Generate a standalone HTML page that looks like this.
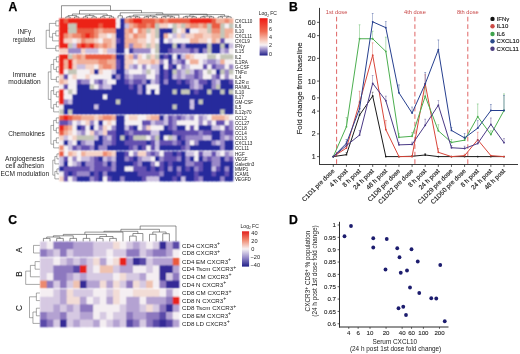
<!DOCTYPE html>
<html><head><meta charset="utf-8"><style>
html,body{margin:0;padding:0;background:#fff;}
svg{display:block;font-family:"Liberation Sans", Arial, Helvetica, sans-serif;}
</style></head><body>
<svg width="520" height="354" viewBox="0 0 520 354" shape-rendering="auto">
<defs><filter id="blur1" x="-5%" y="-5%" width="110%" height="110%"><feConvolveMatrix order="3" kernelMatrix="1 2 1 2 4 2 1 2 1" divisor="16" edgeMode="duplicate"/></filter></defs>
<rect width="520" height="354" fill="#fff"/>
<g filter="url(#blur1)">
<rect x="59.30" y="18.40" width="5.55" height="6.20" fill="#ec2219"/>
<rect x="63.65" y="18.40" width="5.55" height="6.20" fill="#ea5c42"/>
<rect x="68.00" y="18.40" width="5.55" height="6.20" fill="#ec2219"/>
<rect x="72.35" y="18.40" width="5.55" height="6.20" fill="#ec2219"/>
<rect x="76.70" y="18.40" width="5.55" height="6.20" fill="#ec2219"/>
<rect x="81.05" y="18.40" width="5.55" height="6.20" fill="#ec2219"/>
<rect x="85.40" y="18.40" width="5.55" height="6.20" fill="#ec2219"/>
<rect x="89.75" y="18.40" width="5.55" height="6.20" fill="#ec2219"/>
<rect x="94.10" y="18.40" width="5.55" height="6.20" fill="#ec2219"/>
<rect x="98.45" y="18.40" width="5.55" height="6.20" fill="#ec2219"/>
<rect x="102.80" y="18.40" width="5.55" height="6.20" fill="#ec2219"/>
<rect x="107.15" y="18.40" width="5.55" height="6.20" fill="#ec2219"/>
<rect x="111.50" y="18.40" width="5.55" height="6.20" fill="#ec2219"/>
<rect x="115.85" y="18.40" width="5.55" height="6.20" fill="#f5f0f2"/>
<rect x="120.20" y="18.40" width="5.55" height="6.20" fill="#282c9c"/>
<rect x="124.55" y="18.40" width="5.55" height="6.20" fill="#ee8a70"/>
<rect x="128.90" y="18.40" width="5.55" height="6.20" fill="#ea5c42"/>
<rect x="133.25" y="18.40" width="5.55" height="6.20" fill="#ec2219"/>
<rect x="137.60" y="18.40" width="5.55" height="6.20" fill="#ec2219"/>
<rect x="141.95" y="18.40" width="5.55" height="6.20" fill="#ea5c42"/>
<rect x="146.30" y="18.40" width="5.55" height="6.20" fill="#ea5c42"/>
<rect x="150.65" y="18.40" width="5.55" height="6.20" fill="#ea5c42"/>
<rect x="155.00" y="18.40" width="5.55" height="6.20" fill="#ee8a70"/>
<rect x="159.35" y="18.40" width="5.55" height="6.20" fill="#ea5c42"/>
<rect x="163.70" y="18.40" width="5.55" height="6.20" fill="#ee8a70"/>
<rect x="168.05" y="18.40" width="5.55" height="6.20" fill="#ea5c42"/>
<rect x="172.40" y="18.40" width="5.55" height="6.20" fill="#ea5c42"/>
<rect x="176.75" y="18.40" width="5.55" height="6.20" fill="#ea5c42"/>
<rect x="181.10" y="18.40" width="5.55" height="6.20" fill="#ea5c42"/>
<rect x="185.45" y="18.40" width="5.55" height="6.20" fill="#ea5c42"/>
<rect x="189.80" y="18.40" width="5.55" height="6.20" fill="#ec2219"/>
<rect x="194.15" y="18.40" width="5.55" height="6.20" fill="#ec2219"/>
<rect x="198.50" y="18.40" width="5.55" height="6.20" fill="#ec2219"/>
<rect x="202.85" y="18.40" width="5.55" height="6.20" fill="#ec2219"/>
<rect x="207.20" y="18.40" width="5.55" height="6.20" fill="#ec2219"/>
<rect x="211.55" y="18.40" width="5.55" height="6.20" fill="#ea5c42"/>
<rect x="215.90" y="18.40" width="5.55" height="6.20" fill="#f1b09a"/>
<rect x="220.25" y="18.40" width="5.55" height="6.20" fill="#f1b09a"/>
<rect x="224.60" y="18.40" width="5.55" height="6.20" fill="#ee8a70"/>
<rect x="228.95" y="18.40" width="4.35" height="6.20" fill="#f1b09a"/>
<rect x="59.30" y="23.40" width="5.55" height="6.20" fill="#ec2219"/>
<rect x="63.65" y="23.40" width="5.55" height="6.20" fill="#ec2219"/>
<rect x="68.00" y="23.40" width="5.55" height="6.20" fill="#c4c6b8"/>
<rect x="72.35" y="23.40" width="5.55" height="6.20" fill="#c4c6b8"/>
<rect x="76.70" y="23.40" width="5.55" height="6.20" fill="#ec2219"/>
<rect x="81.05" y="23.40" width="5.55" height="6.20" fill="#ec2219"/>
<rect x="85.40" y="23.40" width="5.55" height="6.20" fill="#ec2219"/>
<rect x="89.75" y="23.40" width="5.55" height="6.20" fill="#ec2219"/>
<rect x="94.10" y="23.40" width="5.55" height="6.20" fill="#ec2219"/>
<rect x="98.45" y="23.40" width="5.55" height="6.20" fill="#ea5c42"/>
<rect x="102.80" y="23.40" width="5.55" height="6.20" fill="#ec2219"/>
<rect x="107.15" y="23.40" width="5.55" height="6.20" fill="#ec2219"/>
<rect x="111.50" y="23.40" width="5.55" height="6.20" fill="#ec2219"/>
<rect x="115.85" y="23.40" width="5.55" height="6.20" fill="#f5f0f2"/>
<rect x="120.20" y="23.40" width="5.55" height="6.20" fill="#282c9c"/>
<rect x="124.55" y="23.40" width="5.55" height="6.20" fill="#cbbfe0"/>
<rect x="128.90" y="23.40" width="5.55" height="6.20" fill="#f1b09a"/>
<rect x="133.25" y="23.40" width="5.55" height="6.20" fill="#ee8a70"/>
<rect x="137.60" y="23.40" width="5.55" height="6.20" fill="#ea5c42"/>
<rect x="141.95" y="23.40" width="5.55" height="6.20" fill="#ea5c42"/>
<rect x="146.30" y="23.40" width="5.55" height="6.20" fill="#ee8a70"/>
<rect x="150.65" y="23.40" width="5.55" height="6.20" fill="#ea5c42"/>
<rect x="155.00" y="23.40" width="5.55" height="6.20" fill="#c4c6b8"/>
<rect x="159.35" y="23.40" width="5.55" height="6.20" fill="#f5d2c6"/>
<rect x="163.70" y="23.40" width="5.55" height="6.20" fill="#f5d2c6"/>
<rect x="168.05" y="23.40" width="5.55" height="6.20" fill="#f5f0f2"/>
<rect x="172.40" y="23.40" width="5.55" height="6.20" fill="#c4c6b8"/>
<rect x="176.75" y="23.40" width="5.55" height="6.20" fill="#f5d2c6"/>
<rect x="181.10" y="23.40" width="5.55" height="6.20" fill="#c4c6b8"/>
<rect x="185.45" y="23.40" width="5.55" height="6.20" fill="#f1b09a"/>
<rect x="189.80" y="23.40" width="5.55" height="6.20" fill="#ee8a70"/>
<rect x="194.15" y="23.40" width="5.55" height="6.20" fill="#ee8a70"/>
<rect x="198.50" y="23.40" width="5.55" height="6.20" fill="#f1b09a"/>
<rect x="202.85" y="23.40" width="5.55" height="6.20" fill="#ee8a70"/>
<rect x="207.20" y="23.40" width="5.55" height="6.20" fill="#c4c6b8"/>
<rect x="211.55" y="23.40" width="5.55" height="6.20" fill="#ea5c42"/>
<rect x="215.90" y="23.40" width="5.55" height="6.20" fill="#ea5c42"/>
<rect x="220.25" y="23.40" width="5.55" height="6.20" fill="#c4c6b8"/>
<rect x="224.60" y="23.40" width="5.55" height="6.20" fill="#f5f0f2"/>
<rect x="228.95" y="23.40" width="4.35" height="6.20" fill="#c4c6b8"/>
<rect x="59.30" y="28.40" width="5.55" height="6.20" fill="#ec2219"/>
<rect x="63.65" y="28.40" width="5.55" height="6.20" fill="#ec2219"/>
<rect x="68.00" y="28.40" width="5.55" height="6.20" fill="#c4c6b8"/>
<rect x="72.35" y="28.40" width="5.55" height="6.20" fill="#c4c6b8"/>
<rect x="76.70" y="28.40" width="5.55" height="6.20" fill="#ea5c42"/>
<rect x="81.05" y="28.40" width="5.55" height="6.20" fill="#ea5c42"/>
<rect x="85.40" y="28.40" width="5.55" height="6.20" fill="#ea5c42"/>
<rect x="89.75" y="28.40" width="5.55" height="6.20" fill="#ea5c42"/>
<rect x="94.10" y="28.40" width="5.55" height="6.20" fill="#ee8a70"/>
<rect x="98.45" y="28.40" width="5.55" height="6.20" fill="#f1b09a"/>
<rect x="102.80" y="28.40" width="5.55" height="6.20" fill="#ee8a70"/>
<rect x="107.15" y="28.40" width="5.55" height="6.20" fill="#ee8a70"/>
<rect x="111.50" y="28.40" width="5.55" height="6.20" fill="#ee8a70"/>
<rect x="115.85" y="28.40" width="5.55" height="6.20" fill="#282c9c"/>
<rect x="120.20" y="28.40" width="5.55" height="6.20" fill="#282c9c"/>
<rect x="124.55" y="28.40" width="5.55" height="6.20" fill="#f1b09a"/>
<rect x="128.90" y="28.40" width="5.55" height="6.20" fill="#ee8a70"/>
<rect x="133.25" y="28.40" width="5.55" height="6.20" fill="#f5f0f2"/>
<rect x="137.60" y="28.40" width="5.55" height="6.20" fill="#ee8a70"/>
<rect x="141.95" y="28.40" width="5.55" height="6.20" fill="#f1b09a"/>
<rect x="146.30" y="28.40" width="5.55" height="6.20" fill="#c4c6b8"/>
<rect x="150.65" y="28.40" width="5.55" height="6.20" fill="#f5d2c6"/>
<rect x="155.00" y="28.40" width="5.55" height="6.20" fill="#c4c6b8"/>
<rect x="159.35" y="28.40" width="5.55" height="6.20" fill="#282c9c"/>
<rect x="163.70" y="28.40" width="5.55" height="6.20" fill="#282c9c"/>
<rect x="168.05" y="28.40" width="5.55" height="6.20" fill="#282c9c"/>
<rect x="172.40" y="28.40" width="5.55" height="6.20" fill="#c4c6b8"/>
<rect x="176.75" y="28.40" width="5.55" height="6.20" fill="#f5f0f2"/>
<rect x="181.10" y="28.40" width="5.55" height="6.20" fill="#f5d2c6"/>
<rect x="185.45" y="28.40" width="5.55" height="6.20" fill="#282c9c"/>
<rect x="189.80" y="28.40" width="5.55" height="6.20" fill="#f5f0f2"/>
<rect x="194.15" y="28.40" width="5.55" height="6.20" fill="#f5f0f2"/>
<rect x="198.50" y="28.40" width="5.55" height="6.20" fill="#f5d2c6"/>
<rect x="202.85" y="28.40" width="5.55" height="6.20" fill="#f5d2c6"/>
<rect x="207.20" y="28.40" width="5.55" height="6.20" fill="#c4c6b8"/>
<rect x="211.55" y="28.40" width="5.55" height="6.20" fill="#ee8a70"/>
<rect x="215.90" y="28.40" width="5.55" height="6.20" fill="#ee8a70"/>
<rect x="220.25" y="28.40" width="5.55" height="6.20" fill="#c4c6b8"/>
<rect x="224.60" y="28.40" width="5.55" height="6.20" fill="#f1b09a"/>
<rect x="228.95" y="28.40" width="4.35" height="6.20" fill="#f1b09a"/>
<rect x="59.30" y="33.40" width="5.55" height="6.20" fill="#ec2219"/>
<rect x="63.65" y="33.40" width="5.55" height="6.20" fill="#ee8a70"/>
<rect x="68.00" y="33.40" width="5.55" height="6.20" fill="#f1b09a"/>
<rect x="72.35" y="33.40" width="5.55" height="6.20" fill="#ee8a70"/>
<rect x="76.70" y="33.40" width="5.55" height="6.20" fill="#ee8a70"/>
<rect x="81.05" y="33.40" width="5.55" height="6.20" fill="#ea5c42"/>
<rect x="85.40" y="33.40" width="5.55" height="6.20" fill="#ec2219"/>
<rect x="89.75" y="33.40" width="5.55" height="6.20" fill="#ea5c42"/>
<rect x="94.10" y="33.40" width="5.55" height="6.20" fill="#ee8a70"/>
<rect x="98.45" y="33.40" width="5.55" height="6.20" fill="#f5d2c6"/>
<rect x="102.80" y="33.40" width="5.55" height="6.20" fill="#f5d2c6"/>
<rect x="107.15" y="33.40" width="5.55" height="6.20" fill="#f5f0f2"/>
<rect x="111.50" y="33.40" width="5.55" height="6.20" fill="#f5d2c6"/>
<rect x="115.85" y="33.40" width="5.55" height="6.20" fill="#282c9c"/>
<rect x="120.20" y="33.40" width="5.55" height="6.20" fill="#282c9c"/>
<rect x="124.55" y="33.40" width="5.55" height="6.20" fill="#f1b09a"/>
<rect x="128.90" y="33.40" width="5.55" height="6.20" fill="#f5d2c6"/>
<rect x="133.25" y="33.40" width="5.55" height="6.20" fill="#ee8a70"/>
<rect x="137.60" y="33.40" width="5.55" height="6.20" fill="#f1b09a"/>
<rect x="141.95" y="33.40" width="5.55" height="6.20" fill="#f1b09a"/>
<rect x="146.30" y="33.40" width="5.55" height="6.20" fill="#f5f0f2"/>
<rect x="150.65" y="33.40" width="5.55" height="6.20" fill="#f5d2c6"/>
<rect x="155.00" y="33.40" width="5.55" height="6.20" fill="#c4c6b8"/>
<rect x="159.35" y="33.40" width="5.55" height="6.20" fill="#282c9c"/>
<rect x="163.70" y="33.40" width="5.55" height="6.20" fill="#f1b09a"/>
<rect x="168.05" y="33.40" width="5.55" height="6.20" fill="#f5f0f2"/>
<rect x="172.40" y="33.40" width="5.55" height="6.20" fill="#cbbfe0"/>
<rect x="176.75" y="33.40" width="5.55" height="6.20" fill="#f5d2c6"/>
<rect x="181.10" y="33.40" width="5.55" height="6.20" fill="#cbbfe0"/>
<rect x="185.45" y="33.40" width="5.55" height="6.20" fill="#f5d2c6"/>
<rect x="189.80" y="33.40" width="5.55" height="6.20" fill="#f5d2c6"/>
<rect x="194.15" y="33.40" width="5.55" height="6.20" fill="#f1b09a"/>
<rect x="198.50" y="33.40" width="5.55" height="6.20" fill="#f1b09a"/>
<rect x="202.85" y="33.40" width="5.55" height="6.20" fill="#f5d2c6"/>
<rect x="207.20" y="33.40" width="5.55" height="6.20" fill="#f5d2c6"/>
<rect x="211.55" y="33.40" width="5.55" height="6.20" fill="#f1b09a"/>
<rect x="215.90" y="33.40" width="5.55" height="6.20" fill="#f1b09a"/>
<rect x="220.25" y="33.40" width="5.55" height="6.20" fill="#c4c6b8"/>
<rect x="224.60" y="33.40" width="5.55" height="6.20" fill="#f1b09a"/>
<rect x="228.95" y="33.40" width="4.35" height="6.20" fill="#f5d2c6"/>
<rect x="59.30" y="38.40" width="5.55" height="6.20" fill="#ec2219"/>
<rect x="63.65" y="38.40" width="5.55" height="6.20" fill="#f5d2c6"/>
<rect x="68.00" y="38.40" width="5.55" height="6.20" fill="#f5d2c6"/>
<rect x="72.35" y="38.40" width="5.55" height="6.20" fill="#f5f0f2"/>
<rect x="76.70" y="38.40" width="5.55" height="6.20" fill="#f5d2c6"/>
<rect x="81.05" y="38.40" width="5.55" height="6.20" fill="#ee8a70"/>
<rect x="85.40" y="38.40" width="5.55" height="6.20" fill="#f1b09a"/>
<rect x="89.75" y="38.40" width="5.55" height="6.20" fill="#f1b09a"/>
<rect x="94.10" y="38.40" width="5.55" height="6.20" fill="#f5d2c6"/>
<rect x="98.45" y="38.40" width="5.55" height="6.20" fill="#f5f0f2"/>
<rect x="102.80" y="38.40" width="5.55" height="6.20" fill="#f1b09a"/>
<rect x="107.15" y="38.40" width="5.55" height="6.20" fill="#f1b09a"/>
<rect x="111.50" y="38.40" width="5.55" height="6.20" fill="#f5d2c6"/>
<rect x="115.85" y="38.40" width="5.55" height="6.20" fill="#6450b0"/>
<rect x="120.20" y="38.40" width="5.55" height="6.20" fill="#282c9c"/>
<rect x="124.55" y="38.40" width="5.55" height="6.20" fill="#f1b09a"/>
<rect x="128.90" y="38.40" width="5.55" height="6.20" fill="#f1b09a"/>
<rect x="133.25" y="38.40" width="5.55" height="6.20" fill="#f1b09a"/>
<rect x="137.60" y="38.40" width="5.55" height="6.20" fill="#f5d2c6"/>
<rect x="141.95" y="38.40" width="5.55" height="6.20" fill="#f5d2c6"/>
<rect x="146.30" y="38.40" width="5.55" height="6.20" fill="#f5f0f2"/>
<rect x="150.65" y="38.40" width="5.55" height="6.20" fill="#f5d2c6"/>
<rect x="155.00" y="38.40" width="5.55" height="6.20" fill="#f5f0f2"/>
<rect x="159.35" y="38.40" width="5.55" height="6.20" fill="#282c9c"/>
<rect x="163.70" y="38.40" width="5.55" height="6.20" fill="#f5f0f2"/>
<rect x="168.05" y="38.40" width="5.55" height="6.20" fill="#cbbfe0"/>
<rect x="172.40" y="38.40" width="5.55" height="6.20" fill="#f5f0f2"/>
<rect x="176.75" y="38.40" width="5.55" height="6.20" fill="#f5f0f2"/>
<rect x="181.10" y="38.40" width="5.55" height="6.20" fill="#f5f0f2"/>
<rect x="185.45" y="38.40" width="5.55" height="6.20" fill="#f5f0f2"/>
<rect x="189.80" y="38.40" width="5.55" height="6.20" fill="#f1b09a"/>
<rect x="194.15" y="38.40" width="5.55" height="6.20" fill="#f1b09a"/>
<rect x="198.50" y="38.40" width="5.55" height="6.20" fill="#f5d2c6"/>
<rect x="202.85" y="38.40" width="5.55" height="6.20" fill="#f5d2c6"/>
<rect x="207.20" y="38.40" width="5.55" height="6.20" fill="#f5f0f2"/>
<rect x="211.55" y="38.40" width="5.55" height="6.20" fill="#f1b09a"/>
<rect x="215.90" y="38.40" width="5.55" height="6.20" fill="#f5d2c6"/>
<rect x="220.25" y="38.40" width="5.55" height="6.20" fill="#6450b0"/>
<rect x="224.60" y="38.40" width="5.55" height="6.20" fill="#f5f0f2"/>
<rect x="228.95" y="38.40" width="4.35" height="6.20" fill="#f5f0f2"/>
<rect x="59.30" y="43.40" width="5.55" height="6.20" fill="#ec2219"/>
<rect x="63.65" y="43.40" width="5.55" height="6.20" fill="#ec2219"/>
<rect x="68.00" y="43.40" width="5.55" height="6.20" fill="#c4c6b8"/>
<rect x="72.35" y="43.40" width="5.55" height="6.20" fill="#cbbfe0"/>
<rect x="76.70" y="43.40" width="5.55" height="6.20" fill="#ea5c42"/>
<rect x="81.05" y="43.40" width="5.55" height="6.20" fill="#ec2219"/>
<rect x="85.40" y="43.40" width="5.55" height="6.20" fill="#ea5c42"/>
<rect x="89.75" y="43.40" width="5.55" height="6.20" fill="#ec2219"/>
<rect x="94.10" y="43.40" width="5.55" height="6.20" fill="#ee8a70"/>
<rect x="98.45" y="43.40" width="5.55" height="6.20" fill="#f1b09a"/>
<rect x="102.80" y="43.40" width="5.55" height="6.20" fill="#ee8a70"/>
<rect x="107.15" y="43.40" width="5.55" height="6.20" fill="#f1b09a"/>
<rect x="111.50" y="43.40" width="5.55" height="6.20" fill="#f5d2c6"/>
<rect x="115.85" y="43.40" width="5.55" height="6.20" fill="#282c9c"/>
<rect x="120.20" y="43.40" width="5.55" height="6.20" fill="#282c9c"/>
<rect x="124.55" y="43.40" width="5.55" height="6.20" fill="#f1b09a"/>
<rect x="128.90" y="43.40" width="5.55" height="6.20" fill="#9a88c8"/>
<rect x="133.25" y="43.40" width="5.55" height="6.20" fill="#f1b09a"/>
<rect x="137.60" y="43.40" width="5.55" height="6.20" fill="#f1b09a"/>
<rect x="141.95" y="43.40" width="5.55" height="6.20" fill="#f5d2c6"/>
<rect x="146.30" y="43.40" width="5.55" height="6.20" fill="#c4c6b8"/>
<rect x="150.65" y="43.40" width="5.55" height="6.20" fill="#f5d2c6"/>
<rect x="155.00" y="43.40" width="5.55" height="6.20" fill="#c4c6b8"/>
<rect x="159.35" y="43.40" width="5.55" height="6.20" fill="#282c9c"/>
<rect x="163.70" y="43.40" width="5.55" height="6.20" fill="#282c9c"/>
<rect x="168.05" y="43.40" width="5.55" height="6.20" fill="#282c9c"/>
<rect x="172.40" y="43.40" width="5.55" height="6.20" fill="#c4c6b8"/>
<rect x="176.75" y="43.40" width="5.55" height="6.20" fill="#282c9c"/>
<rect x="181.10" y="43.40" width="5.55" height="6.20" fill="#9a88c8"/>
<rect x="185.45" y="43.40" width="5.55" height="6.20" fill="#282c9c"/>
<rect x="189.80" y="43.40" width="5.55" height="6.20" fill="#282c9c"/>
<rect x="194.15" y="43.40" width="5.55" height="6.20" fill="#282c9c"/>
<rect x="198.50" y="43.40" width="5.55" height="6.20" fill="#282c9c"/>
<rect x="202.85" y="43.40" width="5.55" height="6.20" fill="#282c9c"/>
<rect x="207.20" y="43.40" width="5.55" height="6.20" fill="#c4c6b8"/>
<rect x="211.55" y="43.40" width="5.55" height="6.20" fill="#282c9c"/>
<rect x="215.90" y="43.40" width="5.55" height="6.20" fill="#282c9c"/>
<rect x="220.25" y="43.40" width="5.55" height="6.20" fill="#c4c6b8"/>
<rect x="224.60" y="43.40" width="5.55" height="6.20" fill="#282c9c"/>
<rect x="228.95" y="43.40" width="4.35" height="6.20" fill="#cbbfe0"/>
<rect x="59.30" y="48.40" width="5.55" height="5.00" fill="#f5d2c6"/>
<rect x="63.65" y="48.40" width="5.55" height="5.00" fill="#f5d2c6"/>
<rect x="68.00" y="48.40" width="5.55" height="5.00" fill="#9a88c8"/>
<rect x="72.35" y="48.40" width="5.55" height="5.00" fill="#9a88c8"/>
<rect x="76.70" y="48.40" width="5.55" height="5.00" fill="#9a88c8"/>
<rect x="81.05" y="48.40" width="5.55" height="5.00" fill="#f5d2c6"/>
<rect x="85.40" y="48.40" width="5.55" height="5.00" fill="#cbbfe0"/>
<rect x="89.75" y="48.40" width="5.55" height="5.00" fill="#cbbfe0"/>
<rect x="94.10" y="48.40" width="5.55" height="5.00" fill="#cbbfe0"/>
<rect x="98.45" y="48.40" width="5.55" height="5.00" fill="#f5f0f2"/>
<rect x="102.80" y="48.40" width="5.55" height="5.00" fill="#f5d2c6"/>
<rect x="107.15" y="48.40" width="5.55" height="5.00" fill="#cbbfe0"/>
<rect x="111.50" y="48.40" width="5.55" height="5.00" fill="#cbbfe0"/>
<rect x="115.85" y="48.40" width="5.55" height="5.00" fill="#282c9c"/>
<rect x="120.20" y="48.40" width="5.55" height="5.00" fill="#282c9c"/>
<rect x="124.55" y="48.40" width="5.55" height="5.00" fill="#f5f0f2"/>
<rect x="128.90" y="48.40" width="5.55" height="5.00" fill="#3f3aa3"/>
<rect x="133.25" y="48.40" width="5.55" height="5.00" fill="#9a88c8"/>
<rect x="137.60" y="48.40" width="5.55" height="5.00" fill="#9a88c8"/>
<rect x="141.95" y="48.40" width="5.55" height="5.00" fill="#9a88c8"/>
<rect x="146.30" y="48.40" width="5.55" height="5.00" fill="#9a88c8"/>
<rect x="150.65" y="48.40" width="5.55" height="5.00" fill="#f5f0f2"/>
<rect x="155.00" y="48.40" width="5.55" height="5.00" fill="#c4c6b8"/>
<rect x="159.35" y="48.40" width="5.55" height="5.00" fill="#282c9c"/>
<rect x="163.70" y="48.40" width="5.55" height="5.00" fill="#282c9c"/>
<rect x="168.05" y="48.40" width="5.55" height="5.00" fill="#6450b0"/>
<rect x="172.40" y="48.40" width="5.55" height="5.00" fill="#9a88c8"/>
<rect x="176.75" y="48.40" width="5.55" height="5.00" fill="#9a88c8"/>
<rect x="181.10" y="48.40" width="5.55" height="5.00" fill="#9a88c8"/>
<rect x="185.45" y="48.40" width="5.55" height="5.00" fill="#9a88c8"/>
<rect x="189.80" y="48.40" width="5.55" height="5.00" fill="#6450b0"/>
<rect x="194.15" y="48.40" width="5.55" height="5.00" fill="#9a88c8"/>
<rect x="198.50" y="48.40" width="5.55" height="5.00" fill="#282c9c"/>
<rect x="202.85" y="48.40" width="5.55" height="5.00" fill="#9a88c8"/>
<rect x="207.20" y="48.40" width="5.55" height="5.00" fill="#c4c6b8"/>
<rect x="211.55" y="48.40" width="5.55" height="5.00" fill="#282c9c"/>
<rect x="215.90" y="48.40" width="5.55" height="5.00" fill="#282c9c"/>
<rect x="220.25" y="48.40" width="5.55" height="5.00" fill="#cbbfe0"/>
<rect x="224.60" y="48.40" width="5.55" height="5.00" fill="#9a88c8"/>
<rect x="228.95" y="48.40" width="4.35" height="5.00" fill="#f5f0f2"/>
<rect x="59.30" y="54.40" width="5.55" height="6.20" fill="#ec2219"/>
<rect x="63.65" y="54.40" width="5.55" height="6.20" fill="#ec2219"/>
<rect x="68.00" y="54.40" width="5.55" height="6.20" fill="#c4c6b8"/>
<rect x="72.35" y="54.40" width="5.55" height="6.20" fill="#f1b09a"/>
<rect x="76.70" y="54.40" width="5.55" height="6.20" fill="#ee8a70"/>
<rect x="81.05" y="54.40" width="5.55" height="6.20" fill="#f1b09a"/>
<rect x="85.40" y="54.40" width="5.55" height="6.20" fill="#ea5c42"/>
<rect x="89.75" y="54.40" width="5.55" height="6.20" fill="#ea5c42"/>
<rect x="94.10" y="54.40" width="5.55" height="6.20" fill="#ea5c42"/>
<rect x="98.45" y="54.40" width="5.55" height="6.20" fill="#ea5c42"/>
<rect x="102.80" y="54.40" width="5.55" height="6.20" fill="#ea5c42"/>
<rect x="107.15" y="54.40" width="5.55" height="6.20" fill="#ea5c42"/>
<rect x="111.50" y="54.40" width="5.55" height="6.20" fill="#ee8a70"/>
<rect x="115.85" y="54.40" width="5.55" height="6.20" fill="#282c9c"/>
<rect x="120.20" y="54.40" width="5.55" height="6.20" fill="#282c9c"/>
<rect x="124.55" y="54.40" width="5.55" height="6.20" fill="#f5d2c6"/>
<rect x="128.90" y="54.40" width="5.55" height="6.20" fill="#f1b09a"/>
<rect x="133.25" y="54.40" width="5.55" height="6.20" fill="#9a88c8"/>
<rect x="137.60" y="54.40" width="5.55" height="6.20" fill="#f5d2c6"/>
<rect x="141.95" y="54.40" width="5.55" height="6.20" fill="#f5f0f2"/>
<rect x="146.30" y="54.40" width="5.55" height="6.20" fill="#c4c6b8"/>
<rect x="150.65" y="54.40" width="5.55" height="6.20" fill="#f5d2c6"/>
<rect x="155.00" y="54.40" width="5.55" height="6.20" fill="#c4c6b8"/>
<rect x="159.35" y="54.40" width="5.55" height="6.20" fill="#282c9c"/>
<rect x="163.70" y="54.40" width="5.55" height="6.20" fill="#6450b0"/>
<rect x="168.05" y="54.40" width="5.55" height="6.20" fill="#282c9c"/>
<rect x="172.40" y="54.40" width="5.55" height="6.20" fill="#f5f0f2"/>
<rect x="176.75" y="54.40" width="5.55" height="6.20" fill="#282c9c"/>
<rect x="181.10" y="54.40" width="5.55" height="6.20" fill="#cbbfe0"/>
<rect x="185.45" y="54.40" width="5.55" height="6.20" fill="#f1b09a"/>
<rect x="189.80" y="54.40" width="5.55" height="6.20" fill="#f5d2c6"/>
<rect x="194.15" y="54.40" width="5.55" height="6.20" fill="#f5f0f2"/>
<rect x="198.50" y="54.40" width="5.55" height="6.20" fill="#f5f0f2"/>
<rect x="202.85" y="54.40" width="5.55" height="6.20" fill="#f5f0f2"/>
<rect x="207.20" y="54.40" width="5.55" height="6.20" fill="#c4c6b8"/>
<rect x="211.55" y="54.40" width="5.55" height="6.20" fill="#c4c6b8"/>
<rect x="215.90" y="54.40" width="5.55" height="6.20" fill="#f5f0f2"/>
<rect x="220.25" y="54.40" width="5.55" height="6.20" fill="#c4c6b8"/>
<rect x="224.60" y="54.40" width="5.55" height="6.20" fill="#c4c6b8"/>
<rect x="228.95" y="54.40" width="4.35" height="6.20" fill="#c4c6b8"/>
<rect x="59.30" y="59.40" width="5.55" height="6.20" fill="#ec2219"/>
<rect x="63.65" y="59.40" width="5.55" height="6.20" fill="#f1b09a"/>
<rect x="68.00" y="59.40" width="5.55" height="6.20" fill="#ec2219"/>
<rect x="72.35" y="59.40" width="5.55" height="6.20" fill="#f5d2c6"/>
<rect x="76.70" y="59.40" width="5.55" height="6.20" fill="#f1b09a"/>
<rect x="81.05" y="59.40" width="5.55" height="6.20" fill="#f1b09a"/>
<rect x="85.40" y="59.40" width="5.55" height="6.20" fill="#f1b09a"/>
<rect x="89.75" y="59.40" width="5.55" height="6.20" fill="#f1b09a"/>
<rect x="94.10" y="59.40" width="5.55" height="6.20" fill="#f1b09a"/>
<rect x="98.45" y="59.40" width="5.55" height="6.20" fill="#ee8a70"/>
<rect x="102.80" y="59.40" width="5.55" height="6.20" fill="#ee8a70"/>
<rect x="107.15" y="59.40" width="5.55" height="6.20" fill="#f1b09a"/>
<rect x="111.50" y="59.40" width="5.55" height="6.20" fill="#f1b09a"/>
<rect x="115.85" y="59.40" width="5.55" height="6.20" fill="#6450b0"/>
<rect x="120.20" y="59.40" width="5.55" height="6.20" fill="#282c9c"/>
<rect x="124.55" y="59.40" width="5.55" height="6.20" fill="#f5d2c6"/>
<rect x="128.90" y="59.40" width="5.55" height="6.20" fill="#f5d2c6"/>
<rect x="133.25" y="59.40" width="5.55" height="6.20" fill="#f5f0f2"/>
<rect x="137.60" y="59.40" width="5.55" height="6.20" fill="#f5d2c6"/>
<rect x="141.95" y="59.40" width="5.55" height="6.20" fill="#f5d2c6"/>
<rect x="146.30" y="59.40" width="5.55" height="6.20" fill="#f5d2c6"/>
<rect x="150.65" y="59.40" width="5.55" height="6.20" fill="#f1b09a"/>
<rect x="155.00" y="59.40" width="5.55" height="6.20" fill="#f5d2c6"/>
<rect x="159.35" y="59.40" width="5.55" height="6.20" fill="#9a88c8"/>
<rect x="163.70" y="59.40" width="5.55" height="6.20" fill="#f5f0f2"/>
<rect x="168.05" y="59.40" width="5.55" height="6.20" fill="#3f3aa3"/>
<rect x="172.40" y="59.40" width="5.55" height="6.20" fill="#cbbfe0"/>
<rect x="176.75" y="59.40" width="5.55" height="6.20" fill="#9a88c8"/>
<rect x="181.10" y="59.40" width="5.55" height="6.20" fill="#6450b0"/>
<rect x="185.45" y="59.40" width="5.55" height="6.20" fill="#f5f0f2"/>
<rect x="189.80" y="59.40" width="5.55" height="6.20" fill="#f1b09a"/>
<rect x="194.15" y="59.40" width="5.55" height="6.20" fill="#f1b09a"/>
<rect x="198.50" y="59.40" width="5.55" height="6.20" fill="#f5f0f2"/>
<rect x="202.85" y="59.40" width="5.55" height="6.20" fill="#cbbfe0"/>
<rect x="207.20" y="59.40" width="5.55" height="6.20" fill="#9a88c8"/>
<rect x="211.55" y="59.40" width="5.55" height="6.20" fill="#9a88c8"/>
<rect x="215.90" y="59.40" width="5.55" height="6.20" fill="#cbbfe0"/>
<rect x="220.25" y="59.40" width="5.55" height="6.20" fill="#f1b09a"/>
<rect x="224.60" y="59.40" width="5.55" height="6.20" fill="#f5f0f2"/>
<rect x="228.95" y="59.40" width="4.35" height="6.20" fill="#f5f0f2"/>
<rect x="59.30" y="64.40" width="5.55" height="6.20" fill="#ec2219"/>
<rect x="63.65" y="64.40" width="5.55" height="6.20" fill="#f1b09a"/>
<rect x="68.00" y="64.40" width="5.55" height="6.20" fill="#ec2219"/>
<rect x="72.35" y="64.40" width="5.55" height="6.20" fill="#f5d2c6"/>
<rect x="76.70" y="64.40" width="5.55" height="6.20" fill="#cbbfe0"/>
<rect x="81.05" y="64.40" width="5.55" height="6.20" fill="#cbbfe0"/>
<rect x="85.40" y="64.40" width="5.55" height="6.20" fill="#f5d2c6"/>
<rect x="89.75" y="64.40" width="5.55" height="6.20" fill="#f5d2c6"/>
<rect x="94.10" y="64.40" width="5.55" height="6.20" fill="#f5f0f2"/>
<rect x="98.45" y="64.40" width="5.55" height="6.20" fill="#f1b09a"/>
<rect x="102.80" y="64.40" width="5.55" height="6.20" fill="#ee8a70"/>
<rect x="107.15" y="64.40" width="5.55" height="6.20" fill="#ee8a70"/>
<rect x="111.50" y="64.40" width="5.55" height="6.20" fill="#f1b09a"/>
<rect x="115.85" y="64.40" width="5.55" height="6.20" fill="#6450b0"/>
<rect x="120.20" y="64.40" width="5.55" height="6.20" fill="#282c9c"/>
<rect x="124.55" y="64.40" width="5.55" height="6.20" fill="#f5d2c6"/>
<rect x="128.90" y="64.40" width="5.55" height="6.20" fill="#cbbfe0"/>
<rect x="133.25" y="64.40" width="5.55" height="6.20" fill="#9a88c8"/>
<rect x="137.60" y="64.40" width="5.55" height="6.20" fill="#f5f0f2"/>
<rect x="141.95" y="64.40" width="5.55" height="6.20" fill="#9a88c8"/>
<rect x="146.30" y="64.40" width="5.55" height="6.20" fill="#f5f0f2"/>
<rect x="150.65" y="64.40" width="5.55" height="6.20" fill="#cbbfe0"/>
<rect x="155.00" y="64.40" width="5.55" height="6.20" fill="#cbbfe0"/>
<rect x="159.35" y="64.40" width="5.55" height="6.20" fill="#282c9c"/>
<rect x="163.70" y="64.40" width="5.55" height="6.20" fill="#f5f0f2"/>
<rect x="168.05" y="64.40" width="5.55" height="6.20" fill="#6450b0"/>
<rect x="172.40" y="64.40" width="5.55" height="6.20" fill="#282c9c"/>
<rect x="176.75" y="64.40" width="5.55" height="6.20" fill="#f5f0f2"/>
<rect x="181.10" y="64.40" width="5.55" height="6.20" fill="#9a88c8"/>
<rect x="185.45" y="64.40" width="5.55" height="6.20" fill="#cbbfe0"/>
<rect x="189.80" y="64.40" width="5.55" height="6.20" fill="#f5f0f2"/>
<rect x="194.15" y="64.40" width="5.55" height="6.20" fill="#f5f0f2"/>
<rect x="198.50" y="64.40" width="5.55" height="6.20" fill="#f5f0f2"/>
<rect x="202.85" y="64.40" width="5.55" height="6.20" fill="#6450b0"/>
<rect x="207.20" y="64.40" width="5.55" height="6.20" fill="#f5f0f2"/>
<rect x="211.55" y="64.40" width="5.55" height="6.20" fill="#6450b0"/>
<rect x="215.90" y="64.40" width="5.55" height="6.20" fill="#9a88c8"/>
<rect x="220.25" y="64.40" width="5.55" height="6.20" fill="#9a88c8"/>
<rect x="224.60" y="64.40" width="5.55" height="6.20" fill="#f5f0f2"/>
<rect x="228.95" y="64.40" width="4.35" height="6.20" fill="#9a88c8"/>
<rect x="59.30" y="69.40" width="5.55" height="6.20" fill="#ec2219"/>
<rect x="63.65" y="69.40" width="5.55" height="6.20" fill="#f5f0f2"/>
<rect x="68.00" y="69.40" width="5.55" height="6.20" fill="#c4c6b8"/>
<rect x="72.35" y="69.40" width="5.55" height="6.20" fill="#c4c6b8"/>
<rect x="76.70" y="69.40" width="5.55" height="6.20" fill="#f5f0f2"/>
<rect x="81.05" y="69.40" width="5.55" height="6.20" fill="#f5f0f2"/>
<rect x="85.40" y="69.40" width="5.55" height="6.20" fill="#f5f0f2"/>
<rect x="89.75" y="69.40" width="5.55" height="6.20" fill="#f5d2c6"/>
<rect x="94.10" y="69.40" width="5.55" height="6.20" fill="#282c9c"/>
<rect x="98.45" y="69.40" width="5.55" height="6.20" fill="#f5d2c6"/>
<rect x="102.80" y="69.40" width="5.55" height="6.20" fill="#f5f0f2"/>
<rect x="107.15" y="69.40" width="5.55" height="6.20" fill="#f5f0f2"/>
<rect x="111.50" y="69.40" width="5.55" height="6.20" fill="#cbbfe0"/>
<rect x="115.85" y="69.40" width="5.55" height="6.20" fill="#282c9c"/>
<rect x="120.20" y="69.40" width="5.55" height="6.20" fill="#282c9c"/>
<rect x="124.55" y="69.40" width="5.55" height="6.20" fill="#cbbfe0"/>
<rect x="128.90" y="69.40" width="5.55" height="6.20" fill="#f5f0f2"/>
<rect x="133.25" y="69.40" width="5.55" height="6.20" fill="#f5f0f2"/>
<rect x="137.60" y="69.40" width="5.55" height="6.20" fill="#f5f0f2"/>
<rect x="141.95" y="69.40" width="5.55" height="6.20" fill="#cbbfe0"/>
<rect x="146.30" y="69.40" width="5.55" height="6.20" fill="#c4c6b8"/>
<rect x="150.65" y="69.40" width="5.55" height="6.20" fill="#f5f0f2"/>
<rect x="155.00" y="69.40" width="5.55" height="6.20" fill="#cbbfe0"/>
<rect x="159.35" y="69.40" width="5.55" height="6.20" fill="#282c9c"/>
<rect x="163.70" y="69.40" width="5.55" height="6.20" fill="#6450b0"/>
<rect x="168.05" y="69.40" width="5.55" height="6.20" fill="#282c9c"/>
<rect x="172.40" y="69.40" width="5.55" height="6.20" fill="#c4c6b8"/>
<rect x="176.75" y="69.40" width="5.55" height="6.20" fill="#9a88c8"/>
<rect x="181.10" y="69.40" width="5.55" height="6.20" fill="#cbbfe0"/>
<rect x="185.45" y="69.40" width="5.55" height="6.20" fill="#c4c6b8"/>
<rect x="189.80" y="69.40" width="5.55" height="6.20" fill="#cbbfe0"/>
<rect x="194.15" y="69.40" width="5.55" height="6.20" fill="#6450b0"/>
<rect x="198.50" y="69.40" width="5.55" height="6.20" fill="#9a88c8"/>
<rect x="202.85" y="69.40" width="5.55" height="6.20" fill="#f5f0f2"/>
<rect x="207.20" y="69.40" width="5.55" height="6.20" fill="#c4c6b8"/>
<rect x="211.55" y="69.40" width="5.55" height="6.20" fill="#f5f0f2"/>
<rect x="215.90" y="69.40" width="5.55" height="6.20" fill="#282c9c"/>
<rect x="220.25" y="69.40" width="5.55" height="6.20" fill="#c4c6b8"/>
<rect x="224.60" y="69.40" width="5.55" height="6.20" fill="#9a88c8"/>
<rect x="228.95" y="69.40" width="4.35" height="6.20" fill="#c4c6b8"/>
<rect x="59.30" y="74.40" width="5.55" height="6.20" fill="#f5d2c6"/>
<rect x="63.65" y="74.40" width="5.55" height="6.20" fill="#6450b0"/>
<rect x="68.00" y="74.40" width="5.55" height="6.20" fill="#f5f0f2"/>
<rect x="72.35" y="74.40" width="5.55" height="6.20" fill="#f5d2c6"/>
<rect x="76.70" y="74.40" width="5.55" height="6.20" fill="#f5f0f2"/>
<rect x="81.05" y="74.40" width="5.55" height="6.20" fill="#f5f0f2"/>
<rect x="85.40" y="74.40" width="5.55" height="6.20" fill="#f5d2c6"/>
<rect x="89.75" y="74.40" width="5.55" height="6.20" fill="#f5f0f2"/>
<rect x="94.10" y="74.40" width="5.55" height="6.20" fill="#f5f0f2"/>
<rect x="98.45" y="74.40" width="5.55" height="6.20" fill="#f5f0f2"/>
<rect x="102.80" y="74.40" width="5.55" height="6.20" fill="#f5f0f2"/>
<rect x="107.15" y="74.40" width="5.55" height="6.20" fill="#f5f0f2"/>
<rect x="111.50" y="74.40" width="5.55" height="6.20" fill="#282c9c"/>
<rect x="115.85" y="74.40" width="5.55" height="6.20" fill="#9a88c8"/>
<rect x="120.20" y="74.40" width="5.55" height="6.20" fill="#282c9c"/>
<rect x="124.55" y="74.40" width="5.55" height="6.20" fill="#9a88c8"/>
<rect x="128.90" y="74.40" width="5.55" height="6.20" fill="#cbbfe0"/>
<rect x="133.25" y="74.40" width="5.55" height="6.20" fill="#9a88c8"/>
<rect x="137.60" y="74.40" width="5.55" height="6.20" fill="#9a88c8"/>
<rect x="141.95" y="74.40" width="5.55" height="6.20" fill="#9a88c8"/>
<rect x="146.30" y="74.40" width="5.55" height="6.20" fill="#f5f0f2"/>
<rect x="150.65" y="74.40" width="5.55" height="6.20" fill="#f5f0f2"/>
<rect x="155.00" y="74.40" width="5.55" height="6.20" fill="#9a88c8"/>
<rect x="159.35" y="74.40" width="5.55" height="6.20" fill="#282c9c"/>
<rect x="163.70" y="74.40" width="5.55" height="6.20" fill="#6450b0"/>
<rect x="168.05" y="74.40" width="5.55" height="6.20" fill="#282c9c"/>
<rect x="172.40" y="74.40" width="5.55" height="6.20" fill="#cbbfe0"/>
<rect x="176.75" y="74.40" width="5.55" height="6.20" fill="#9a88c8"/>
<rect x="181.10" y="74.40" width="5.55" height="6.20" fill="#cbbfe0"/>
<rect x="185.45" y="74.40" width="5.55" height="6.20" fill="#9a88c8"/>
<rect x="189.80" y="74.40" width="5.55" height="6.20" fill="#9a88c8"/>
<rect x="194.15" y="74.40" width="5.55" height="6.20" fill="#6450b0"/>
<rect x="198.50" y="74.40" width="5.55" height="6.20" fill="#9a88c8"/>
<rect x="202.85" y="74.40" width="5.55" height="6.20" fill="#f5f0f2"/>
<rect x="207.20" y="74.40" width="5.55" height="6.20" fill="#f5f0f2"/>
<rect x="211.55" y="74.40" width="5.55" height="6.20" fill="#9a88c8"/>
<rect x="215.90" y="74.40" width="5.55" height="6.20" fill="#6450b0"/>
<rect x="220.25" y="74.40" width="5.55" height="6.20" fill="#f5f0f2"/>
<rect x="224.60" y="74.40" width="5.55" height="6.20" fill="#9a88c8"/>
<rect x="228.95" y="74.40" width="4.35" height="6.20" fill="#f5f0f2"/>
<rect x="59.30" y="79.40" width="5.55" height="6.20" fill="#f1b09a"/>
<rect x="63.65" y="79.40" width="5.55" height="6.20" fill="#f5d2c6"/>
<rect x="68.00" y="79.40" width="5.55" height="6.20" fill="#f5f0f2"/>
<rect x="72.35" y="79.40" width="5.55" height="6.20" fill="#f5f0f2"/>
<rect x="76.70" y="79.40" width="5.55" height="6.20" fill="#6450b0"/>
<rect x="81.05" y="79.40" width="5.55" height="6.20" fill="#9a88c8"/>
<rect x="85.40" y="79.40" width="5.55" height="6.20" fill="#9a88c8"/>
<rect x="89.75" y="79.40" width="5.55" height="6.20" fill="#f5f0f2"/>
<rect x="94.10" y="79.40" width="5.55" height="6.20" fill="#9a88c8"/>
<rect x="98.45" y="79.40" width="5.55" height="6.20" fill="#6450b0"/>
<rect x="102.80" y="79.40" width="5.55" height="6.20" fill="#cbbfe0"/>
<rect x="107.15" y="79.40" width="5.55" height="6.20" fill="#f5f0f2"/>
<rect x="111.50" y="79.40" width="5.55" height="6.20" fill="#f5f0f2"/>
<rect x="115.85" y="79.40" width="5.55" height="6.20" fill="#282c9c"/>
<rect x="120.20" y="79.40" width="5.55" height="6.20" fill="#282c9c"/>
<rect x="124.55" y="79.40" width="5.55" height="6.20" fill="#6450b0"/>
<rect x="128.90" y="79.40" width="5.55" height="6.20" fill="#9a88c8"/>
<rect x="133.25" y="79.40" width="5.55" height="6.20" fill="#6450b0"/>
<rect x="137.60" y="79.40" width="5.55" height="6.20" fill="#6450b0"/>
<rect x="141.95" y="79.40" width="5.55" height="6.20" fill="#9a88c8"/>
<rect x="146.30" y="79.40" width="5.55" height="6.20" fill="#282c9c"/>
<rect x="150.65" y="79.40" width="5.55" height="6.20" fill="#cbbfe0"/>
<rect x="155.00" y="79.40" width="5.55" height="6.20" fill="#9a88c8"/>
<rect x="159.35" y="79.40" width="5.55" height="6.20" fill="#282c9c"/>
<rect x="163.70" y="79.40" width="5.55" height="6.20" fill="#9a88c8"/>
<rect x="168.05" y="79.40" width="5.55" height="6.20" fill="#282c9c"/>
<rect x="172.40" y="79.40" width="5.55" height="6.20" fill="#282c9c"/>
<rect x="176.75" y="79.40" width="5.55" height="6.20" fill="#6450b0"/>
<rect x="181.10" y="79.40" width="5.55" height="6.20" fill="#282c9c"/>
<rect x="185.45" y="79.40" width="5.55" height="6.20" fill="#6450b0"/>
<rect x="189.80" y="79.40" width="5.55" height="6.20" fill="#9a88c8"/>
<rect x="194.15" y="79.40" width="5.55" height="6.20" fill="#cbbfe0"/>
<rect x="198.50" y="79.40" width="5.55" height="6.20" fill="#6450b0"/>
<rect x="202.85" y="79.40" width="5.55" height="6.20" fill="#6450b0"/>
<rect x="207.20" y="79.40" width="5.55" height="6.20" fill="#282c9c"/>
<rect x="211.55" y="79.40" width="5.55" height="6.20" fill="#9a88c8"/>
<rect x="215.90" y="79.40" width="5.55" height="6.20" fill="#cbbfe0"/>
<rect x="220.25" y="79.40" width="5.55" height="6.20" fill="#282c9c"/>
<rect x="224.60" y="79.40" width="5.55" height="6.20" fill="#282c9c"/>
<rect x="228.95" y="79.40" width="4.35" height="6.20" fill="#6450b0"/>
<rect x="59.30" y="84.40" width="5.55" height="6.20" fill="#f5f0f2"/>
<rect x="63.65" y="84.40" width="5.55" height="6.20" fill="#6450b0"/>
<rect x="68.00" y="84.40" width="5.55" height="6.20" fill="#f5f0f2"/>
<rect x="72.35" y="84.40" width="5.55" height="6.20" fill="#f5f0f2"/>
<rect x="76.70" y="84.40" width="5.55" height="6.20" fill="#282c9c"/>
<rect x="81.05" y="84.40" width="5.55" height="6.20" fill="#282c9c"/>
<rect x="85.40" y="84.40" width="5.55" height="6.20" fill="#282c9c"/>
<rect x="89.75" y="84.40" width="5.55" height="6.20" fill="#c4c6b8"/>
<rect x="94.10" y="84.40" width="5.55" height="6.20" fill="#f5f0f2"/>
<rect x="98.45" y="84.40" width="5.55" height="6.20" fill="#9a88c8"/>
<rect x="102.80" y="84.40" width="5.55" height="6.20" fill="#cbbfe0"/>
<rect x="107.15" y="84.40" width="5.55" height="6.20" fill="#cbbfe0"/>
<rect x="111.50" y="84.40" width="5.55" height="6.20" fill="#282c9c"/>
<rect x="115.85" y="84.40" width="5.55" height="6.20" fill="#282c9c"/>
<rect x="120.20" y="84.40" width="5.55" height="6.20" fill="#282c9c"/>
<rect x="124.55" y="84.40" width="5.55" height="6.20" fill="#282c9c"/>
<rect x="128.90" y="84.40" width="5.55" height="6.20" fill="#6450b0"/>
<rect x="133.25" y="84.40" width="5.55" height="6.20" fill="#282c9c"/>
<rect x="137.60" y="84.40" width="5.55" height="6.20" fill="#9a88c8"/>
<rect x="141.95" y="84.40" width="5.55" height="6.20" fill="#282c9c"/>
<rect x="146.30" y="84.40" width="5.55" height="6.20" fill="#f5f0f2"/>
<rect x="150.65" y="84.40" width="5.55" height="6.20" fill="#f5f0f2"/>
<rect x="155.00" y="84.40" width="5.55" height="6.20" fill="#f5f0f2"/>
<rect x="159.35" y="84.40" width="5.55" height="6.20" fill="#282c9c"/>
<rect x="163.70" y="84.40" width="5.55" height="6.20" fill="#282c9c"/>
<rect x="168.05" y="84.40" width="5.55" height="6.20" fill="#282c9c"/>
<rect x="172.40" y="84.40" width="5.55" height="6.20" fill="#282c9c"/>
<rect x="176.75" y="84.40" width="5.55" height="6.20" fill="#282c9c"/>
<rect x="181.10" y="84.40" width="5.55" height="6.20" fill="#282c9c"/>
<rect x="185.45" y="84.40" width="5.55" height="6.20" fill="#282c9c"/>
<rect x="189.80" y="84.40" width="5.55" height="6.20" fill="#9a88c8"/>
<rect x="194.15" y="84.40" width="5.55" height="6.20" fill="#cbbfe0"/>
<rect x="198.50" y="84.40" width="5.55" height="6.20" fill="#9a88c8"/>
<rect x="202.85" y="84.40" width="5.55" height="6.20" fill="#282c9c"/>
<rect x="207.20" y="84.40" width="5.55" height="6.20" fill="#282c9c"/>
<rect x="211.55" y="84.40" width="5.55" height="6.20" fill="#9a88c8"/>
<rect x="215.90" y="84.40" width="5.55" height="6.20" fill="#c4c6b8"/>
<rect x="220.25" y="84.40" width="5.55" height="6.20" fill="#282c9c"/>
<rect x="224.60" y="84.40" width="5.55" height="6.20" fill="#282c9c"/>
<rect x="228.95" y="84.40" width="4.35" height="6.20" fill="#282c9c"/>
<rect x="59.30" y="89.40" width="5.55" height="6.20" fill="#ec2219"/>
<rect x="63.65" y="89.40" width="5.55" height="6.20" fill="#f5f0f2"/>
<rect x="68.00" y="89.40" width="5.55" height="6.20" fill="#c4c6b8"/>
<rect x="72.35" y="89.40" width="5.55" height="6.20" fill="#f5f0f2"/>
<rect x="76.70" y="89.40" width="5.55" height="6.20" fill="#282c9c"/>
<rect x="81.05" y="89.40" width="5.55" height="6.20" fill="#282c9c"/>
<rect x="85.40" y="89.40" width="5.55" height="6.20" fill="#282c9c"/>
<rect x="89.75" y="89.40" width="5.55" height="6.20" fill="#282c9c"/>
<rect x="94.10" y="89.40" width="5.55" height="6.20" fill="#282c9c"/>
<rect x="98.45" y="89.40" width="5.55" height="6.20" fill="#282c9c"/>
<rect x="102.80" y="89.40" width="5.55" height="6.20" fill="#282c9c"/>
<rect x="107.15" y="89.40" width="5.55" height="6.20" fill="#282c9c"/>
<rect x="111.50" y="89.40" width="5.55" height="6.20" fill="#282c9c"/>
<rect x="115.85" y="89.40" width="5.55" height="6.20" fill="#282c9c"/>
<rect x="120.20" y="89.40" width="5.55" height="6.20" fill="#282c9c"/>
<rect x="124.55" y="89.40" width="5.55" height="6.20" fill="#282c9c"/>
<rect x="128.90" y="89.40" width="5.55" height="6.20" fill="#282c9c"/>
<rect x="133.25" y="89.40" width="5.55" height="6.20" fill="#282c9c"/>
<rect x="137.60" y="89.40" width="5.55" height="6.20" fill="#9a88c8"/>
<rect x="141.95" y="89.40" width="5.55" height="6.20" fill="#282c9c"/>
<rect x="146.30" y="89.40" width="5.55" height="6.20" fill="#f5f0f2"/>
<rect x="150.65" y="89.40" width="5.55" height="6.20" fill="#282c9c"/>
<rect x="155.00" y="89.40" width="5.55" height="6.20" fill="#f5f0f2"/>
<rect x="159.35" y="89.40" width="5.55" height="6.20" fill="#282c9c"/>
<rect x="163.70" y="89.40" width="5.55" height="6.20" fill="#282c9c"/>
<rect x="168.05" y="89.40" width="5.55" height="6.20" fill="#282c9c"/>
<rect x="172.40" y="89.40" width="5.55" height="6.20" fill="#c4c6b8"/>
<rect x="176.75" y="89.40" width="5.55" height="6.20" fill="#282c9c"/>
<rect x="181.10" y="89.40" width="5.55" height="6.20" fill="#c4c6b8"/>
<rect x="185.45" y="89.40" width="5.55" height="6.20" fill="#c4c6b8"/>
<rect x="189.80" y="89.40" width="5.55" height="6.20" fill="#282c9c"/>
<rect x="194.15" y="89.40" width="5.55" height="6.20" fill="#6450b0"/>
<rect x="198.50" y="89.40" width="5.55" height="6.20" fill="#282c9c"/>
<rect x="202.85" y="89.40" width="5.55" height="6.20" fill="#282c9c"/>
<rect x="207.20" y="89.40" width="5.55" height="6.20" fill="#c4c6b8"/>
<rect x="211.55" y="89.40" width="5.55" height="6.20" fill="#282c9c"/>
<rect x="215.90" y="89.40" width="5.55" height="6.20" fill="#282c9c"/>
<rect x="220.25" y="89.40" width="5.55" height="6.20" fill="#c4c6b8"/>
<rect x="224.60" y="89.40" width="5.55" height="6.20" fill="#282c9c"/>
<rect x="228.95" y="89.40" width="4.35" height="6.20" fill="#c4c6b8"/>
<rect x="59.30" y="94.40" width="5.55" height="6.20" fill="#ec2219"/>
<rect x="63.65" y="94.40" width="5.55" height="6.20" fill="#f5f0f2"/>
<rect x="68.00" y="94.40" width="5.55" height="6.20" fill="#f5f0f2"/>
<rect x="72.35" y="94.40" width="5.55" height="6.20" fill="#282c9c"/>
<rect x="76.70" y="94.40" width="5.55" height="6.20" fill="#282c9c"/>
<rect x="81.05" y="94.40" width="5.55" height="6.20" fill="#282c9c"/>
<rect x="85.40" y="94.40" width="5.55" height="6.20" fill="#282c9c"/>
<rect x="89.75" y="94.40" width="5.55" height="6.20" fill="#282c9c"/>
<rect x="94.10" y="94.40" width="5.55" height="6.20" fill="#282c9c"/>
<rect x="98.45" y="94.40" width="5.55" height="6.20" fill="#282c9c"/>
<rect x="102.80" y="94.40" width="5.55" height="6.20" fill="#f5f0f2"/>
<rect x="107.15" y="94.40" width="5.55" height="6.20" fill="#282c9c"/>
<rect x="111.50" y="94.40" width="5.55" height="6.20" fill="#282c9c"/>
<rect x="115.85" y="94.40" width="5.55" height="6.20" fill="#282c9c"/>
<rect x="120.20" y="94.40" width="5.55" height="6.20" fill="#282c9c"/>
<rect x="124.55" y="94.40" width="5.55" height="6.20" fill="#282c9c"/>
<rect x="128.90" y="94.40" width="5.55" height="6.20" fill="#282c9c"/>
<rect x="133.25" y="94.40" width="5.55" height="6.20" fill="#282c9c"/>
<rect x="137.60" y="94.40" width="5.55" height="6.20" fill="#282c9c"/>
<rect x="141.95" y="94.40" width="5.55" height="6.20" fill="#282c9c"/>
<rect x="146.30" y="94.40" width="5.55" height="6.20" fill="#282c9c"/>
<rect x="150.65" y="94.40" width="5.55" height="6.20" fill="#282c9c"/>
<rect x="155.00" y="94.40" width="5.55" height="6.20" fill="#282c9c"/>
<rect x="159.35" y="94.40" width="5.55" height="6.20" fill="#282c9c"/>
<rect x="163.70" y="94.40" width="5.55" height="6.20" fill="#282c9c"/>
<rect x="168.05" y="94.40" width="5.55" height="6.20" fill="#282c9c"/>
<rect x="172.40" y="94.40" width="5.55" height="6.20" fill="#282c9c"/>
<rect x="176.75" y="94.40" width="5.55" height="6.20" fill="#282c9c"/>
<rect x="181.10" y="94.40" width="5.55" height="6.20" fill="#282c9c"/>
<rect x="185.45" y="94.40" width="5.55" height="6.20" fill="#282c9c"/>
<rect x="189.80" y="94.40" width="5.55" height="6.20" fill="#282c9c"/>
<rect x="194.15" y="94.40" width="5.55" height="6.20" fill="#282c9c"/>
<rect x="198.50" y="94.40" width="5.55" height="6.20" fill="#282c9c"/>
<rect x="202.85" y="94.40" width="5.55" height="6.20" fill="#282c9c"/>
<rect x="207.20" y="94.40" width="5.55" height="6.20" fill="#282c9c"/>
<rect x="211.55" y="94.40" width="5.55" height="6.20" fill="#282c9c"/>
<rect x="215.90" y="94.40" width="5.55" height="6.20" fill="#282c9c"/>
<rect x="220.25" y="94.40" width="5.55" height="6.20" fill="#282c9c"/>
<rect x="224.60" y="94.40" width="5.55" height="6.20" fill="#282c9c"/>
<rect x="228.95" y="94.40" width="4.35" height="6.20" fill="#282c9c"/>
<rect x="59.30" y="99.40" width="5.55" height="6.20" fill="#ec2219"/>
<rect x="63.65" y="99.40" width="5.55" height="6.20" fill="#9a88c8"/>
<rect x="68.00" y="99.40" width="5.55" height="6.20" fill="#cbbfe0"/>
<rect x="72.35" y="99.40" width="5.55" height="6.20" fill="#282c9c"/>
<rect x="76.70" y="99.40" width="5.55" height="6.20" fill="#282c9c"/>
<rect x="81.05" y="99.40" width="5.55" height="6.20" fill="#282c9c"/>
<rect x="85.40" y="99.40" width="5.55" height="6.20" fill="#282c9c"/>
<rect x="89.75" y="99.40" width="5.55" height="6.20" fill="#282c9c"/>
<rect x="94.10" y="99.40" width="5.55" height="6.20" fill="#282c9c"/>
<rect x="98.45" y="99.40" width="5.55" height="6.20" fill="#282c9c"/>
<rect x="102.80" y="99.40" width="5.55" height="6.20" fill="#282c9c"/>
<rect x="107.15" y="99.40" width="5.55" height="6.20" fill="#282c9c"/>
<rect x="111.50" y="99.40" width="5.55" height="6.20" fill="#282c9c"/>
<rect x="115.85" y="99.40" width="5.55" height="6.20" fill="#c4c6b8"/>
<rect x="120.20" y="99.40" width="5.55" height="6.20" fill="#282c9c"/>
<rect x="124.55" y="99.40" width="5.55" height="6.20" fill="#282c9c"/>
<rect x="128.90" y="99.40" width="5.55" height="6.20" fill="#282c9c"/>
<rect x="133.25" y="99.40" width="5.55" height="6.20" fill="#282c9c"/>
<rect x="137.60" y="99.40" width="5.55" height="6.20" fill="#282c9c"/>
<rect x="141.95" y="99.40" width="5.55" height="6.20" fill="#282c9c"/>
<rect x="146.30" y="99.40" width="5.55" height="6.20" fill="#282c9c"/>
<rect x="150.65" y="99.40" width="5.55" height="6.20" fill="#282c9c"/>
<rect x="155.00" y="99.40" width="5.55" height="6.20" fill="#282c9c"/>
<rect x="159.35" y="99.40" width="5.55" height="6.20" fill="#282c9c"/>
<rect x="163.70" y="99.40" width="5.55" height="6.20" fill="#282c9c"/>
<rect x="168.05" y="99.40" width="5.55" height="6.20" fill="#282c9c"/>
<rect x="172.40" y="99.40" width="5.55" height="6.20" fill="#282c9c"/>
<rect x="176.75" y="99.40" width="5.55" height="6.20" fill="#282c9c"/>
<rect x="181.10" y="99.40" width="5.55" height="6.20" fill="#282c9c"/>
<rect x="185.45" y="99.40" width="5.55" height="6.20" fill="#282c9c"/>
<rect x="189.80" y="99.40" width="5.55" height="6.20" fill="#cbbfe0"/>
<rect x="194.15" y="99.40" width="5.55" height="6.20" fill="#282c9c"/>
<rect x="198.50" y="99.40" width="5.55" height="6.20" fill="#c4c6b8"/>
<rect x="202.85" y="99.40" width="5.55" height="6.20" fill="#282c9c"/>
<rect x="207.20" y="99.40" width="5.55" height="6.20" fill="#282c9c"/>
<rect x="211.55" y="99.40" width="5.55" height="6.20" fill="#282c9c"/>
<rect x="215.90" y="99.40" width="5.55" height="6.20" fill="#282c9c"/>
<rect x="220.25" y="99.40" width="5.55" height="6.20" fill="#282c9c"/>
<rect x="224.60" y="99.40" width="5.55" height="6.20" fill="#282c9c"/>
<rect x="228.95" y="99.40" width="4.35" height="6.20" fill="#282c9c"/>
<rect x="59.30" y="104.40" width="5.55" height="6.20" fill="#f5f0f2"/>
<rect x="63.65" y="104.40" width="5.55" height="6.20" fill="#282c9c"/>
<rect x="68.00" y="104.40" width="5.55" height="6.20" fill="#282c9c"/>
<rect x="72.35" y="104.40" width="5.55" height="6.20" fill="#282c9c"/>
<rect x="76.70" y="104.40" width="5.55" height="6.20" fill="#282c9c"/>
<rect x="81.05" y="104.40" width="5.55" height="6.20" fill="#282c9c"/>
<rect x="85.40" y="104.40" width="5.55" height="6.20" fill="#282c9c"/>
<rect x="89.75" y="104.40" width="5.55" height="6.20" fill="#282c9c"/>
<rect x="94.10" y="104.40" width="5.55" height="6.20" fill="#cbbfe0"/>
<rect x="98.45" y="104.40" width="5.55" height="6.20" fill="#282c9c"/>
<rect x="102.80" y="104.40" width="5.55" height="6.20" fill="#282c9c"/>
<rect x="107.15" y="104.40" width="5.55" height="6.20" fill="#282c9c"/>
<rect x="111.50" y="104.40" width="5.55" height="6.20" fill="#282c9c"/>
<rect x="115.85" y="104.40" width="5.55" height="6.20" fill="#282c9c"/>
<rect x="120.20" y="104.40" width="5.55" height="6.20" fill="#282c9c"/>
<rect x="124.55" y="104.40" width="5.55" height="6.20" fill="#282c9c"/>
<rect x="128.90" y="104.40" width="5.55" height="6.20" fill="#282c9c"/>
<rect x="133.25" y="104.40" width="5.55" height="6.20" fill="#282c9c"/>
<rect x="137.60" y="104.40" width="5.55" height="6.20" fill="#282c9c"/>
<rect x="141.95" y="104.40" width="5.55" height="6.20" fill="#282c9c"/>
<rect x="146.30" y="104.40" width="5.55" height="6.20" fill="#282c9c"/>
<rect x="150.65" y="104.40" width="5.55" height="6.20" fill="#282c9c"/>
<rect x="155.00" y="104.40" width="5.55" height="6.20" fill="#282c9c"/>
<rect x="159.35" y="104.40" width="5.55" height="6.20" fill="#282c9c"/>
<rect x="163.70" y="104.40" width="5.55" height="6.20" fill="#282c9c"/>
<rect x="168.05" y="104.40" width="5.55" height="6.20" fill="#282c9c"/>
<rect x="172.40" y="104.40" width="5.55" height="6.20" fill="#c4c6b8"/>
<rect x="176.75" y="104.40" width="5.55" height="6.20" fill="#282c9c"/>
<rect x="181.10" y="104.40" width="5.55" height="6.20" fill="#282c9c"/>
<rect x="185.45" y="104.40" width="5.55" height="6.20" fill="#282c9c"/>
<rect x="189.80" y="104.40" width="5.55" height="6.20" fill="#cbbfe0"/>
<rect x="194.15" y="104.40" width="5.55" height="6.20" fill="#282c9c"/>
<rect x="198.50" y="104.40" width="5.55" height="6.20" fill="#282c9c"/>
<rect x="202.85" y="104.40" width="5.55" height="6.20" fill="#282c9c"/>
<rect x="207.20" y="104.40" width="5.55" height="6.20" fill="#282c9c"/>
<rect x="211.55" y="104.40" width="5.55" height="6.20" fill="#282c9c"/>
<rect x="215.90" y="104.40" width="5.55" height="6.20" fill="#282c9c"/>
<rect x="220.25" y="104.40" width="5.55" height="6.20" fill="#282c9c"/>
<rect x="224.60" y="104.40" width="5.55" height="6.20" fill="#282c9c"/>
<rect x="228.95" y="104.40" width="4.35" height="6.20" fill="#282c9c"/>
<rect x="59.30" y="109.40" width="5.55" height="5.00" fill="#c4c6b8"/>
<rect x="63.65" y="109.40" width="5.55" height="5.00" fill="#282c9c"/>
<rect x="68.00" y="109.40" width="5.55" height="5.00" fill="#c4c6b8"/>
<rect x="72.35" y="109.40" width="5.55" height="5.00" fill="#282c9c"/>
<rect x="76.70" y="109.40" width="5.55" height="5.00" fill="#282c9c"/>
<rect x="81.05" y="109.40" width="5.55" height="5.00" fill="#282c9c"/>
<rect x="85.40" y="109.40" width="5.55" height="5.00" fill="#282c9c"/>
<rect x="89.75" y="109.40" width="5.55" height="5.00" fill="#282c9c"/>
<rect x="94.10" y="109.40" width="5.55" height="5.00" fill="#282c9c"/>
<rect x="98.45" y="109.40" width="5.55" height="5.00" fill="#282c9c"/>
<rect x="102.80" y="109.40" width="5.55" height="5.00" fill="#282c9c"/>
<rect x="107.15" y="109.40" width="5.55" height="5.00" fill="#282c9c"/>
<rect x="111.50" y="109.40" width="5.55" height="5.00" fill="#282c9c"/>
<rect x="115.85" y="109.40" width="5.55" height="5.00" fill="#282c9c"/>
<rect x="120.20" y="109.40" width="5.55" height="5.00" fill="#282c9c"/>
<rect x="124.55" y="109.40" width="5.55" height="5.00" fill="#282c9c"/>
<rect x="128.90" y="109.40" width="5.55" height="5.00" fill="#282c9c"/>
<rect x="133.25" y="109.40" width="5.55" height="5.00" fill="#282c9c"/>
<rect x="137.60" y="109.40" width="5.55" height="5.00" fill="#282c9c"/>
<rect x="141.95" y="109.40" width="5.55" height="5.00" fill="#282c9c"/>
<rect x="146.30" y="109.40" width="5.55" height="5.00" fill="#282c9c"/>
<rect x="150.65" y="109.40" width="5.55" height="5.00" fill="#282c9c"/>
<rect x="155.00" y="109.40" width="5.55" height="5.00" fill="#282c9c"/>
<rect x="159.35" y="109.40" width="5.55" height="5.00" fill="#282c9c"/>
<rect x="163.70" y="109.40" width="5.55" height="5.00" fill="#282c9c"/>
<rect x="168.05" y="109.40" width="5.55" height="5.00" fill="#282c9c"/>
<rect x="172.40" y="109.40" width="5.55" height="5.00" fill="#282c9c"/>
<rect x="176.75" y="109.40" width="5.55" height="5.00" fill="#282c9c"/>
<rect x="181.10" y="109.40" width="5.55" height="5.00" fill="#282c9c"/>
<rect x="185.45" y="109.40" width="5.55" height="5.00" fill="#282c9c"/>
<rect x="189.80" y="109.40" width="5.55" height="5.00" fill="#282c9c"/>
<rect x="194.15" y="109.40" width="5.55" height="5.00" fill="#282c9c"/>
<rect x="198.50" y="109.40" width="5.55" height="5.00" fill="#282c9c"/>
<rect x="202.85" y="109.40" width="5.55" height="5.00" fill="#282c9c"/>
<rect x="207.20" y="109.40" width="5.55" height="5.00" fill="#282c9c"/>
<rect x="211.55" y="109.40" width="5.55" height="5.00" fill="#282c9c"/>
<rect x="215.90" y="109.40" width="5.55" height="5.00" fill="#282c9c"/>
<rect x="220.25" y="109.40" width="5.55" height="5.00" fill="#c4c6b8"/>
<rect x="224.60" y="109.40" width="5.55" height="5.00" fill="#282c9c"/>
<rect x="228.95" y="109.40" width="4.35" height="5.00" fill="#282c9c"/>
<rect x="59.30" y="115.40" width="5.55" height="6.20" fill="#ea5c42"/>
<rect x="63.65" y="115.40" width="5.55" height="6.20" fill="#ec2219"/>
<rect x="68.00" y="115.40" width="5.55" height="6.20" fill="#ea5c42"/>
<rect x="72.35" y="115.40" width="5.55" height="6.20" fill="#ee8a70"/>
<rect x="76.70" y="115.40" width="5.55" height="6.20" fill="#ee8a70"/>
<rect x="81.05" y="115.40" width="5.55" height="6.20" fill="#f1b09a"/>
<rect x="85.40" y="115.40" width="5.55" height="6.20" fill="#f1b09a"/>
<rect x="89.75" y="115.40" width="5.55" height="6.20" fill="#f1b09a"/>
<rect x="94.10" y="115.40" width="5.55" height="6.20" fill="#f5d2c6"/>
<rect x="98.45" y="115.40" width="5.55" height="6.20" fill="#f1b09a"/>
<rect x="102.80" y="115.40" width="5.55" height="6.20" fill="#ee8a70"/>
<rect x="107.15" y="115.40" width="5.55" height="6.20" fill="#ee8a70"/>
<rect x="111.50" y="115.40" width="5.55" height="6.20" fill="#f1b09a"/>
<rect x="115.85" y="115.40" width="5.55" height="6.20" fill="#282c9c"/>
<rect x="120.20" y="115.40" width="5.55" height="6.20" fill="#282c9c"/>
<rect x="124.55" y="115.40" width="5.55" height="6.20" fill="#f5f0f2"/>
<rect x="128.90" y="115.40" width="5.55" height="6.20" fill="#f5d2c6"/>
<rect x="133.25" y="115.40" width="5.55" height="6.20" fill="#f5d2c6"/>
<rect x="137.60" y="115.40" width="5.55" height="6.20" fill="#f5f0f2"/>
<rect x="141.95" y="115.40" width="5.55" height="6.20" fill="#f5f0f2"/>
<rect x="146.30" y="115.40" width="5.55" height="6.20" fill="#f5d2c6"/>
<rect x="150.65" y="115.40" width="5.55" height="6.20" fill="#f1b09a"/>
<rect x="155.00" y="115.40" width="5.55" height="6.20" fill="#f1b09a"/>
<rect x="159.35" y="115.40" width="5.55" height="6.20" fill="#282c9c"/>
<rect x="163.70" y="115.40" width="5.55" height="6.20" fill="#cbbfe0"/>
<rect x="168.05" y="115.40" width="5.55" height="6.20" fill="#6450b0"/>
<rect x="172.40" y="115.40" width="5.55" height="6.20" fill="#9a88c8"/>
<rect x="176.75" y="115.40" width="5.55" height="6.20" fill="#6450b0"/>
<rect x="181.10" y="115.40" width="5.55" height="6.20" fill="#9a88c8"/>
<rect x="185.45" y="115.40" width="5.55" height="6.20" fill="#cbbfe0"/>
<rect x="189.80" y="115.40" width="5.55" height="6.20" fill="#9a88c8"/>
<rect x="194.15" y="115.40" width="5.55" height="6.20" fill="#f5f0f2"/>
<rect x="198.50" y="115.40" width="5.55" height="6.20" fill="#9a88c8"/>
<rect x="202.85" y="115.40" width="5.55" height="6.20" fill="#cbbfe0"/>
<rect x="207.20" y="115.40" width="5.55" height="6.20" fill="#f5f0f2"/>
<rect x="211.55" y="115.40" width="5.55" height="6.20" fill="#f1b09a"/>
<rect x="215.90" y="115.40" width="5.55" height="6.20" fill="#f1b09a"/>
<rect x="220.25" y="115.40" width="5.55" height="6.20" fill="#f1b09a"/>
<rect x="224.60" y="115.40" width="5.55" height="6.20" fill="#f5d2c6"/>
<rect x="228.95" y="115.40" width="4.35" height="6.20" fill="#f5f0f2"/>
<rect x="59.30" y="120.40" width="5.55" height="6.20" fill="#6450b0"/>
<rect x="63.65" y="120.40" width="5.55" height="6.20" fill="#6450b0"/>
<rect x="68.00" y="120.40" width="5.55" height="6.20" fill="#9a88c8"/>
<rect x="72.35" y="120.40" width="5.55" height="6.20" fill="#f5f0f2"/>
<rect x="76.70" y="120.40" width="5.55" height="6.20" fill="#cbbfe0"/>
<rect x="81.05" y="120.40" width="5.55" height="6.20" fill="#f5f0f2"/>
<rect x="85.40" y="120.40" width="5.55" height="6.20" fill="#f5d2c6"/>
<rect x="89.75" y="120.40" width="5.55" height="6.20" fill="#9a88c8"/>
<rect x="94.10" y="120.40" width="5.55" height="6.20" fill="#f5f0f2"/>
<rect x="98.45" y="120.40" width="5.55" height="6.20" fill="#282c9c"/>
<rect x="102.80" y="120.40" width="5.55" height="6.20" fill="#f5f0f2"/>
<rect x="107.15" y="120.40" width="5.55" height="6.20" fill="#f5d2c6"/>
<rect x="111.50" y="120.40" width="5.55" height="6.20" fill="#f5f0f2"/>
<rect x="115.85" y="120.40" width="5.55" height="6.20" fill="#282c9c"/>
<rect x="120.20" y="120.40" width="5.55" height="6.20" fill="#282c9c"/>
<rect x="124.55" y="120.40" width="5.55" height="6.20" fill="#f5f0f2"/>
<rect x="128.90" y="120.40" width="5.55" height="6.20" fill="#f5f0f2"/>
<rect x="133.25" y="120.40" width="5.55" height="6.20" fill="#f5f0f2"/>
<rect x="137.60" y="120.40" width="5.55" height="6.20" fill="#f5f0f2"/>
<rect x="141.95" y="120.40" width="5.55" height="6.20" fill="#6450b0"/>
<rect x="146.30" y="120.40" width="5.55" height="6.20" fill="#6450b0"/>
<rect x="150.65" y="120.40" width="5.55" height="6.20" fill="#cbbfe0"/>
<rect x="155.00" y="120.40" width="5.55" height="6.20" fill="#9a88c8"/>
<rect x="159.35" y="120.40" width="5.55" height="6.20" fill="#9a88c8"/>
<rect x="163.70" y="120.40" width="5.55" height="6.20" fill="#cbbfe0"/>
<rect x="168.05" y="120.40" width="5.55" height="6.20" fill="#6450b0"/>
<rect x="172.40" y="120.40" width="5.55" height="6.20" fill="#9a88c8"/>
<rect x="176.75" y="120.40" width="5.55" height="6.20" fill="#f5f0f2"/>
<rect x="181.10" y="120.40" width="5.55" height="6.20" fill="#f5f0f2"/>
<rect x="185.45" y="120.40" width="5.55" height="6.20" fill="#f5f0f2"/>
<rect x="189.80" y="120.40" width="5.55" height="6.20" fill="#f5f0f2"/>
<rect x="194.15" y="120.40" width="5.55" height="6.20" fill="#f5f0f2"/>
<rect x="198.50" y="120.40" width="5.55" height="6.20" fill="#9a88c8"/>
<rect x="202.85" y="120.40" width="5.55" height="6.20" fill="#f5f0f2"/>
<rect x="207.20" y="120.40" width="5.55" height="6.20" fill="#9a88c8"/>
<rect x="211.55" y="120.40" width="5.55" height="6.20" fill="#f5f0f2"/>
<rect x="215.90" y="120.40" width="5.55" height="6.20" fill="#6450b0"/>
<rect x="220.25" y="120.40" width="5.55" height="6.20" fill="#6450b0"/>
<rect x="224.60" y="120.40" width="5.55" height="6.20" fill="#f5f0f2"/>
<rect x="228.95" y="120.40" width="4.35" height="6.20" fill="#9a88c8"/>
<rect x="59.30" y="125.40" width="5.55" height="6.20" fill="#ec2219"/>
<rect x="63.65" y="125.40" width="5.55" height="6.20" fill="#ee8a70"/>
<rect x="68.00" y="125.40" width="5.55" height="6.20" fill="#f1b09a"/>
<rect x="72.35" y="125.40" width="5.55" height="6.20" fill="#f5f0f2"/>
<rect x="76.70" y="125.40" width="5.55" height="6.20" fill="#282c9c"/>
<rect x="81.05" y="125.40" width="5.55" height="6.20" fill="#6450b0"/>
<rect x="85.40" y="125.40" width="5.55" height="6.20" fill="#f5f0f2"/>
<rect x="89.75" y="125.40" width="5.55" height="6.20" fill="#282c9c"/>
<rect x="94.10" y="125.40" width="5.55" height="6.20" fill="#f5f0f2"/>
<rect x="98.45" y="125.40" width="5.55" height="6.20" fill="#9a88c8"/>
<rect x="102.80" y="125.40" width="5.55" height="6.20" fill="#f5d2c6"/>
<rect x="107.15" y="125.40" width="5.55" height="6.20" fill="#f5f0f2"/>
<rect x="111.50" y="125.40" width="5.55" height="6.20" fill="#9a88c8"/>
<rect x="115.85" y="125.40" width="5.55" height="6.20" fill="#282c9c"/>
<rect x="120.20" y="125.40" width="5.55" height="6.20" fill="#282c9c"/>
<rect x="124.55" y="125.40" width="5.55" height="6.20" fill="#cbbfe0"/>
<rect x="128.90" y="125.40" width="5.55" height="6.20" fill="#6450b0"/>
<rect x="133.25" y="125.40" width="5.55" height="6.20" fill="#282c9c"/>
<rect x="137.60" y="125.40" width="5.55" height="6.20" fill="#f5f0f2"/>
<rect x="141.95" y="125.40" width="5.55" height="6.20" fill="#9a88c8"/>
<rect x="146.30" y="125.40" width="5.55" height="6.20" fill="#f5d2c6"/>
<rect x="150.65" y="125.40" width="5.55" height="6.20" fill="#f5f0f2"/>
<rect x="155.00" y="125.40" width="5.55" height="6.20" fill="#f5f0f2"/>
<rect x="159.35" y="125.40" width="5.55" height="6.20" fill="#f5f0f2"/>
<rect x="163.70" y="125.40" width="5.55" height="6.20" fill="#282c9c"/>
<rect x="168.05" y="125.40" width="5.55" height="6.20" fill="#6450b0"/>
<rect x="172.40" y="125.40" width="5.55" height="6.20" fill="#9a88c8"/>
<rect x="176.75" y="125.40" width="5.55" height="6.20" fill="#282c9c"/>
<rect x="181.10" y="125.40" width="5.55" height="6.20" fill="#282c9c"/>
<rect x="185.45" y="125.40" width="5.55" height="6.20" fill="#f5f0f2"/>
<rect x="189.80" y="125.40" width="5.55" height="6.20" fill="#6450b0"/>
<rect x="194.15" y="125.40" width="5.55" height="6.20" fill="#f5f0f2"/>
<rect x="198.50" y="125.40" width="5.55" height="6.20" fill="#282c9c"/>
<rect x="202.85" y="125.40" width="5.55" height="6.20" fill="#282c9c"/>
<rect x="207.20" y="125.40" width="5.55" height="6.20" fill="#282c9c"/>
<rect x="211.55" y="125.40" width="5.55" height="6.20" fill="#cbbfe0"/>
<rect x="215.90" y="125.40" width="5.55" height="6.20" fill="#cbbfe0"/>
<rect x="220.25" y="125.40" width="5.55" height="6.20" fill="#f5f0f2"/>
<rect x="224.60" y="125.40" width="5.55" height="6.20" fill="#6450b0"/>
<rect x="228.95" y="125.40" width="4.35" height="6.20" fill="#9a88c8"/>
<rect x="59.30" y="130.40" width="5.55" height="6.20" fill="#ea5c42"/>
<rect x="63.65" y="130.40" width="5.55" height="6.20" fill="#f1b09a"/>
<rect x="68.00" y="130.40" width="5.55" height="6.20" fill="#f5d2c6"/>
<rect x="72.35" y="130.40" width="5.55" height="6.20" fill="#f5f0f2"/>
<rect x="76.70" y="130.40" width="5.55" height="6.20" fill="#cbbfe0"/>
<rect x="81.05" y="130.40" width="5.55" height="6.20" fill="#9a88c8"/>
<rect x="85.40" y="130.40" width="5.55" height="6.20" fill="#f5f0f2"/>
<rect x="89.75" y="130.40" width="5.55" height="6.20" fill="#f5d2c6"/>
<rect x="94.10" y="130.40" width="5.55" height="6.20" fill="#9a88c8"/>
<rect x="98.45" y="130.40" width="5.55" height="6.20" fill="#cbbfe0"/>
<rect x="102.80" y="130.40" width="5.55" height="6.20" fill="#f5d2c6"/>
<rect x="107.15" y="130.40" width="5.55" height="6.20" fill="#6450b0"/>
<rect x="111.50" y="130.40" width="5.55" height="6.20" fill="#6450b0"/>
<rect x="115.85" y="130.40" width="5.55" height="6.20" fill="#282c9c"/>
<rect x="120.20" y="130.40" width="5.55" height="6.20" fill="#282c9c"/>
<rect x="124.55" y="130.40" width="5.55" height="6.20" fill="#6450b0"/>
<rect x="128.90" y="130.40" width="5.55" height="6.20" fill="#9a88c8"/>
<rect x="133.25" y="130.40" width="5.55" height="6.20" fill="#6450b0"/>
<rect x="137.60" y="130.40" width="5.55" height="6.20" fill="#6450b0"/>
<rect x="141.95" y="130.40" width="5.55" height="6.20" fill="#6450b0"/>
<rect x="146.30" y="130.40" width="5.55" height="6.20" fill="#6450b0"/>
<rect x="150.65" y="130.40" width="5.55" height="6.20" fill="#cbbfe0"/>
<rect x="155.00" y="130.40" width="5.55" height="6.20" fill="#cbbfe0"/>
<rect x="159.35" y="130.40" width="5.55" height="6.20" fill="#282c9c"/>
<rect x="163.70" y="130.40" width="5.55" height="6.20" fill="#282c9c"/>
<rect x="168.05" y="130.40" width="5.55" height="6.20" fill="#282c9c"/>
<rect x="172.40" y="130.40" width="5.55" height="6.20" fill="#6450b0"/>
<rect x="176.75" y="130.40" width="5.55" height="6.20" fill="#6450b0"/>
<rect x="181.10" y="130.40" width="5.55" height="6.20" fill="#6450b0"/>
<rect x="185.45" y="130.40" width="5.55" height="6.20" fill="#6450b0"/>
<rect x="189.80" y="130.40" width="5.55" height="6.20" fill="#6450b0"/>
<rect x="194.15" y="130.40" width="5.55" height="6.20" fill="#6450b0"/>
<rect x="198.50" y="130.40" width="5.55" height="6.20" fill="#9a88c8"/>
<rect x="202.85" y="130.40" width="5.55" height="6.20" fill="#6450b0"/>
<rect x="207.20" y="130.40" width="5.55" height="6.20" fill="#6450b0"/>
<rect x="211.55" y="130.40" width="5.55" height="6.20" fill="#282c9c"/>
<rect x="215.90" y="130.40" width="5.55" height="6.20" fill="#282c9c"/>
<rect x="220.25" y="130.40" width="5.55" height="6.20" fill="#9a88c8"/>
<rect x="224.60" y="130.40" width="5.55" height="6.20" fill="#6450b0"/>
<rect x="228.95" y="130.40" width="4.35" height="6.20" fill="#6450b0"/>
<rect x="59.30" y="135.40" width="5.55" height="6.20" fill="#f5d2c6"/>
<rect x="63.65" y="135.40" width="5.55" height="6.20" fill="#cbbfe0"/>
<rect x="68.00" y="135.40" width="5.55" height="6.20" fill="#f5f0f2"/>
<rect x="72.35" y="135.40" width="5.55" height="6.20" fill="#f5d2c6"/>
<rect x="76.70" y="135.40" width="5.55" height="6.20" fill="#c4c6b8"/>
<rect x="81.05" y="135.40" width="5.55" height="6.20" fill="#c4c6b8"/>
<rect x="85.40" y="135.40" width="5.55" height="6.20" fill="#c4c6b8"/>
<rect x="89.75" y="135.40" width="5.55" height="6.20" fill="#c4c6b8"/>
<rect x="94.10" y="135.40" width="5.55" height="6.20" fill="#cbbfe0"/>
<rect x="98.45" y="135.40" width="5.55" height="6.20" fill="#282c9c"/>
<rect x="102.80" y="135.40" width="5.55" height="6.20" fill="#9a88c8"/>
<rect x="107.15" y="135.40" width="5.55" height="6.20" fill="#cbbfe0"/>
<rect x="111.50" y="135.40" width="5.55" height="6.20" fill="#6450b0"/>
<rect x="115.85" y="135.40" width="5.55" height="6.20" fill="#282c9c"/>
<rect x="120.20" y="135.40" width="5.55" height="6.20" fill="#c4c6b8"/>
<rect x="124.55" y="135.40" width="5.55" height="6.20" fill="#282c9c"/>
<rect x="128.90" y="135.40" width="5.55" height="6.20" fill="#6450b0"/>
<rect x="133.25" y="135.40" width="5.55" height="6.20" fill="#c4c6b8"/>
<rect x="137.60" y="135.40" width="5.55" height="6.20" fill="#c4c6b8"/>
<rect x="141.95" y="135.40" width="5.55" height="6.20" fill="#c4c6b8"/>
<rect x="146.30" y="135.40" width="5.55" height="6.20" fill="#f5f0f2"/>
<rect x="150.65" y="135.40" width="5.55" height="6.20" fill="#9a88c8"/>
<rect x="155.00" y="135.40" width="5.55" height="6.20" fill="#c4c6b8"/>
<rect x="159.35" y="135.40" width="5.55" height="6.20" fill="#282c9c"/>
<rect x="163.70" y="135.40" width="5.55" height="6.20" fill="#f5f0f2"/>
<rect x="168.05" y="135.40" width="5.55" height="6.20" fill="#c4c6b8"/>
<rect x="172.40" y="135.40" width="5.55" height="6.20" fill="#cbbfe0"/>
<rect x="176.75" y="135.40" width="5.55" height="6.20" fill="#282c9c"/>
<rect x="181.10" y="135.40" width="5.55" height="6.20" fill="#6450b0"/>
<rect x="185.45" y="135.40" width="5.55" height="6.20" fill="#9a88c8"/>
<rect x="189.80" y="135.40" width="5.55" height="6.20" fill="#9a88c8"/>
<rect x="194.15" y="135.40" width="5.55" height="6.20" fill="#9a88c8"/>
<rect x="198.50" y="135.40" width="5.55" height="6.20" fill="#9a88c8"/>
<rect x="202.85" y="135.40" width="5.55" height="6.20" fill="#cbbfe0"/>
<rect x="207.20" y="135.40" width="5.55" height="6.20" fill="#cbbfe0"/>
<rect x="211.55" y="135.40" width="5.55" height="6.20" fill="#282c9c"/>
<rect x="215.90" y="135.40" width="5.55" height="6.20" fill="#282c9c"/>
<rect x="220.25" y="135.40" width="5.55" height="6.20" fill="#9a88c8"/>
<rect x="224.60" y="135.40" width="5.55" height="6.20" fill="#cbbfe0"/>
<rect x="228.95" y="135.40" width="4.35" height="6.20" fill="#9a88c8"/>
<rect x="59.30" y="140.40" width="5.55" height="6.20" fill="#f5f0f2"/>
<rect x="63.65" y="140.40" width="5.55" height="6.20" fill="#282c9c"/>
<rect x="68.00" y="140.40" width="5.55" height="6.20" fill="#cbbfe0"/>
<rect x="72.35" y="140.40" width="5.55" height="6.20" fill="#f5f0f2"/>
<rect x="76.70" y="140.40" width="5.55" height="6.20" fill="#282c9c"/>
<rect x="81.05" y="140.40" width="5.55" height="6.20" fill="#9a88c8"/>
<rect x="85.40" y="140.40" width="5.55" height="6.20" fill="#cbbfe0"/>
<rect x="89.75" y="140.40" width="5.55" height="6.20" fill="#cbbfe0"/>
<rect x="94.10" y="140.40" width="5.55" height="6.20" fill="#282c9c"/>
<rect x="98.45" y="140.40" width="5.55" height="6.20" fill="#282c9c"/>
<rect x="102.80" y="140.40" width="5.55" height="6.20" fill="#9a88c8"/>
<rect x="107.15" y="140.40" width="5.55" height="6.20" fill="#9a88c8"/>
<rect x="111.50" y="140.40" width="5.55" height="6.20" fill="#6450b0"/>
<rect x="115.85" y="140.40" width="5.55" height="6.20" fill="#282c9c"/>
<rect x="120.20" y="140.40" width="5.55" height="6.20" fill="#282c9c"/>
<rect x="124.55" y="140.40" width="5.55" height="6.20" fill="#6450b0"/>
<rect x="128.90" y="140.40" width="5.55" height="6.20" fill="#6450b0"/>
<rect x="133.25" y="140.40" width="5.55" height="6.20" fill="#6450b0"/>
<rect x="137.60" y="140.40" width="5.55" height="6.20" fill="#6450b0"/>
<rect x="141.95" y="140.40" width="5.55" height="6.20" fill="#6450b0"/>
<rect x="146.30" y="140.40" width="5.55" height="6.20" fill="#282c9c"/>
<rect x="150.65" y="140.40" width="5.55" height="6.20" fill="#6450b0"/>
<rect x="155.00" y="140.40" width="5.55" height="6.20" fill="#cbbfe0"/>
<rect x="159.35" y="140.40" width="5.55" height="6.20" fill="#6450b0"/>
<rect x="163.70" y="140.40" width="5.55" height="6.20" fill="#6450b0"/>
<rect x="168.05" y="140.40" width="5.55" height="6.20" fill="#6450b0"/>
<rect x="172.40" y="140.40" width="5.55" height="6.20" fill="#9a88c8"/>
<rect x="176.75" y="140.40" width="5.55" height="6.20" fill="#6450b0"/>
<rect x="181.10" y="140.40" width="5.55" height="6.20" fill="#282c9c"/>
<rect x="185.45" y="140.40" width="5.55" height="6.20" fill="#9a88c8"/>
<rect x="189.80" y="140.40" width="5.55" height="6.20" fill="#f5f0f2"/>
<rect x="194.15" y="140.40" width="5.55" height="6.20" fill="#9a88c8"/>
<rect x="198.50" y="140.40" width="5.55" height="6.20" fill="#282c9c"/>
<rect x="202.85" y="140.40" width="5.55" height="6.20" fill="#282c9c"/>
<rect x="207.20" y="140.40" width="5.55" height="6.20" fill="#282c9c"/>
<rect x="211.55" y="140.40" width="5.55" height="6.20" fill="#9a88c8"/>
<rect x="215.90" y="140.40" width="5.55" height="6.20" fill="#cbbfe0"/>
<rect x="220.25" y="140.40" width="5.55" height="6.20" fill="#9a88c8"/>
<rect x="224.60" y="140.40" width="5.55" height="6.20" fill="#282c9c"/>
<rect x="228.95" y="140.40" width="4.35" height="6.20" fill="#282c9c"/>
<rect x="59.30" y="145.40" width="5.55" height="5.00" fill="#ee8a70"/>
<rect x="63.65" y="145.40" width="5.55" height="5.00" fill="#f5f0f2"/>
<rect x="68.00" y="145.40" width="5.55" height="5.00" fill="#cbbfe0"/>
<rect x="72.35" y="145.40" width="5.55" height="5.00" fill="#6450b0"/>
<rect x="76.70" y="145.40" width="5.55" height="5.00" fill="#9a88c8"/>
<rect x="81.05" y="145.40" width="5.55" height="5.00" fill="#6450b0"/>
<rect x="85.40" y="145.40" width="5.55" height="5.00" fill="#6450b0"/>
<rect x="89.75" y="145.40" width="5.55" height="5.00" fill="#9a88c8"/>
<rect x="94.10" y="145.40" width="5.55" height="5.00" fill="#282c9c"/>
<rect x="98.45" y="145.40" width="5.55" height="5.00" fill="#9a88c8"/>
<rect x="102.80" y="145.40" width="5.55" height="5.00" fill="#9a88c8"/>
<rect x="107.15" y="145.40" width="5.55" height="5.00" fill="#282c9c"/>
<rect x="111.50" y="145.40" width="5.55" height="5.00" fill="#282c9c"/>
<rect x="115.85" y="145.40" width="5.55" height="5.00" fill="#282c9c"/>
<rect x="120.20" y="145.40" width="5.55" height="5.00" fill="#282c9c"/>
<rect x="124.55" y="145.40" width="5.55" height="5.00" fill="#282c9c"/>
<rect x="128.90" y="145.40" width="5.55" height="5.00" fill="#6450b0"/>
<rect x="133.25" y="145.40" width="5.55" height="5.00" fill="#9a88c8"/>
<rect x="137.60" y="145.40" width="5.55" height="5.00" fill="#282c9c"/>
<rect x="141.95" y="145.40" width="5.55" height="5.00" fill="#6450b0"/>
<rect x="146.30" y="145.40" width="5.55" height="5.00" fill="#f5f0f2"/>
<rect x="150.65" y="145.40" width="5.55" height="5.00" fill="#6450b0"/>
<rect x="155.00" y="145.40" width="5.55" height="5.00" fill="#cbbfe0"/>
<rect x="159.35" y="145.40" width="5.55" height="5.00" fill="#282c9c"/>
<rect x="163.70" y="145.40" width="5.55" height="5.00" fill="#282c9c"/>
<rect x="168.05" y="145.40" width="5.55" height="5.00" fill="#282c9c"/>
<rect x="172.40" y="145.40" width="5.55" height="5.00" fill="#282c9c"/>
<rect x="176.75" y="145.40" width="5.55" height="5.00" fill="#282c9c"/>
<rect x="181.10" y="145.40" width="5.55" height="5.00" fill="#6450b0"/>
<rect x="185.45" y="145.40" width="5.55" height="5.00" fill="#9a88c8"/>
<rect x="189.80" y="145.40" width="5.55" height="5.00" fill="#282c9c"/>
<rect x="194.15" y="145.40" width="5.55" height="5.00" fill="#282c9c"/>
<rect x="198.50" y="145.40" width="5.55" height="5.00" fill="#282c9c"/>
<rect x="202.85" y="145.40" width="5.55" height="5.00" fill="#282c9c"/>
<rect x="207.20" y="145.40" width="5.55" height="5.00" fill="#282c9c"/>
<rect x="211.55" y="145.40" width="5.55" height="5.00" fill="#282c9c"/>
<rect x="215.90" y="145.40" width="5.55" height="5.00" fill="#282c9c"/>
<rect x="220.25" y="145.40" width="5.55" height="5.00" fill="#9a88c8"/>
<rect x="224.60" y="145.40" width="5.55" height="5.00" fill="#282c9c"/>
<rect x="228.95" y="145.40" width="4.35" height="5.00" fill="#282c9c"/>
<rect x="59.30" y="151.40" width="5.55" height="6.20" fill="#ea5c42"/>
<rect x="63.65" y="151.40" width="5.55" height="6.20" fill="#f5f0f2"/>
<rect x="68.00" y="151.40" width="5.55" height="6.20" fill="#f1b09a"/>
<rect x="72.35" y="151.40" width="5.55" height="6.20" fill="#f5d2c6"/>
<rect x="76.70" y="151.40" width="5.55" height="6.20" fill="#f5f0f2"/>
<rect x="81.05" y="151.40" width="5.55" height="6.20" fill="#f1b09a"/>
<rect x="85.40" y="151.40" width="5.55" height="6.20" fill="#f5d2c6"/>
<rect x="89.75" y="151.40" width="5.55" height="6.20" fill="#f5d2c6"/>
<rect x="94.10" y="151.40" width="5.55" height="6.20" fill="#f5d2c6"/>
<rect x="98.45" y="151.40" width="5.55" height="6.20" fill="#f5d2c6"/>
<rect x="102.80" y="151.40" width="5.55" height="6.20" fill="#ee8a70"/>
<rect x="107.15" y="151.40" width="5.55" height="6.20" fill="#f1b09a"/>
<rect x="111.50" y="151.40" width="5.55" height="6.20" fill="#f5d2c6"/>
<rect x="115.85" y="151.40" width="5.55" height="6.20" fill="#282c9c"/>
<rect x="120.20" y="151.40" width="5.55" height="6.20" fill="#282c9c"/>
<rect x="124.55" y="151.40" width="5.55" height="6.20" fill="#6450b0"/>
<rect x="128.90" y="151.40" width="5.55" height="6.20" fill="#f5f0f2"/>
<rect x="133.25" y="151.40" width="5.55" height="6.20" fill="#9a88c8"/>
<rect x="137.60" y="151.40" width="5.55" height="6.20" fill="#f5d2c6"/>
<rect x="141.95" y="151.40" width="5.55" height="6.20" fill="#f5d2c6"/>
<rect x="146.30" y="151.40" width="5.55" height="6.20" fill="#9a88c8"/>
<rect x="150.65" y="151.40" width="5.55" height="6.20" fill="#6450b0"/>
<rect x="155.00" y="151.40" width="5.55" height="6.20" fill="#9a88c8"/>
<rect x="159.35" y="151.40" width="5.55" height="6.20" fill="#f5f0f2"/>
<rect x="163.70" y="151.40" width="5.55" height="6.20" fill="#6450b0"/>
<rect x="168.05" y="151.40" width="5.55" height="6.20" fill="#6450b0"/>
<rect x="172.40" y="151.40" width="5.55" height="6.20" fill="#282c9c"/>
<rect x="176.75" y="151.40" width="5.55" height="6.20" fill="#6450b0"/>
<rect x="181.10" y="151.40" width="5.55" height="6.20" fill="#282c9c"/>
<rect x="185.45" y="151.40" width="5.55" height="6.20" fill="#cbbfe0"/>
<rect x="189.80" y="151.40" width="5.55" height="6.20" fill="#cbbfe0"/>
<rect x="194.15" y="151.40" width="5.55" height="6.20" fill="#f5f0f2"/>
<rect x="198.50" y="151.40" width="5.55" height="6.20" fill="#6450b0"/>
<rect x="202.85" y="151.40" width="5.55" height="6.20" fill="#cbbfe0"/>
<rect x="207.20" y="151.40" width="5.55" height="6.20" fill="#cbbfe0"/>
<rect x="211.55" y="151.40" width="5.55" height="6.20" fill="#6450b0"/>
<rect x="215.90" y="151.40" width="5.55" height="6.20" fill="#cbbfe0"/>
<rect x="220.25" y="151.40" width="5.55" height="6.20" fill="#f5f0f2"/>
<rect x="224.60" y="151.40" width="5.55" height="6.20" fill="#9a88c8"/>
<rect x="228.95" y="151.40" width="4.35" height="6.20" fill="#cbbfe0"/>
<rect x="59.30" y="156.40" width="5.55" height="6.20" fill="#cbbfe0"/>
<rect x="63.65" y="156.40" width="5.55" height="6.20" fill="#6450b0"/>
<rect x="68.00" y="156.40" width="5.55" height="6.20" fill="#f5f0f2"/>
<rect x="72.35" y="156.40" width="5.55" height="6.20" fill="#9a88c8"/>
<rect x="76.70" y="156.40" width="5.55" height="6.20" fill="#f5f0f2"/>
<rect x="81.05" y="156.40" width="5.55" height="6.20" fill="#cbbfe0"/>
<rect x="85.40" y="156.40" width="5.55" height="6.20" fill="#cbbfe0"/>
<rect x="89.75" y="156.40" width="5.55" height="6.20" fill="#9a88c8"/>
<rect x="94.10" y="156.40" width="5.55" height="6.20" fill="#6450b0"/>
<rect x="98.45" y="156.40" width="5.55" height="6.20" fill="#282c9c"/>
<rect x="102.80" y="156.40" width="5.55" height="6.20" fill="#cbbfe0"/>
<rect x="107.15" y="156.40" width="5.55" height="6.20" fill="#9a88c8"/>
<rect x="111.50" y="156.40" width="5.55" height="6.20" fill="#cbbfe0"/>
<rect x="115.85" y="156.40" width="5.55" height="6.20" fill="#282c9c"/>
<rect x="120.20" y="156.40" width="5.55" height="6.20" fill="#282c9c"/>
<rect x="124.55" y="156.40" width="5.55" height="6.20" fill="#9a88c8"/>
<rect x="128.90" y="156.40" width="5.55" height="6.20" fill="#6450b0"/>
<rect x="133.25" y="156.40" width="5.55" height="6.20" fill="#282c9c"/>
<rect x="137.60" y="156.40" width="5.55" height="6.20" fill="#9a88c8"/>
<rect x="141.95" y="156.40" width="5.55" height="6.20" fill="#cbbfe0"/>
<rect x="146.30" y="156.40" width="5.55" height="6.20" fill="#cbbfe0"/>
<rect x="150.65" y="156.40" width="5.55" height="6.20" fill="#f5f0f2"/>
<rect x="155.00" y="156.40" width="5.55" height="6.20" fill="#282c9c"/>
<rect x="159.35" y="156.40" width="5.55" height="6.20" fill="#9a88c8"/>
<rect x="163.70" y="156.40" width="5.55" height="6.20" fill="#6450b0"/>
<rect x="168.05" y="156.40" width="5.55" height="6.20" fill="#6450b0"/>
<rect x="172.40" y="156.40" width="5.55" height="6.20" fill="#6450b0"/>
<rect x="176.75" y="156.40" width="5.55" height="6.20" fill="#9a88c8"/>
<rect x="181.10" y="156.40" width="5.55" height="6.20" fill="#282c9c"/>
<rect x="185.45" y="156.40" width="5.55" height="6.20" fill="#9a88c8"/>
<rect x="189.80" y="156.40" width="5.55" height="6.20" fill="#282c9c"/>
<rect x="194.15" y="156.40" width="5.55" height="6.20" fill="#f5f0f2"/>
<rect x="198.50" y="156.40" width="5.55" height="6.20" fill="#282c9c"/>
<rect x="202.85" y="156.40" width="5.55" height="6.20" fill="#9a88c8"/>
<rect x="207.20" y="156.40" width="5.55" height="6.20" fill="#6450b0"/>
<rect x="211.55" y="156.40" width="5.55" height="6.20" fill="#9a88c8"/>
<rect x="215.90" y="156.40" width="5.55" height="6.20" fill="#9a88c8"/>
<rect x="220.25" y="156.40" width="5.55" height="6.20" fill="#282c9c"/>
<rect x="224.60" y="156.40" width="5.55" height="6.20" fill="#9a88c8"/>
<rect x="228.95" y="156.40" width="4.35" height="6.20" fill="#6450b0"/>
<rect x="59.30" y="161.40" width="5.55" height="6.20" fill="#cbbfe0"/>
<rect x="63.65" y="161.40" width="5.55" height="6.20" fill="#282c9c"/>
<rect x="68.00" y="161.40" width="5.55" height="6.20" fill="#f5f0f2"/>
<rect x="72.35" y="161.40" width="5.55" height="6.20" fill="#cbbfe0"/>
<rect x="76.70" y="161.40" width="5.55" height="6.20" fill="#9a88c8"/>
<rect x="81.05" y="161.40" width="5.55" height="6.20" fill="#282c9c"/>
<rect x="85.40" y="161.40" width="5.55" height="6.20" fill="#9a88c8"/>
<rect x="89.75" y="161.40" width="5.55" height="6.20" fill="#9a88c8"/>
<rect x="94.10" y="161.40" width="5.55" height="6.20" fill="#6450b0"/>
<rect x="98.45" y="161.40" width="5.55" height="6.20" fill="#6450b0"/>
<rect x="102.80" y="161.40" width="5.55" height="6.20" fill="#9a88c8"/>
<rect x="107.15" y="161.40" width="5.55" height="6.20" fill="#282c9c"/>
<rect x="111.50" y="161.40" width="5.55" height="6.20" fill="#9a88c8"/>
<rect x="115.85" y="161.40" width="5.55" height="6.20" fill="#282c9c"/>
<rect x="120.20" y="161.40" width="5.55" height="6.20" fill="#282c9c"/>
<rect x="124.55" y="161.40" width="5.55" height="6.20" fill="#282c9c"/>
<rect x="128.90" y="161.40" width="5.55" height="6.20" fill="#282c9c"/>
<rect x="133.25" y="161.40" width="5.55" height="6.20" fill="#6450b0"/>
<rect x="137.60" y="161.40" width="5.55" height="6.20" fill="#9a88c8"/>
<rect x="141.95" y="161.40" width="5.55" height="6.20" fill="#282c9c"/>
<rect x="146.30" y="161.40" width="5.55" height="6.20" fill="#282c9c"/>
<rect x="150.65" y="161.40" width="5.55" height="6.20" fill="#9a88c8"/>
<rect x="155.00" y="161.40" width="5.55" height="6.20" fill="#f5f0f2"/>
<rect x="159.35" y="161.40" width="5.55" height="6.20" fill="#6450b0"/>
<rect x="163.70" y="161.40" width="5.55" height="6.20" fill="#282c9c"/>
<rect x="168.05" y="161.40" width="5.55" height="6.20" fill="#6450b0"/>
<rect x="172.40" y="161.40" width="5.55" height="6.20" fill="#282c9c"/>
<rect x="176.75" y="161.40" width="5.55" height="6.20" fill="#282c9c"/>
<rect x="181.10" y="161.40" width="5.55" height="6.20" fill="#282c9c"/>
<rect x="185.45" y="161.40" width="5.55" height="6.20" fill="#9a88c8"/>
<rect x="189.80" y="161.40" width="5.55" height="6.20" fill="#9a88c8"/>
<rect x="194.15" y="161.40" width="5.55" height="6.20" fill="#6450b0"/>
<rect x="198.50" y="161.40" width="5.55" height="6.20" fill="#6450b0"/>
<rect x="202.85" y="161.40" width="5.55" height="6.20" fill="#282c9c"/>
<rect x="207.20" y="161.40" width="5.55" height="6.20" fill="#282c9c"/>
<rect x="211.55" y="161.40" width="5.55" height="6.20" fill="#9a88c8"/>
<rect x="215.90" y="161.40" width="5.55" height="6.20" fill="#9a88c8"/>
<rect x="220.25" y="161.40" width="5.55" height="6.20" fill="#282c9c"/>
<rect x="224.60" y="161.40" width="5.55" height="6.20" fill="#282c9c"/>
<rect x="228.95" y="161.40" width="4.35" height="6.20" fill="#282c9c"/>
<rect x="59.30" y="166.40" width="5.55" height="6.20" fill="#282c9c"/>
<rect x="63.65" y="166.40" width="5.55" height="6.20" fill="#6450b0"/>
<rect x="68.00" y="166.40" width="5.55" height="6.20" fill="#6450b0"/>
<rect x="72.35" y="166.40" width="5.55" height="6.20" fill="#6450b0"/>
<rect x="76.70" y="166.40" width="5.55" height="6.20" fill="#6450b0"/>
<rect x="81.05" y="166.40" width="5.55" height="6.20" fill="#6450b0"/>
<rect x="85.40" y="166.40" width="5.55" height="6.20" fill="#6450b0"/>
<rect x="89.75" y="166.40" width="5.55" height="6.20" fill="#9a88c8"/>
<rect x="94.10" y="166.40" width="5.55" height="6.20" fill="#6450b0"/>
<rect x="98.45" y="166.40" width="5.55" height="6.20" fill="#6450b0"/>
<rect x="102.80" y="166.40" width="5.55" height="6.20" fill="#6450b0"/>
<rect x="107.15" y="166.40" width="5.55" height="6.20" fill="#6450b0"/>
<rect x="111.50" y="166.40" width="5.55" height="6.20" fill="#9a88c8"/>
<rect x="115.85" y="166.40" width="5.55" height="6.20" fill="#282c9c"/>
<rect x="120.20" y="166.40" width="5.55" height="6.20" fill="#282c9c"/>
<rect x="124.55" y="166.40" width="5.55" height="6.20" fill="#f5f0f2"/>
<rect x="128.90" y="166.40" width="5.55" height="6.20" fill="#f5f0f2"/>
<rect x="133.25" y="166.40" width="5.55" height="6.20" fill="#6450b0"/>
<rect x="137.60" y="166.40" width="5.55" height="6.20" fill="#6450b0"/>
<rect x="141.95" y="166.40" width="5.55" height="6.20" fill="#6450b0"/>
<rect x="146.30" y="166.40" width="5.55" height="6.20" fill="#282c9c"/>
<rect x="150.65" y="166.40" width="5.55" height="6.20" fill="#6450b0"/>
<rect x="155.00" y="166.40" width="5.55" height="6.20" fill="#282c9c"/>
<rect x="159.35" y="166.40" width="5.55" height="6.20" fill="#6450b0"/>
<rect x="163.70" y="166.40" width="5.55" height="6.20" fill="#282c9c"/>
<rect x="168.05" y="166.40" width="5.55" height="6.20" fill="#9a88c8"/>
<rect x="172.40" y="166.40" width="5.55" height="6.20" fill="#282c9c"/>
<rect x="176.75" y="166.40" width="5.55" height="6.20" fill="#9a88c8"/>
<rect x="181.10" y="166.40" width="5.55" height="6.20" fill="#282c9c"/>
<rect x="185.45" y="166.40" width="5.55" height="6.20" fill="#6450b0"/>
<rect x="189.80" y="166.40" width="5.55" height="6.20" fill="#282c9c"/>
<rect x="194.15" y="166.40" width="5.55" height="6.20" fill="#9a88c8"/>
<rect x="198.50" y="166.40" width="5.55" height="6.20" fill="#6450b0"/>
<rect x="202.85" y="166.40" width="5.55" height="6.20" fill="#282c9c"/>
<rect x="207.20" y="166.40" width="5.55" height="6.20" fill="#282c9c"/>
<rect x="211.55" y="166.40" width="5.55" height="6.20" fill="#cbbfe0"/>
<rect x="215.90" y="166.40" width="5.55" height="6.20" fill="#6450b0"/>
<rect x="220.25" y="166.40" width="5.55" height="6.20" fill="#282c9c"/>
<rect x="224.60" y="166.40" width="5.55" height="6.20" fill="#9a88c8"/>
<rect x="228.95" y="166.40" width="4.35" height="6.20" fill="#282c9c"/>
<rect x="59.30" y="171.40" width="5.55" height="6.20" fill="#f5f0f2"/>
<rect x="63.65" y="171.40" width="5.55" height="6.20" fill="#6450b0"/>
<rect x="68.00" y="171.40" width="5.55" height="6.20" fill="#282c9c"/>
<rect x="72.35" y="171.40" width="5.55" height="6.20" fill="#6450b0"/>
<rect x="76.70" y="171.40" width="5.55" height="6.20" fill="#9a88c8"/>
<rect x="81.05" y="171.40" width="5.55" height="6.20" fill="#9a88c8"/>
<rect x="85.40" y="171.40" width="5.55" height="6.20" fill="#9a88c8"/>
<rect x="89.75" y="171.40" width="5.55" height="6.20" fill="#282c9c"/>
<rect x="94.10" y="171.40" width="5.55" height="6.20" fill="#6450b0"/>
<rect x="98.45" y="171.40" width="5.55" height="6.20" fill="#282c9c"/>
<rect x="102.80" y="171.40" width="5.55" height="6.20" fill="#9a88c8"/>
<rect x="107.15" y="171.40" width="5.55" height="6.20" fill="#282c9c"/>
<rect x="111.50" y="171.40" width="5.55" height="6.20" fill="#282c9c"/>
<rect x="115.85" y="171.40" width="5.55" height="6.20" fill="#282c9c"/>
<rect x="120.20" y="171.40" width="5.55" height="6.20" fill="#282c9c"/>
<rect x="124.55" y="171.40" width="5.55" height="6.20" fill="#282c9c"/>
<rect x="128.90" y="171.40" width="5.55" height="6.20" fill="#282c9c"/>
<rect x="133.25" y="171.40" width="5.55" height="6.20" fill="#282c9c"/>
<rect x="137.60" y="171.40" width="5.55" height="6.20" fill="#6450b0"/>
<rect x="141.95" y="171.40" width="5.55" height="6.20" fill="#6450b0"/>
<rect x="146.30" y="171.40" width="5.55" height="6.20" fill="#6450b0"/>
<rect x="150.65" y="171.40" width="5.55" height="6.20" fill="#6450b0"/>
<rect x="155.00" y="171.40" width="5.55" height="6.20" fill="#6450b0"/>
<rect x="159.35" y="171.40" width="5.55" height="6.20" fill="#9a88c8"/>
<rect x="163.70" y="171.40" width="5.55" height="6.20" fill="#282c9c"/>
<rect x="168.05" y="171.40" width="5.55" height="6.20" fill="#282c9c"/>
<rect x="172.40" y="171.40" width="5.55" height="6.20" fill="#282c9c"/>
<rect x="176.75" y="171.40" width="5.55" height="6.20" fill="#6450b0"/>
<rect x="181.10" y="171.40" width="5.55" height="6.20" fill="#282c9c"/>
<rect x="185.45" y="171.40" width="5.55" height="6.20" fill="#282c9c"/>
<rect x="189.80" y="171.40" width="5.55" height="6.20" fill="#282c9c"/>
<rect x="194.15" y="171.40" width="5.55" height="6.20" fill="#6450b0"/>
<rect x="198.50" y="171.40" width="5.55" height="6.20" fill="#282c9c"/>
<rect x="202.85" y="171.40" width="5.55" height="6.20" fill="#282c9c"/>
<rect x="207.20" y="171.40" width="5.55" height="6.20" fill="#282c9c"/>
<rect x="211.55" y="171.40" width="5.55" height="6.20" fill="#6450b0"/>
<rect x="215.90" y="171.40" width="5.55" height="6.20" fill="#282c9c"/>
<rect x="220.25" y="171.40" width="5.55" height="6.20" fill="#282c9c"/>
<rect x="224.60" y="171.40" width="5.55" height="6.20" fill="#6450b0"/>
<rect x="228.95" y="171.40" width="4.35" height="6.20" fill="#282c9c"/>
<rect x="59.30" y="176.40" width="5.55" height="5.00" fill="#f5d2c6"/>
<rect x="63.65" y="176.40" width="5.55" height="5.00" fill="#6450b0"/>
<rect x="68.00" y="176.40" width="5.55" height="5.00" fill="#f5f0f2"/>
<rect x="72.35" y="176.40" width="5.55" height="5.00" fill="#9a88c8"/>
<rect x="76.70" y="176.40" width="5.55" height="5.00" fill="#282c9c"/>
<rect x="81.05" y="176.40" width="5.55" height="5.00" fill="#282c9c"/>
<rect x="85.40" y="176.40" width="5.55" height="5.00" fill="#282c9c"/>
<rect x="89.75" y="176.40" width="5.55" height="5.00" fill="#9a88c8"/>
<rect x="94.10" y="176.40" width="5.55" height="5.00" fill="#6450b0"/>
<rect x="98.45" y="176.40" width="5.55" height="5.00" fill="#282c9c"/>
<rect x="102.80" y="176.40" width="5.55" height="5.00" fill="#f5f0f2"/>
<rect x="107.15" y="176.40" width="5.55" height="5.00" fill="#6450b0"/>
<rect x="111.50" y="176.40" width="5.55" height="5.00" fill="#282c9c"/>
<rect x="115.85" y="176.40" width="5.55" height="5.00" fill="#282c9c"/>
<rect x="120.20" y="176.40" width="5.55" height="5.00" fill="#9a88c8"/>
<rect x="124.55" y="176.40" width="5.55" height="5.00" fill="#282c9c"/>
<rect x="128.90" y="176.40" width="5.55" height="5.00" fill="#282c9c"/>
<rect x="133.25" y="176.40" width="5.55" height="5.00" fill="#282c9c"/>
<rect x="137.60" y="176.40" width="5.55" height="5.00" fill="#282c9c"/>
<rect x="141.95" y="176.40" width="5.55" height="5.00" fill="#6450b0"/>
<rect x="146.30" y="176.40" width="5.55" height="5.00" fill="#cbbfe0"/>
<rect x="150.65" y="176.40" width="5.55" height="5.00" fill="#cbbfe0"/>
<rect x="155.00" y="176.40" width="5.55" height="5.00" fill="#cbbfe0"/>
<rect x="159.35" y="176.40" width="5.55" height="5.00" fill="#282c9c"/>
<rect x="163.70" y="176.40" width="5.55" height="5.00" fill="#282c9c"/>
<rect x="168.05" y="176.40" width="5.55" height="5.00" fill="#282c9c"/>
<rect x="172.40" y="176.40" width="5.55" height="5.00" fill="#6450b0"/>
<rect x="176.75" y="176.40" width="5.55" height="5.00" fill="#282c9c"/>
<rect x="181.10" y="176.40" width="5.55" height="5.00" fill="#cbbfe0"/>
<rect x="185.45" y="176.40" width="5.55" height="5.00" fill="#282c9c"/>
<rect x="189.80" y="176.40" width="5.55" height="5.00" fill="#282c9c"/>
<rect x="194.15" y="176.40" width="5.55" height="5.00" fill="#6450b0"/>
<rect x="198.50" y="176.40" width="5.55" height="5.00" fill="#9a88c8"/>
<rect x="202.85" y="176.40" width="5.55" height="5.00" fill="#282c9c"/>
<rect x="207.20" y="176.40" width="5.55" height="5.00" fill="#282c9c"/>
<rect x="211.55" y="176.40" width="5.55" height="5.00" fill="#282c9c"/>
<rect x="215.90" y="176.40" width="5.55" height="5.00" fill="#282c9c"/>
<rect x="220.25" y="176.40" width="5.55" height="5.00" fill="#9a88c8"/>
<rect x="224.60" y="176.40" width="5.55" height="5.00" fill="#282c9c"/>
<rect x="228.95" y="176.40" width="4.35" height="5.00" fill="#282c9c"/>
</g>
<text x="235.00" y="23.20" font-size="4.6" text-anchor="start" fill="#222" font-weight="normal" >CXCL10</text>
<text x="235.00" y="28.20" font-size="4.6" text-anchor="start" fill="#222" font-weight="normal" >IL6</text>
<text x="235.00" y="33.20" font-size="4.6" text-anchor="start" fill="#222" font-weight="normal" >IL10</text>
<text x="235.00" y="38.20" font-size="4.6" text-anchor="start" fill="#222" font-weight="normal" >CXCL11</text>
<text x="235.00" y="43.20" font-size="4.6" text-anchor="start" fill="#222" font-weight="normal" >CXCL9</text>
<text x="235.00" y="48.20" font-size="4.6" text-anchor="start" fill="#222" font-weight="normal" >IFN&#947;</text>
<text x="235.00" y="53.20" font-size="4.6" text-anchor="start" fill="#222" font-weight="normal" >IL15</text>
<text x="235.00" y="59.20" font-size="4.6" text-anchor="start" fill="#222" font-weight="normal" >IL2</text>
<text x="235.00" y="64.20" font-size="4.6" text-anchor="start" fill="#222" font-weight="normal" >IL1RA</text>
<text x="235.00" y="69.20" font-size="4.6" text-anchor="start" fill="#222" font-weight="normal" >G-CSF</text>
<text x="235.00" y="74.20" font-size="4.6" text-anchor="start" fill="#222" font-weight="normal" >TNF&#945;</text>
<text x="235.00" y="79.20" font-size="4.6" text-anchor="start" fill="#222" font-weight="normal" >IL4</text>
<text x="235.00" y="84.20" font-size="4.6" text-anchor="start" fill="#222" font-weight="normal" >IL2R &#945;</text>
<text x="235.00" y="89.20" font-size="4.6" text-anchor="start" fill="#222" font-weight="normal" >RANKL</text>
<text x="235.00" y="94.20" font-size="4.6" text-anchor="start" fill="#222" font-weight="normal" >IL1&#946;</text>
<text x="235.00" y="99.20" font-size="4.6" text-anchor="start" fill="#222" font-weight="normal" >IL17</text>
<text x="235.00" y="104.20" font-size="4.6" text-anchor="start" fill="#222" font-weight="normal" >GM-CSF</text>
<text x="235.00" y="109.20" font-size="4.6" text-anchor="start" fill="#222" font-weight="normal" >IL5</text>
<text x="235.00" y="114.20" font-size="4.6" text-anchor="start" fill="#222" font-weight="normal" >IL12p70</text>
<text x="235.00" y="120.20" font-size="4.6" text-anchor="start" fill="#222" font-weight="normal" >CCL2</text>
<text x="235.00" y="125.20" font-size="4.6" text-anchor="start" fill="#222" font-weight="normal" >CCL27</text>
<text x="235.00" y="130.20" font-size="4.6" text-anchor="start" fill="#222" font-weight="normal" >CCL8</text>
<text x="235.00" y="135.20" font-size="4.6" text-anchor="start" fill="#222" font-weight="normal" >CCL4</text>
<text x="235.00" y="140.20" font-size="4.6" text-anchor="start" fill="#222" font-weight="normal" >CCL3</text>
<text x="235.00" y="145.20" font-size="4.6" text-anchor="start" fill="#222" font-weight="normal" >CXCL13</text>
<text x="235.00" y="150.20" font-size="4.6" text-anchor="start" fill="#222" font-weight="normal" >CCL11</text>
<text x="235.00" y="156.20" font-size="4.6" text-anchor="start" fill="#222" font-weight="normal" >HGF</text>
<text x="235.00" y="161.20" font-size="4.6" text-anchor="start" fill="#222" font-weight="normal" >VEGF</text>
<text x="235.00" y="166.20" font-size="4.6" text-anchor="start" fill="#222" font-weight="normal" >Galectin3</text>
<text x="235.00" y="171.20" font-size="4.6" text-anchor="start" fill="#222" font-weight="normal" >MMP1</text>
<text x="235.00" y="176.20" font-size="4.6" text-anchor="start" fill="#222" font-weight="normal" >ICAM1</text>
<text x="235.00" y="181.20" font-size="4.6" text-anchor="start" fill="#222" font-weight="normal" >VEGFD</text>
<text x="24.40" y="33.90" font-size="6.4" text-anchor="middle" fill="#222" font-weight="normal" textLength="13.5" lengthAdjust="spacingAndGlyphs">INF&#947;</text>
<text x="24.05" y="41.50" font-size="6.4" text-anchor="middle" fill="#222" font-weight="normal" textLength="21.9" lengthAdjust="spacingAndGlyphs">regulated</text>
<text x="24.50" y="76.80" font-size="6.6" text-anchor="middle" fill="#222" font-weight="normal" >Immune</text>
<text x="24.50" y="84.30" font-size="6.6" text-anchor="middle" fill="#222" font-weight="normal" >modulation</text>
<text x="26.50" y="135.60" font-size="6.6" text-anchor="middle" fill="#222" font-weight="normal" >Chemokines</text>
<text x="24.80" y="160.50" font-size="6.6" text-anchor="middle" fill="#222" font-weight="normal" >Angiogenesis</text>
<text x="24.80" y="168.00" font-size="6.6" text-anchor="middle" fill="#222" font-weight="normal" >cell adhesion</text>
<text x="24.80" y="175.60" font-size="6.6" text-anchor="middle" fill="#222" font-weight="normal" >ECM modulation</text>
<text x="8.50" y="11.30" font-size="12.2" text-anchor="start" fill="#000" font-weight="bold" stroke="#000" stroke-width="0.25">A</text>
<line x1="55.80" y1="20.90" x2="59.00" y2="20.90" stroke="#555" stroke-width="0.5" />
<line x1="55.80" y1="25.90" x2="59.00" y2="25.90" stroke="#555" stroke-width="0.5" />
<line x1="55.80" y1="20.90" x2="55.80" y2="25.90" stroke="#555" stroke-width="0.5" />
<line x1="55.80" y1="30.90" x2="59.00" y2="30.90" stroke="#555" stroke-width="0.5" />
<line x1="55.80" y1="35.90" x2="59.00" y2="35.90" stroke="#555" stroke-width="0.5" />
<line x1="55.80" y1="30.90" x2="55.80" y2="35.90" stroke="#555" stroke-width="0.5" />
<line x1="52.60" y1="33.40" x2="55.80" y2="33.40" stroke="#555" stroke-width="0.5" />
<line x1="52.60" y1="40.90" x2="59.00" y2="40.90" stroke="#555" stroke-width="0.5" />
<line x1="52.60" y1="33.40" x2="52.60" y2="40.90" stroke="#555" stroke-width="0.5" />
<line x1="49.40" y1="23.40" x2="55.80" y2="23.40" stroke="#555" stroke-width="0.5" />
<line x1="49.40" y1="37.15" x2="52.60" y2="37.15" stroke="#555" stroke-width="0.5" />
<line x1="49.40" y1="23.40" x2="49.40" y2="37.15" stroke="#555" stroke-width="0.5" />
<line x1="55.80" y1="45.90" x2="59.00" y2="45.90" stroke="#555" stroke-width="0.5" />
<line x1="55.80" y1="50.90" x2="59.00" y2="50.90" stroke="#555" stroke-width="0.5" />
<line x1="55.80" y1="45.90" x2="55.80" y2="50.90" stroke="#555" stroke-width="0.5" />
<line x1="46.20" y1="30.27" x2="49.40" y2="30.27" stroke="#555" stroke-width="0.5" />
<line x1="46.20" y1="48.40" x2="55.80" y2="48.40" stroke="#555" stroke-width="0.5" />
<line x1="46.20" y1="30.27" x2="46.20" y2="48.40" stroke="#555" stroke-width="0.5" />
<line x1="56.33" y1="56.90" x2="59.00" y2="56.90" stroke="#555" stroke-width="0.5" />
<line x1="56.33" y1="61.90" x2="59.00" y2="61.90" stroke="#555" stroke-width="0.5" />
<line x1="56.33" y1="56.90" x2="56.33" y2="61.90" stroke="#555" stroke-width="0.5" />
<line x1="56.33" y1="66.90" x2="59.00" y2="66.90" stroke="#555" stroke-width="0.5" />
<line x1="56.33" y1="71.90" x2="59.00" y2="71.90" stroke="#555" stroke-width="0.5" />
<line x1="56.33" y1="66.90" x2="56.33" y2="71.90" stroke="#555" stroke-width="0.5" />
<line x1="53.65" y1="59.40" x2="56.33" y2="59.40" stroke="#555" stroke-width="0.5" />
<line x1="53.65" y1="69.40" x2="56.33" y2="69.40" stroke="#555" stroke-width="0.5" />
<line x1="53.65" y1="59.40" x2="53.65" y2="69.40" stroke="#555" stroke-width="0.5" />
<line x1="56.33" y1="76.90" x2="59.00" y2="76.90" stroke="#555" stroke-width="0.5" />
<line x1="56.33" y1="81.90" x2="59.00" y2="81.90" stroke="#555" stroke-width="0.5" />
<line x1="56.33" y1="76.90" x2="56.33" y2="81.90" stroke="#555" stroke-width="0.5" />
<line x1="50.97" y1="64.40" x2="53.65" y2="64.40" stroke="#555" stroke-width="0.5" />
<line x1="50.97" y1="79.40" x2="56.33" y2="79.40" stroke="#555" stroke-width="0.5" />
<line x1="50.97" y1="64.40" x2="50.97" y2="79.40" stroke="#555" stroke-width="0.5" />
<line x1="56.33" y1="91.90" x2="59.00" y2="91.90" stroke="#555" stroke-width="0.5" />
<line x1="56.33" y1="96.90" x2="59.00" y2="96.90" stroke="#555" stroke-width="0.5" />
<line x1="56.33" y1="91.90" x2="56.33" y2="96.90" stroke="#555" stroke-width="0.5" />
<line x1="53.65" y1="86.90" x2="59.00" y2="86.90" stroke="#555" stroke-width="0.5" />
<line x1="53.65" y1="94.40" x2="56.33" y2="94.40" stroke="#555" stroke-width="0.5" />
<line x1="53.65" y1="86.90" x2="53.65" y2="94.40" stroke="#555" stroke-width="0.5" />
<line x1="56.33" y1="101.90" x2="59.00" y2="101.90" stroke="#555" stroke-width="0.5" />
<line x1="56.33" y1="106.90" x2="59.00" y2="106.90" stroke="#555" stroke-width="0.5" />
<line x1="56.33" y1="101.90" x2="56.33" y2="106.90" stroke="#555" stroke-width="0.5" />
<line x1="53.65" y1="104.40" x2="56.33" y2="104.40" stroke="#555" stroke-width="0.5" />
<line x1="53.65" y1="111.90" x2="59.00" y2="111.90" stroke="#555" stroke-width="0.5" />
<line x1="53.65" y1="104.40" x2="53.65" y2="111.90" stroke="#555" stroke-width="0.5" />
<line x1="50.97" y1="90.65" x2="53.65" y2="90.65" stroke="#555" stroke-width="0.5" />
<line x1="50.97" y1="108.15" x2="53.65" y2="108.15" stroke="#555" stroke-width="0.5" />
<line x1="50.97" y1="90.65" x2="50.97" y2="108.15" stroke="#555" stroke-width="0.5" />
<line x1="48.30" y1="71.90" x2="50.97" y2="71.90" stroke="#555" stroke-width="0.5" />
<line x1="48.30" y1="99.40" x2="50.97" y2="99.40" stroke="#555" stroke-width="0.5" />
<line x1="48.30" y1="71.90" x2="48.30" y2="99.40" stroke="#555" stroke-width="0.5" />
<line x1="56.30" y1="117.90" x2="59.00" y2="117.90" stroke="#555" stroke-width="0.5" />
<line x1="56.30" y1="122.90" x2="59.00" y2="122.90" stroke="#555" stroke-width="0.5" />
<line x1="56.30" y1="117.90" x2="56.30" y2="122.90" stroke="#555" stroke-width="0.5" />
<line x1="56.30" y1="127.90" x2="59.00" y2="127.90" stroke="#555" stroke-width="0.5" />
<line x1="56.30" y1="132.90" x2="59.00" y2="132.90" stroke="#555" stroke-width="0.5" />
<line x1="56.30" y1="127.90" x2="56.30" y2="132.90" stroke="#555" stroke-width="0.5" />
<line x1="53.60" y1="120.40" x2="56.30" y2="120.40" stroke="#555" stroke-width="0.5" />
<line x1="53.60" y1="130.40" x2="56.30" y2="130.40" stroke="#555" stroke-width="0.5" />
<line x1="53.60" y1="120.40" x2="53.60" y2="130.40" stroke="#555" stroke-width="0.5" />
<line x1="56.30" y1="137.90" x2="59.00" y2="137.90" stroke="#555" stroke-width="0.5" />
<line x1="56.30" y1="142.90" x2="59.00" y2="142.90" stroke="#555" stroke-width="0.5" />
<line x1="56.30" y1="137.90" x2="56.30" y2="142.90" stroke="#555" stroke-width="0.5" />
<line x1="53.60" y1="140.40" x2="56.30" y2="140.40" stroke="#555" stroke-width="0.5" />
<line x1="53.60" y1="147.90" x2="59.00" y2="147.90" stroke="#555" stroke-width="0.5" />
<line x1="53.60" y1="140.40" x2="53.60" y2="147.90" stroke="#555" stroke-width="0.5" />
<line x1="50.90" y1="125.40" x2="53.60" y2="125.40" stroke="#555" stroke-width="0.5" />
<line x1="50.90" y1="144.15" x2="53.60" y2="144.15" stroke="#555" stroke-width="0.5" />
<line x1="50.90" y1="125.40" x2="50.90" y2="144.15" stroke="#555" stroke-width="0.5" />
<line x1="56.93" y1="153.90" x2="59.00" y2="153.90" stroke="#555" stroke-width="0.5" />
<line x1="56.93" y1="158.90" x2="59.00" y2="158.90" stroke="#555" stroke-width="0.5" />
<line x1="56.93" y1="153.90" x2="56.93" y2="158.90" stroke="#555" stroke-width="0.5" />
<line x1="54.87" y1="156.40" x2="56.93" y2="156.40" stroke="#555" stroke-width="0.5" />
<line x1="54.87" y1="163.90" x2="59.00" y2="163.90" stroke="#555" stroke-width="0.5" />
<line x1="54.87" y1="156.40" x2="54.87" y2="163.90" stroke="#555" stroke-width="0.5" />
<line x1="56.93" y1="168.90" x2="59.00" y2="168.90" stroke="#555" stroke-width="0.5" />
<line x1="56.93" y1="173.90" x2="59.00" y2="173.90" stroke="#555" stroke-width="0.5" />
<line x1="56.93" y1="168.90" x2="56.93" y2="173.90" stroke="#555" stroke-width="0.5" />
<line x1="54.87" y1="171.40" x2="56.93" y2="171.40" stroke="#555" stroke-width="0.5" />
<line x1="54.87" y1="178.90" x2="59.00" y2="178.90" stroke="#555" stroke-width="0.5" />
<line x1="54.87" y1="171.40" x2="54.87" y2="178.90" stroke="#555" stroke-width="0.5" />
<line x1="52.80" y1="160.15" x2="54.87" y2="160.15" stroke="#555" stroke-width="0.5" />
<line x1="52.80" y1="175.15" x2="54.87" y2="175.15" stroke="#555" stroke-width="0.5" />
<line x1="52.80" y1="160.15" x2="52.80" y2="175.15" stroke="#555" stroke-width="0.5" />
<line x1="65.83" y1="16.90" x2="65.83" y2="18.30" stroke="#4a4a4a" stroke-width="0.6" />
<line x1="70.17" y1="16.90" x2="70.17" y2="18.30" stroke="#4a4a4a" stroke-width="0.6" />
<line x1="65.83" y1="16.90" x2="70.17" y2="16.90" stroke="#4a4a4a" stroke-width="0.6" />
<line x1="74.52" y1="16.90" x2="74.52" y2="18.30" stroke="#4a4a4a" stroke-width="0.6" />
<line x1="78.88" y1="16.90" x2="78.88" y2="18.30" stroke="#4a4a4a" stroke-width="0.6" />
<line x1="74.52" y1="16.90" x2="78.88" y2="16.90" stroke="#4a4a4a" stroke-width="0.6" />
<line x1="68.00" y1="15.60" x2="68.00" y2="16.90" stroke="#4a4a4a" stroke-width="0.6" />
<line x1="76.70" y1="15.60" x2="76.70" y2="16.90" stroke="#4a4a4a" stroke-width="0.6" />
<line x1="68.00" y1="15.60" x2="76.70" y2="15.60" stroke="#4a4a4a" stroke-width="0.6" />
<line x1="83.22" y1="16.90" x2="83.22" y2="18.30" stroke="#4a4a4a" stroke-width="0.6" />
<line x1="87.57" y1="16.90" x2="87.57" y2="18.30" stroke="#4a4a4a" stroke-width="0.6" />
<line x1="83.22" y1="16.90" x2="87.57" y2="16.90" stroke="#4a4a4a" stroke-width="0.6" />
<line x1="91.92" y1="16.90" x2="91.92" y2="18.30" stroke="#4a4a4a" stroke-width="0.6" />
<line x1="96.27" y1="16.90" x2="96.27" y2="18.30" stroke="#4a4a4a" stroke-width="0.6" />
<line x1="91.92" y1="16.90" x2="96.27" y2="16.90" stroke="#4a4a4a" stroke-width="0.6" />
<line x1="85.40" y1="15.60" x2="85.40" y2="16.90" stroke="#4a4a4a" stroke-width="0.6" />
<line x1="94.10" y1="15.60" x2="94.10" y2="16.90" stroke="#4a4a4a" stroke-width="0.6" />
<line x1="85.40" y1="15.60" x2="94.10" y2="15.60" stroke="#4a4a4a" stroke-width="0.6" />
<line x1="100.62" y1="16.90" x2="100.62" y2="18.30" stroke="#4a4a4a" stroke-width="0.6" />
<line x1="104.97" y1="16.90" x2="104.97" y2="18.30" stroke="#4a4a4a" stroke-width="0.6" />
<line x1="100.62" y1="16.90" x2="104.97" y2="16.90" stroke="#4a4a4a" stroke-width="0.6" />
<line x1="109.32" y1="16.90" x2="109.32" y2="18.30" stroke="#4a4a4a" stroke-width="0.6" />
<line x1="113.67" y1="16.90" x2="113.67" y2="18.30" stroke="#4a4a4a" stroke-width="0.6" />
<line x1="109.32" y1="16.90" x2="113.67" y2="16.90" stroke="#4a4a4a" stroke-width="0.6" />
<line x1="102.80" y1="15.60" x2="102.80" y2="16.90" stroke="#4a4a4a" stroke-width="0.6" />
<line x1="111.50" y1="15.60" x2="111.50" y2="16.90" stroke="#4a4a4a" stroke-width="0.6" />
<line x1="102.80" y1="15.60" x2="111.50" y2="15.60" stroke="#4a4a4a" stroke-width="0.6" />
<line x1="72.35" y1="14.00" x2="72.35" y2="15.60" stroke="#4a4a4a" stroke-width="0.6" />
<line x1="89.75" y1="14.00" x2="89.75" y2="15.60" stroke="#4a4a4a" stroke-width="0.6" />
<line x1="107.15" y1="14.00" x2="107.15" y2="15.60" stroke="#4a4a4a" stroke-width="0.6" />
<line x1="72.35" y1="14.00" x2="107.15" y2="14.00" stroke="#4a4a4a" stroke-width="0.6" />
<line x1="118.02" y1="15.80" x2="118.02" y2="18.30" stroke="#4a4a4a" stroke-width="0.6" />
<line x1="122.38" y1="15.80" x2="122.38" y2="18.30" stroke="#4a4a4a" stroke-width="0.6" />
<line x1="118.02" y1="15.80" x2="122.38" y2="15.80" stroke="#4a4a4a" stroke-width="0.6" />
<line x1="126.72" y1="16.90" x2="126.72" y2="18.30" stroke="#4a4a4a" stroke-width="0.6" />
<line x1="131.07" y1="16.90" x2="131.07" y2="18.30" stroke="#4a4a4a" stroke-width="0.6" />
<line x1="126.72" y1="16.90" x2="131.07" y2="16.90" stroke="#4a4a4a" stroke-width="0.6" />
<line x1="135.43" y1="16.90" x2="135.43" y2="18.30" stroke="#4a4a4a" stroke-width="0.6" />
<line x1="139.77" y1="16.90" x2="139.77" y2="18.30" stroke="#4a4a4a" stroke-width="0.6" />
<line x1="135.43" y1="16.90" x2="139.77" y2="16.90" stroke="#4a4a4a" stroke-width="0.6" />
<line x1="128.90" y1="16.20" x2="128.90" y2="16.90" stroke="#4a4a4a" stroke-width="0.6" />
<line x1="137.60" y1="16.20" x2="137.60" y2="16.90" stroke="#4a4a4a" stroke-width="0.6" />
<line x1="128.90" y1="16.20" x2="137.60" y2="16.20" stroke="#4a4a4a" stroke-width="0.6" />
<line x1="144.12" y1="16.90" x2="144.12" y2="18.30" stroke="#4a4a4a" stroke-width="0.6" />
<line x1="148.47" y1="16.90" x2="148.47" y2="18.30" stroke="#4a4a4a" stroke-width="0.6" />
<line x1="144.12" y1="16.90" x2="148.47" y2="16.90" stroke="#4a4a4a" stroke-width="0.6" />
<line x1="152.82" y1="16.90" x2="152.82" y2="18.30" stroke="#4a4a4a" stroke-width="0.6" />
<line x1="157.17" y1="16.90" x2="157.17" y2="18.30" stroke="#4a4a4a" stroke-width="0.6" />
<line x1="152.82" y1="16.90" x2="157.17" y2="16.90" stroke="#4a4a4a" stroke-width="0.6" />
<line x1="146.30" y1="16.20" x2="146.30" y2="16.90" stroke="#4a4a4a" stroke-width="0.6" />
<line x1="155.00" y1="16.20" x2="155.00" y2="16.90" stroke="#4a4a4a" stroke-width="0.6" />
<line x1="146.30" y1="16.20" x2="155.00" y2="16.20" stroke="#4a4a4a" stroke-width="0.6" />
<line x1="161.52" y1="16.90" x2="161.52" y2="18.30" stroke="#4a4a4a" stroke-width="0.6" />
<line x1="165.88" y1="16.90" x2="165.88" y2="18.30" stroke="#4a4a4a" stroke-width="0.6" />
<line x1="161.52" y1="16.90" x2="165.88" y2="16.90" stroke="#4a4a4a" stroke-width="0.6" />
<line x1="170.22" y1="16.90" x2="170.22" y2="18.30" stroke="#4a4a4a" stroke-width="0.6" />
<line x1="174.57" y1="16.90" x2="174.57" y2="18.30" stroke="#4a4a4a" stroke-width="0.6" />
<line x1="170.22" y1="16.90" x2="174.57" y2="16.90" stroke="#4a4a4a" stroke-width="0.6" />
<line x1="163.70" y1="16.20" x2="163.70" y2="16.90" stroke="#4a4a4a" stroke-width="0.6" />
<line x1="172.40" y1="16.20" x2="172.40" y2="16.90" stroke="#4a4a4a" stroke-width="0.6" />
<line x1="163.70" y1="16.20" x2="172.40" y2="16.20" stroke="#4a4a4a" stroke-width="0.6" />
<line x1="133.25" y1="15.00" x2="133.25" y2="16.20" stroke="#4a4a4a" stroke-width="0.6" />
<line x1="150.65" y1="15.00" x2="150.65" y2="16.20" stroke="#4a4a4a" stroke-width="0.6" />
<line x1="168.05" y1="15.00" x2="168.05" y2="16.20" stroke="#4a4a4a" stroke-width="0.6" />
<line x1="178.92" y1="15.00" x2="178.92" y2="18.30" stroke="#4a4a4a" stroke-width="0.6" />
<line x1="133.25" y1="15.00" x2="178.92" y2="15.00" stroke="#4a4a4a" stroke-width="0.6" />
<line x1="183.27" y1="16.90" x2="183.27" y2="18.30" stroke="#4a4a4a" stroke-width="0.6" />
<line x1="187.62" y1="16.90" x2="187.62" y2="18.30" stroke="#4a4a4a" stroke-width="0.6" />
<line x1="183.27" y1="16.90" x2="187.62" y2="16.90" stroke="#4a4a4a" stroke-width="0.6" />
<line x1="191.97" y1="16.90" x2="191.97" y2="18.30" stroke="#4a4a4a" stroke-width="0.6" />
<line x1="196.32" y1="16.90" x2="196.32" y2="18.30" stroke="#4a4a4a" stroke-width="0.6" />
<line x1="191.97" y1="16.90" x2="196.32" y2="16.90" stroke="#4a4a4a" stroke-width="0.6" />
<line x1="185.45" y1="16.20" x2="185.45" y2="16.90" stroke="#4a4a4a" stroke-width="0.6" />
<line x1="194.15" y1="16.20" x2="194.15" y2="16.90" stroke="#4a4a4a" stroke-width="0.6" />
<line x1="185.45" y1="16.20" x2="194.15" y2="16.20" stroke="#4a4a4a" stroke-width="0.6" />
<line x1="200.68" y1="16.90" x2="200.68" y2="18.30" stroke="#4a4a4a" stroke-width="0.6" />
<line x1="205.02" y1="16.90" x2="205.02" y2="18.30" stroke="#4a4a4a" stroke-width="0.6" />
<line x1="200.68" y1="16.90" x2="205.02" y2="16.90" stroke="#4a4a4a" stroke-width="0.6" />
<line x1="209.38" y1="16.90" x2="209.38" y2="18.30" stroke="#4a4a4a" stroke-width="0.6" />
<line x1="213.72" y1="16.90" x2="213.72" y2="18.30" stroke="#4a4a4a" stroke-width="0.6" />
<line x1="209.38" y1="16.90" x2="213.72" y2="16.90" stroke="#4a4a4a" stroke-width="0.6" />
<line x1="202.85" y1="16.20" x2="202.85" y2="16.90" stroke="#4a4a4a" stroke-width="0.6" />
<line x1="211.55" y1="16.20" x2="211.55" y2="16.90" stroke="#4a4a4a" stroke-width="0.6" />
<line x1="202.85" y1="16.20" x2="211.55" y2="16.20" stroke="#4a4a4a" stroke-width="0.6" />
<line x1="218.07" y1="16.90" x2="218.07" y2="18.30" stroke="#4a4a4a" stroke-width="0.6" />
<line x1="222.43" y1="16.90" x2="222.43" y2="18.30" stroke="#4a4a4a" stroke-width="0.6" />
<line x1="218.07" y1="16.90" x2="222.43" y2="16.90" stroke="#4a4a4a" stroke-width="0.6" />
<line x1="226.77" y1="16.90" x2="226.77" y2="18.30" stroke="#4a4a4a" stroke-width="0.6" />
<line x1="231.12" y1="16.90" x2="231.12" y2="18.30" stroke="#4a4a4a" stroke-width="0.6" />
<line x1="226.77" y1="16.90" x2="231.12" y2="16.90" stroke="#4a4a4a" stroke-width="0.6" />
<line x1="220.25" y1="16.20" x2="220.25" y2="16.90" stroke="#4a4a4a" stroke-width="0.6" />
<line x1="228.95" y1="16.20" x2="228.95" y2="16.90" stroke="#4a4a4a" stroke-width="0.6" />
<line x1="220.25" y1="16.20" x2="228.95" y2="16.20" stroke="#4a4a4a" stroke-width="0.6" />
<line x1="189.80" y1="14.60" x2="189.80" y2="16.20" stroke="#4a4a4a" stroke-width="0.6" />
<line x1="207.20" y1="14.60" x2="207.20" y2="16.20" stroke="#4a4a4a" stroke-width="0.6" />
<line x1="224.60" y1="14.60" x2="224.60" y2="16.20" stroke="#4a4a4a" stroke-width="0.6" />
<line x1="189.80" y1="14.60" x2="224.60" y2="14.60" stroke="#4a4a4a" stroke-width="0.6" />
<line x1="156.09" y1="14.20" x2="156.09" y2="15.00" stroke="#4a4a4a" stroke-width="0.6" />
<line x1="207.20" y1="14.20" x2="207.20" y2="14.60" stroke="#4a4a4a" stroke-width="0.6" />
<line x1="156.09" y1="14.20" x2="207.20" y2="14.20" stroke="#4a4a4a" stroke-width="0.6" />
<line x1="120.20" y1="12.80" x2="120.20" y2="15.80" stroke="#4a4a4a" stroke-width="0.6" />
<line x1="162.80" y1="12.80" x2="162.80" y2="14.20" stroke="#4a4a4a" stroke-width="0.6" />
<line x1="120.20" y1="12.80" x2="162.80" y2="12.80" stroke="#4a4a4a" stroke-width="0.6" />
<line x1="79.50" y1="10.40" x2="79.50" y2="14.00" stroke="#4a4a4a" stroke-width="0.6" />
<line x1="141.50" y1="10.40" x2="141.50" y2="12.80" stroke="#4a4a4a" stroke-width="0.6" />
<line x1="79.50" y1="10.40" x2="141.50" y2="10.40" stroke="#4a4a4a" stroke-width="0.6" />
<line x1="61.47" y1="5.70" x2="61.47" y2="18.30" stroke="#4a4a4a" stroke-width="0.6" />
<line x1="110.50" y1="5.70" x2="110.50" y2="10.40" stroke="#4a4a4a" stroke-width="0.6" />
<line x1="61.47" y1="5.70" x2="110.50" y2="5.70" stroke="#4a4a4a" stroke-width="0.6" />
<defs><linearGradient id="gA" x1="0" y1="0" x2="0" y2="1"><stop offset="0" stop-color="#f01a14"/><stop offset="0.35" stop-color="#f06a50"/><stop offset="0.62" stop-color="#f8d4c8"/><stop offset="0.72" stop-color="#f7f2f4"/><stop offset="0.82" stop-color="#a89bd0"/><stop offset="1" stop-color="#1f1f88"/></linearGradient><linearGradient id="gC" x1="0" y1="0" x2="0" y2="1"><stop offset="0" stop-color="#e3201c"/><stop offset="0.25" stop-color="#f08a70"/><stop offset="0.5" stop-color="#f7f2f4"/><stop offset="0.75" stop-color="#9488c8"/><stop offset="1" stop-color="#1f1f88"/></linearGradient></defs>
<rect x="259.6" y="18.2" width="8.0" height="37.3" fill="url(#gA)"/>
<text x="258.80" y="15.40" font-size="5.0" text-anchor="start" fill="#222" font-weight="normal" >Log<tspan font-size="3.2" dy="1.2">2</tspan><tspan dy="-1.2"> FC</tspan></text>
<text x="269.00" y="23.10" font-size="5.4" text-anchor="start" fill="#222" font-weight="normal" >8</text>
<text x="269.00" y="31.10" font-size="5.4" text-anchor="start" fill="#222" font-weight="normal" >6</text>
<text x="269.00" y="39.00" font-size="5.4" text-anchor="start" fill="#222" font-weight="normal" >4</text>
<text x="269.00" y="47.30" font-size="5.4" text-anchor="start" fill="#222" font-weight="normal" >2</text>
<text x="269.00" y="55.60" font-size="5.4" text-anchor="start" fill="#222" font-weight="normal" >0</text>
<text x="288.90" y="11.30" font-size="12.2" text-anchor="start" fill="#000" font-weight="bold" stroke="#000" stroke-width="0.25">B</text>
<line x1="319.50" y1="7.90" x2="319.50" y2="165.00" stroke="#3a3a3a" stroke-width="1.0" />
<line x1="319.00" y1="164.50" x2="518.00" y2="164.50" stroke="#3a3a3a" stroke-width="1.0" />
<line x1="317.00" y1="156.60" x2="319.50" y2="156.60" stroke="#333" stroke-width="0.8" />
<text x="315.50" y="159.00" font-size="6.9" text-anchor="end" fill="#222" font-weight="normal" stroke="#222" stroke-width="0.12">1</text>
<line x1="317.00" y1="133.87" x2="319.50" y2="133.87" stroke="#333" stroke-width="0.8" />
<text x="315.50" y="136.27" font-size="6.9" text-anchor="end" fill="#222" font-weight="normal" stroke="#222" stroke-width="0.12">2</text>
<line x1="317.00" y1="111.14" x2="319.50" y2="111.14" stroke="#333" stroke-width="0.8" />
<text x="315.50" y="113.54" font-size="6.9" text-anchor="end" fill="#222" font-weight="normal" stroke="#222" stroke-width="0.12">4</text>
<line x1="317.00" y1="97.85" x2="319.50" y2="97.85" stroke="#333" stroke-width="0.8" />
<text x="315.50" y="100.25" font-size="6.9" text-anchor="end" fill="#222" font-weight="normal" stroke="#222" stroke-width="0.12">6</text>
<line x1="317.00" y1="81.10" x2="319.50" y2="81.10" stroke="#333" stroke-width="0.8" />
<text x="315.50" y="83.50" font-size="6.9" text-anchor="end" fill="#222" font-weight="normal" stroke="#222" stroke-width="0.12">10</text>
<line x1="317.00" y1="58.37" x2="319.50" y2="58.37" stroke="#333" stroke-width="0.8" />
<text x="315.50" y="60.77" font-size="6.9" text-anchor="end" fill="#222" font-weight="normal" stroke="#222" stroke-width="0.12">20</text>
<line x1="317.00" y1="35.64" x2="319.50" y2="35.64" stroke="#333" stroke-width="0.8" />
<text x="315.50" y="38.04" font-size="6.9" text-anchor="end" fill="#222" font-weight="normal" stroke="#222" stroke-width="0.12">40</text>
<line x1="317.00" y1="22.35" x2="319.50" y2="22.35" stroke="#333" stroke-width="0.8" />
<text x="315.50" y="24.75" font-size="6.9" text-anchor="end" fill="#222" font-weight="normal" stroke="#222" stroke-width="0.12">60</text>
<line x1="333.30" y1="164.50" x2="333.30" y2="166.90" stroke="#333" stroke-width="0.8" />
<line x1="346.43" y1="164.50" x2="346.43" y2="166.90" stroke="#333" stroke-width="0.8" />
<line x1="359.56" y1="164.50" x2="359.56" y2="166.90" stroke="#333" stroke-width="0.8" />
<line x1="372.69" y1="164.50" x2="372.69" y2="166.90" stroke="#333" stroke-width="0.8" />
<line x1="385.82" y1="164.50" x2="385.82" y2="166.90" stroke="#333" stroke-width="0.8" />
<line x1="398.95" y1="164.50" x2="398.95" y2="166.90" stroke="#333" stroke-width="0.8" />
<line x1="412.08" y1="164.50" x2="412.08" y2="166.90" stroke="#333" stroke-width="0.8" />
<line x1="425.21" y1="164.50" x2="425.21" y2="166.90" stroke="#333" stroke-width="0.8" />
<line x1="438.34" y1="164.50" x2="438.34" y2="166.90" stroke="#333" stroke-width="0.8" />
<line x1="451.47" y1="164.50" x2="451.47" y2="166.90" stroke="#333" stroke-width="0.8" />
<line x1="464.60" y1="164.50" x2="464.60" y2="166.90" stroke="#333" stroke-width="0.8" />
<line x1="477.73" y1="164.50" x2="477.73" y2="166.90" stroke="#333" stroke-width="0.8" />
<line x1="490.86" y1="164.50" x2="490.86" y2="166.90" stroke="#333" stroke-width="0.8" />
<line x1="503.99" y1="164.50" x2="503.99" y2="166.90" stroke="#333" stroke-width="0.8" />
<text x="334.90" y="171.50" font-size="6.4" text-anchor="end" fill="#222" font-weight="normal" stroke="#222" stroke-width="0.15" transform="rotate(-45 334.90 171.50)">C1D1 pre dose</text>
<text x="348.03" y="171.50" font-size="6.4" text-anchor="end" fill="#222" font-weight="normal" stroke="#222" stroke-width="0.15" transform="rotate(-45 348.03 171.50)">4 h post</text>
<text x="361.16" y="171.50" font-size="6.4" text-anchor="end" fill="#222" font-weight="normal" stroke="#222" stroke-width="0.15" transform="rotate(-45 361.16 171.50)">8 h post</text>
<text x="374.29" y="171.50" font-size="6.4" text-anchor="end" fill="#222" font-weight="normal" stroke="#222" stroke-width="0.15" transform="rotate(-45 374.29 171.50)">24 h post</text>
<text x="387.42" y="171.50" font-size="6.4" text-anchor="end" fill="#222" font-weight="normal" stroke="#222" stroke-width="0.15" transform="rotate(-45 387.42 171.50)">48 h post</text>
<text x="400.55" y="171.50" font-size="6.4" text-anchor="end" fill="#222" font-weight="normal" stroke="#222" stroke-width="0.15" transform="rotate(-45 400.55 171.50)">C1D8 pre dose</text>
<text x="413.68" y="171.50" font-size="6.4" text-anchor="end" fill="#222" font-weight="normal" stroke="#222" stroke-width="0.15" transform="rotate(-45 413.68 171.50)">C1D22 pre dose</text>
<text x="426.81" y="171.50" font-size="6.4" text-anchor="end" fill="#222" font-weight="normal" stroke="#222" stroke-width="0.15" transform="rotate(-45 426.81 171.50)">8 h post</text>
<text x="439.94" y="171.50" font-size="6.4" text-anchor="end" fill="#222" font-weight="normal" stroke="#222" stroke-width="0.15" transform="rotate(-45 439.94 171.50)">24 h post</text>
<text x="453.07" y="171.50" font-size="6.4" text-anchor="end" fill="#222" font-weight="normal" stroke="#222" stroke-width="0.15" transform="rotate(-45 453.07 171.50)">C1D29 pre dose</text>
<text x="466.20" y="171.50" font-size="6.4" text-anchor="end" fill="#222" font-weight="normal" stroke="#222" stroke-width="0.15" transform="rotate(-45 466.20 171.50)">C1D50 pre dose</text>
<text x="479.33" y="171.50" font-size="6.4" text-anchor="end" fill="#222" font-weight="normal" stroke="#222" stroke-width="0.15" transform="rotate(-45 479.33 171.50)">8 h post</text>
<text x="492.46" y="171.50" font-size="6.4" text-anchor="end" fill="#222" font-weight="normal" stroke="#222" stroke-width="0.15" transform="rotate(-45 492.46 171.50)">24 h post</text>
<text x="505.59" y="171.50" font-size="6.4" text-anchor="end" fill="#222" font-weight="normal" stroke="#222" stroke-width="0.15" transform="rotate(-45 505.59 171.50)">48 h post</text>
<text x="0" y="0" font-size="7.7" text-anchor="middle" fill="#222" stroke="#222" stroke-width="0.12" textLength="92.0" lengthAdjust="spacingAndGlyphs" transform="translate(301.6 88.4) rotate(-90)">Fold change from baseline</text>
<line x1="336.60" y1="16.80" x2="336.60" y2="164.50" stroke="#d94848" stroke-width="0.85" stroke-dasharray="4.6 2.9"/>
<text x="336.60" y="13.60" font-size="5.7" text-anchor="middle" fill="#c84848" font-weight="normal" >1st dose</text>
<line x1="414.90" y1="16.80" x2="414.90" y2="164.50" stroke="#d94848" stroke-width="0.85" stroke-dasharray="4.6 2.9"/>
<text x="414.90" y="13.60" font-size="5.7" text-anchor="middle" fill="#c84848" font-weight="normal" >4th dose</text>
<line x1="467.80" y1="16.80" x2="467.80" y2="164.50" stroke="#d94848" stroke-width="0.85" stroke-dasharray="4.6 2.9"/>
<text x="467.80" y="13.60" font-size="5.7" text-anchor="middle" fill="#c84848" font-weight="normal" >8th dose</text>
<polyline points="333.30,156.60 346.43,154.69 359.56,115.06 372.69,95.99 385.82,156.60 398.95,156.60 412.08,156.27 425.21,155.00 438.34,156.60 451.47,156.60 464.60,156.60 477.73,156.60 490.86,156.60 503.99,156.60" fill="none" stroke="#1a1a1a" stroke-width="1.0" stroke-linejoin="miter"/>
<circle cx="333.30" cy="156.60" r="0.9" fill="#1a1a1a"/>
<line x1="346.43" y1="154.69" x2="346.43" y2="152.42" stroke="#1a1a1a" stroke-width="0.6" opacity="0.7"/>
<line x1="345.53" y1="152.42" x2="347.33" y2="152.42" stroke="#1a1a1a" stroke-width="0.6" opacity="0.7"/>
<circle cx="346.43" cy="154.69" r="0.9" fill="#1a1a1a"/>
<line x1="359.56" y1="115.06" x2="359.56" y2="111.28" stroke="#1a1a1a" stroke-width="0.6" opacity="0.7"/>
<line x1="358.66" y1="111.28" x2="360.46" y2="111.28" stroke="#1a1a1a" stroke-width="0.6" opacity="0.7"/>
<circle cx="359.56" cy="115.06" r="0.9" fill="#1a1a1a"/>
<line x1="372.69" y1="95.99" x2="372.69" y2="92.22" stroke="#1a1a1a" stroke-width="0.6" opacity="0.7"/>
<line x1="371.79" y1="92.22" x2="373.59" y2="92.22" stroke="#1a1a1a" stroke-width="0.6" opacity="0.7"/>
<circle cx="372.69" cy="95.99" r="0.9" fill="#1a1a1a"/>
<circle cx="385.82" cy="156.60" r="0.9" fill="#1a1a1a"/>
<circle cx="398.95" cy="156.60" r="0.9" fill="#1a1a1a"/>
<circle cx="412.08" cy="156.27" r="0.9" fill="#1a1a1a"/>
<line x1="425.21" y1="155.00" x2="425.21" y2="153.49" stroke="#1a1a1a" stroke-width="0.6" opacity="0.7"/>
<line x1="424.31" y1="153.49" x2="426.11" y2="153.49" stroke="#1a1a1a" stroke-width="0.6" opacity="0.7"/>
<circle cx="425.21" cy="155.00" r="0.9" fill="#1a1a1a"/>
<circle cx="438.34" cy="156.60" r="0.9" fill="#1a1a1a"/>
<circle cx="451.47" cy="156.60" r="0.9" fill="#1a1a1a"/>
<circle cx="464.60" cy="156.60" r="0.9" fill="#1a1a1a"/>
<circle cx="477.73" cy="156.60" r="0.9" fill="#1a1a1a"/>
<circle cx="490.86" cy="156.60" r="0.9" fill="#1a1a1a"/>
<circle cx="503.99" cy="156.60" r="0.9" fill="#1a1a1a"/>
<polyline points="333.30,156.60 346.43,148.00 359.56,102.54 372.69,55.25 385.82,129.58 398.95,156.60 412.08,156.60 425.21,83.83 438.34,152.30 451.47,156.60 464.60,155.63 477.73,139.78 490.86,155.63 503.99,156.60" fill="none" stroke="#d9463a" stroke-width="1.0" stroke-linejoin="miter"/>
<circle cx="333.30" cy="156.60" r="0.9" fill="#d9463a"/>
<line x1="346.43" y1="148.00" x2="346.43" y2="144.22" stroke="#d9463a" stroke-width="0.6" opacity="0.7"/>
<line x1="345.53" y1="144.22" x2="347.33" y2="144.22" stroke="#d9463a" stroke-width="0.6" opacity="0.7"/>
<circle cx="346.43" cy="148.00" r="0.9" fill="#d9463a"/>
<line x1="359.56" y1="102.54" x2="359.56" y2="91.22" stroke="#d9463a" stroke-width="0.6" opacity="0.7"/>
<line x1="358.66" y1="91.22" x2="360.46" y2="91.22" stroke="#d9463a" stroke-width="0.6" opacity="0.7"/>
<circle cx="359.56" cy="102.54" r="0.9" fill="#d9463a"/>
<line x1="372.69" y1="55.25" x2="372.69" y2="42.87" stroke="#d9463a" stroke-width="0.6" opacity="0.7"/>
<line x1="371.79" y1="42.87" x2="373.59" y2="42.87" stroke="#d9463a" stroke-width="0.6" opacity="0.7"/>
<circle cx="372.69" cy="55.25" r="0.9" fill="#d9463a"/>
<line x1="385.82" y1="129.58" x2="385.82" y2="120.52" stroke="#d9463a" stroke-width="0.6" opacity="0.7"/>
<line x1="384.92" y1="120.52" x2="386.72" y2="120.52" stroke="#d9463a" stroke-width="0.6" opacity="0.7"/>
<circle cx="385.82" cy="129.58" r="0.9" fill="#d9463a"/>
<circle cx="398.95" cy="156.60" r="0.9" fill="#d9463a"/>
<circle cx="412.08" cy="156.60" r="0.9" fill="#d9463a"/>
<line x1="425.21" y1="83.83" x2="425.21" y2="74.77" stroke="#d9463a" stroke-width="0.6" opacity="0.7"/>
<line x1="424.31" y1="74.77" x2="426.11" y2="74.77" stroke="#d9463a" stroke-width="0.6" opacity="0.7"/>
<circle cx="425.21" cy="83.83" r="0.9" fill="#d9463a"/>
<line x1="438.34" y1="152.30" x2="438.34" y2="148.53" stroke="#d9463a" stroke-width="0.6" opacity="0.7"/>
<line x1="437.44" y1="148.53" x2="439.24" y2="148.53" stroke="#d9463a" stroke-width="0.6" opacity="0.7"/>
<circle cx="438.34" cy="152.30" r="0.9" fill="#d9463a"/>
<circle cx="451.47" cy="156.60" r="0.9" fill="#d9463a"/>
<line x1="464.60" y1="155.63" x2="464.60" y2="154.12" stroke="#d9463a" stroke-width="0.6" opacity="0.7"/>
<line x1="463.70" y1="154.12" x2="465.50" y2="154.12" stroke="#d9463a" stroke-width="0.6" opacity="0.7"/>
<circle cx="464.60" cy="155.63" r="0.9" fill="#d9463a"/>
<line x1="477.73" y1="139.78" x2="477.73" y2="132.23" stroke="#d9463a" stroke-width="0.6" opacity="0.7"/>
<line x1="476.83" y1="132.23" x2="478.63" y2="132.23" stroke="#d9463a" stroke-width="0.6" opacity="0.7"/>
<circle cx="477.73" cy="139.78" r="0.9" fill="#d9463a"/>
<circle cx="490.86" cy="155.63" r="0.9" fill="#d9463a"/>
<circle cx="503.99" cy="156.60" r="0.9" fill="#d9463a"/>
<polyline points="333.30,156.60 346.43,126.69 359.56,38.74 372.69,38.74 385.82,51.45 398.95,137.33 412.08,136.25 425.21,96.25 438.34,130.75 451.47,142.44 464.60,140.18 477.73,116.76 490.86,134.53 503.99,110.50" fill="none" stroke="#4caf50" stroke-width="1.0" stroke-linejoin="miter"/>
<circle cx="333.30" cy="156.60" r="0.9" fill="#4caf50"/>
<line x1="346.43" y1="126.69" x2="346.43" y2="117.63" stroke="#4caf50" stroke-width="0.6" opacity="0.7"/>
<line x1="345.53" y1="117.63" x2="347.33" y2="117.63" stroke="#4caf50" stroke-width="0.6" opacity="0.7"/>
<circle cx="346.43" cy="126.69" r="0.9" fill="#4caf50"/>
<line x1="359.56" y1="38.74" x2="359.56" y2="24.77" stroke="#4caf50" stroke-width="0.6" opacity="0.7"/>
<line x1="358.66" y1="24.77" x2="360.46" y2="24.77" stroke="#4caf50" stroke-width="0.6" opacity="0.7"/>
<circle cx="359.56" cy="38.74" r="0.9" fill="#4caf50"/>
<line x1="372.69" y1="38.74" x2="372.69" y2="31.19" stroke="#4caf50" stroke-width="0.6" opacity="0.7"/>
<line x1="371.79" y1="31.19" x2="373.59" y2="31.19" stroke="#4caf50" stroke-width="0.6" opacity="0.7"/>
<circle cx="372.69" cy="38.74" r="0.9" fill="#4caf50"/>
<line x1="385.82" y1="51.45" x2="385.82" y2="37.11" stroke="#4caf50" stroke-width="0.6" opacity="0.7"/>
<line x1="384.92" y1="37.11" x2="386.72" y2="37.11" stroke="#4caf50" stroke-width="0.6" opacity="0.7"/>
<circle cx="385.82" cy="51.45" r="0.9" fill="#4caf50"/>
<line x1="398.95" y1="137.33" x2="398.95" y2="133.55" stroke="#4caf50" stroke-width="0.6" opacity="0.7"/>
<line x1="398.05" y1="133.55" x2="399.85" y2="133.55" stroke="#4caf50" stroke-width="0.6" opacity="0.7"/>
<circle cx="398.95" cy="137.33" r="0.9" fill="#4caf50"/>
<line x1="412.08" y1="136.25" x2="412.08" y2="132.48" stroke="#4caf50" stroke-width="0.6" opacity="0.7"/>
<line x1="411.18" y1="132.48" x2="412.98" y2="132.48" stroke="#4caf50" stroke-width="0.6" opacity="0.7"/>
<circle cx="412.08" cy="136.25" r="0.9" fill="#4caf50"/>
<line x1="425.21" y1="96.25" x2="425.21" y2="87.19" stroke="#4caf50" stroke-width="0.6" opacity="0.7"/>
<line x1="424.31" y1="87.19" x2="426.11" y2="87.19" stroke="#4caf50" stroke-width="0.6" opacity="0.7"/>
<circle cx="425.21" cy="96.25" r="0.9" fill="#4caf50"/>
<line x1="438.34" y1="130.75" x2="438.34" y2="124.71" stroke="#4caf50" stroke-width="0.6" opacity="0.7"/>
<line x1="437.44" y1="124.71" x2="439.24" y2="124.71" stroke="#4caf50" stroke-width="0.6" opacity="0.7"/>
<circle cx="438.34" cy="130.75" r="0.9" fill="#4caf50"/>
<line x1="451.47" y1="142.44" x2="451.47" y2="139.42" stroke="#4caf50" stroke-width="0.6" opacity="0.7"/>
<line x1="450.57" y1="139.42" x2="452.37" y2="139.42" stroke="#4caf50" stroke-width="0.6" opacity="0.7"/>
<circle cx="451.47" cy="142.44" r="0.9" fill="#4caf50"/>
<line x1="464.60" y1="140.18" x2="464.60" y2="136.40" stroke="#4caf50" stroke-width="0.6" opacity="0.7"/>
<line x1="463.70" y1="136.40" x2="465.50" y2="136.40" stroke="#4caf50" stroke-width="0.6" opacity="0.7"/>
<circle cx="464.60" cy="140.18" r="0.9" fill="#4caf50"/>
<line x1="477.73" y1="116.76" x2="477.73" y2="103.93" stroke="#4caf50" stroke-width="0.6" opacity="0.7"/>
<line x1="476.83" y1="103.93" x2="478.63" y2="103.93" stroke="#4caf50" stroke-width="0.6" opacity="0.7"/>
<circle cx="477.73" cy="116.76" r="0.9" fill="#4caf50"/>
<line x1="490.86" y1="134.53" x2="490.86" y2="130.76" stroke="#4caf50" stroke-width="0.6" opacity="0.7"/>
<line x1="489.96" y1="130.76" x2="491.76" y2="130.76" stroke="#4caf50" stroke-width="0.6" opacity="0.7"/>
<circle cx="490.86" cy="134.53" r="0.9" fill="#4caf50"/>
<line x1="503.99" y1="110.50" x2="503.99" y2="93.89" stroke="#4caf50" stroke-width="0.6" opacity="0.7"/>
<line x1="503.09" y1="93.89" x2="504.89" y2="93.89" stroke="#4caf50" stroke-width="0.6" opacity="0.7"/>
<circle cx="503.99" cy="110.50" r="0.9" fill="#4caf50"/>
<polyline points="333.30,156.60 346.43,143.31 359.56,108.77 372.69,21.81 385.82,27.68 398.95,92.80 412.08,113.09 425.21,83.83 438.34,49.77 451.47,130.45 464.60,137.88 477.73,128.17 490.86,110.50 503.99,110.50" fill="none" stroke="#263f8f" stroke-width="1.0" stroke-linejoin="miter"/>
<circle cx="333.30" cy="156.60" r="0.9" fill="#263f8f"/>
<line x1="346.43" y1="143.31" x2="346.43" y2="139.53" stroke="#263f8f" stroke-width="0.6" opacity="0.7"/>
<line x1="345.53" y1="139.53" x2="347.33" y2="139.53" stroke="#263f8f" stroke-width="0.6" opacity="0.7"/>
<circle cx="346.43" cy="143.31" r="0.9" fill="#263f8f"/>
<line x1="359.56" y1="108.77" x2="359.56" y2="101.22" stroke="#263f8f" stroke-width="0.6" opacity="0.7"/>
<line x1="358.66" y1="101.22" x2="360.46" y2="101.22" stroke="#263f8f" stroke-width="0.6" opacity="0.7"/>
<circle cx="359.56" cy="108.77" r="0.9" fill="#263f8f"/>
<line x1="372.69" y1="21.81" x2="372.69" y2="13.50" stroke="#263f8f" stroke-width="0.6" opacity="0.7"/>
<line x1="371.79" y1="13.50" x2="373.59" y2="13.50" stroke="#263f8f" stroke-width="0.6" opacity="0.7"/>
<circle cx="372.69" cy="21.81" r="0.9" fill="#263f8f"/>
<line x1="385.82" y1="27.68" x2="385.82" y2="21.64" stroke="#263f8f" stroke-width="0.6" opacity="0.7"/>
<line x1="384.92" y1="21.64" x2="386.72" y2="21.64" stroke="#263f8f" stroke-width="0.6" opacity="0.7"/>
<circle cx="385.82" cy="27.68" r="0.9" fill="#263f8f"/>
<line x1="398.95" y1="92.80" x2="398.95" y2="84.87" stroke="#263f8f" stroke-width="0.6" opacity="0.7"/>
<line x1="398.05" y1="84.87" x2="399.85" y2="84.87" stroke="#263f8f" stroke-width="0.6" opacity="0.7"/>
<circle cx="398.95" cy="92.80" r="0.9" fill="#263f8f"/>
<line x1="412.08" y1="113.09" x2="412.08" y2="107.05" stroke="#263f8f" stroke-width="0.6" opacity="0.7"/>
<line x1="411.18" y1="107.05" x2="412.98" y2="107.05" stroke="#263f8f" stroke-width="0.6" opacity="0.7"/>
<circle cx="412.08" cy="113.09" r="0.9" fill="#263f8f"/>
<line x1="425.21" y1="83.83" x2="425.21" y2="72.51" stroke="#263f8f" stroke-width="0.6" opacity="0.7"/>
<line x1="424.31" y1="72.51" x2="426.11" y2="72.51" stroke="#263f8f" stroke-width="0.6" opacity="0.7"/>
<circle cx="425.21" cy="83.83" r="0.9" fill="#263f8f"/>
<line x1="438.34" y1="49.77" x2="438.34" y2="39.95" stroke="#263f8f" stroke-width="0.6" opacity="0.7"/>
<line x1="437.44" y1="39.95" x2="439.24" y2="39.95" stroke="#263f8f" stroke-width="0.6" opacity="0.7"/>
<circle cx="438.34" cy="49.77" r="0.9" fill="#263f8f"/>
<line x1="451.47" y1="130.45" x2="451.47" y2="127.43" stroke="#263f8f" stroke-width="0.6" opacity="0.7"/>
<line x1="450.57" y1="127.43" x2="452.37" y2="127.43" stroke="#263f8f" stroke-width="0.6" opacity="0.7"/>
<circle cx="451.47" cy="130.45" r="0.9" fill="#263f8f"/>
<line x1="464.60" y1="137.88" x2="464.60" y2="133.35" stroke="#263f8f" stroke-width="0.6" opacity="0.7"/>
<line x1="463.70" y1="133.35" x2="465.50" y2="133.35" stroke="#263f8f" stroke-width="0.6" opacity="0.7"/>
<circle cx="464.60" cy="137.88" r="0.9" fill="#263f8f"/>
<line x1="477.73" y1="128.17" x2="477.73" y2="120.62" stroke="#263f8f" stroke-width="0.6" opacity="0.7"/>
<line x1="476.83" y1="120.62" x2="478.63" y2="120.62" stroke="#263f8f" stroke-width="0.6" opacity="0.7"/>
<circle cx="477.73" cy="128.17" r="0.9" fill="#263f8f"/>
<line x1="490.86" y1="110.50" x2="490.86" y2="104.46" stroke="#263f8f" stroke-width="0.6" opacity="0.7"/>
<line x1="489.96" y1="104.46" x2="491.76" y2="104.46" stroke="#263f8f" stroke-width="0.6" opacity="0.7"/>
<circle cx="490.86" cy="110.50" r="0.9" fill="#263f8f"/>
<line x1="503.99" y1="110.50" x2="503.99" y2="95.40" stroke="#263f8f" stroke-width="0.6" opacity="0.7"/>
<line x1="503.09" y1="95.40" x2="504.89" y2="95.40" stroke="#263f8f" stroke-width="0.6" opacity="0.7"/>
<circle cx="503.99" cy="110.50" r="0.9" fill="#263f8f"/>
<polyline points="333.30,156.60 346.43,145.57 359.56,135.04 372.69,83.30 385.82,100.70 398.95,144.87 412.08,144.42 425.21,125.27 438.34,105.17 451.47,147.75 464.60,148.51 477.73,143.52 490.86,124.40 503.99,142.66" fill="none" stroke="#4b3a86" stroke-width="1.0" stroke-linejoin="miter"/>
<circle cx="333.30" cy="156.60" r="0.9" fill="#4b3a86"/>
<line x1="346.43" y1="145.57" x2="346.43" y2="141.79" stroke="#4b3a86" stroke-width="0.6" opacity="0.7"/>
<line x1="345.53" y1="141.79" x2="347.33" y2="141.79" stroke="#4b3a86" stroke-width="0.6" opacity="0.7"/>
<circle cx="346.43" cy="145.57" r="0.9" fill="#4b3a86"/>
<line x1="359.56" y1="135.04" x2="359.56" y2="130.51" stroke="#4b3a86" stroke-width="0.6" opacity="0.7"/>
<line x1="358.66" y1="130.51" x2="360.46" y2="130.51" stroke="#4b3a86" stroke-width="0.6" opacity="0.7"/>
<circle cx="359.56" cy="135.04" r="0.9" fill="#4b3a86"/>
<line x1="372.69" y1="83.30" x2="372.69" y2="75.38" stroke="#4b3a86" stroke-width="0.6" opacity="0.7"/>
<line x1="371.79" y1="75.38" x2="373.59" y2="75.38" stroke="#4b3a86" stroke-width="0.6" opacity="0.7"/>
<circle cx="372.69" cy="83.30" r="0.9" fill="#4b3a86"/>
<line x1="385.82" y1="100.70" x2="385.82" y2="96.17" stroke="#4b3a86" stroke-width="0.6" opacity="0.7"/>
<line x1="384.92" y1="96.17" x2="386.72" y2="96.17" stroke="#4b3a86" stroke-width="0.6" opacity="0.7"/>
<circle cx="385.82" cy="100.70" r="0.9" fill="#4b3a86"/>
<line x1="398.95" y1="144.87" x2="398.95" y2="142.61" stroke="#4b3a86" stroke-width="0.6" opacity="0.7"/>
<line x1="398.05" y1="142.61" x2="399.85" y2="142.61" stroke="#4b3a86" stroke-width="0.6" opacity="0.7"/>
<circle cx="398.95" cy="144.87" r="0.9" fill="#4b3a86"/>
<line x1="412.08" y1="144.42" x2="412.08" y2="142.15" stroke="#4b3a86" stroke-width="0.6" opacity="0.7"/>
<line x1="411.18" y1="142.15" x2="412.98" y2="142.15" stroke="#4b3a86" stroke-width="0.6" opacity="0.7"/>
<circle cx="412.08" cy="144.42" r="0.9" fill="#4b3a86"/>
<line x1="425.21" y1="125.27" x2="425.21" y2="119.23" stroke="#4b3a86" stroke-width="0.6" opacity="0.7"/>
<line x1="424.31" y1="119.23" x2="426.11" y2="119.23" stroke="#4b3a86" stroke-width="0.6" opacity="0.7"/>
<circle cx="425.21" cy="125.27" r="0.9" fill="#4b3a86"/>
<line x1="438.34" y1="105.17" x2="438.34" y2="100.64" stroke="#4b3a86" stroke-width="0.6" opacity="0.7"/>
<line x1="437.44" y1="100.64" x2="439.24" y2="100.64" stroke="#4b3a86" stroke-width="0.6" opacity="0.7"/>
<circle cx="438.34" cy="105.17" r="0.9" fill="#4b3a86"/>
<line x1="451.47" y1="147.75" x2="451.47" y2="145.48" stroke="#4b3a86" stroke-width="0.6" opacity="0.7"/>
<line x1="450.57" y1="145.48" x2="452.37" y2="145.48" stroke="#4b3a86" stroke-width="0.6" opacity="0.7"/>
<circle cx="451.47" cy="147.75" r="0.9" fill="#4b3a86"/>
<line x1="464.60" y1="148.51" x2="464.60" y2="146.24" stroke="#4b3a86" stroke-width="0.6" opacity="0.7"/>
<line x1="463.70" y1="146.24" x2="465.50" y2="146.24" stroke="#4b3a86" stroke-width="0.6" opacity="0.7"/>
<circle cx="464.60" cy="148.51" r="0.9" fill="#4b3a86"/>
<line x1="477.73" y1="143.52" x2="477.73" y2="139.75" stroke="#4b3a86" stroke-width="0.6" opacity="0.7"/>
<line x1="476.83" y1="139.75" x2="478.63" y2="139.75" stroke="#4b3a86" stroke-width="0.6" opacity="0.7"/>
<circle cx="477.73" cy="143.52" r="0.9" fill="#4b3a86"/>
<line x1="490.86" y1="124.40" x2="490.86" y2="117.98" stroke="#4b3a86" stroke-width="0.6" opacity="0.7"/>
<line x1="489.96" y1="117.98" x2="491.76" y2="117.98" stroke="#4b3a86" stroke-width="0.6" opacity="0.7"/>
<circle cx="490.86" cy="124.40" r="0.9" fill="#4b3a86"/>
<line x1="503.99" y1="142.66" x2="503.99" y2="138.35" stroke="#4b3a86" stroke-width="0.6" opacity="0.7"/>
<line x1="503.09" y1="138.35" x2="504.89" y2="138.35" stroke="#4b3a86" stroke-width="0.6" opacity="0.7"/>
<circle cx="503.99" cy="142.66" r="0.9" fill="#4b3a86"/>
<circle cx="492.5" cy="18.9" r="2.2" fill="#111111"/>
<text x="496.60" y="21.00" font-size="6.0" text-anchor="start" fill="#111" font-weight="normal" stroke="#111" stroke-width="0.12">IFN&#947;</text>
<circle cx="492.5" cy="26.2" r="2.2" fill="#cc4b45"/>
<text x="496.60" y="28.30" font-size="6.0" text-anchor="start" fill="#111" font-weight="normal" stroke="#111" stroke-width="0.12">IL10</text>
<circle cx="492.5" cy="34.0" r="2.2" fill="#3fa34d"/>
<text x="496.60" y="36.10" font-size="6.0" text-anchor="start" fill="#111" font-weight="normal" stroke="#111" stroke-width="0.12">IL6</text>
<circle cx="492.5" cy="41.3" r="2.2" fill="#2b4a8a"/>
<text x="496.60" y="43.40" font-size="6.0" text-anchor="start" fill="#111" font-weight="normal" stroke="#111" stroke-width="0.12">CXCL10</text>
<circle cx="492.5" cy="48.8" r="2.2" fill="#4c3e80"/>
<text x="496.60" y="50.90" font-size="6.0" text-anchor="start" fill="#111" font-weight="normal" stroke="#111" stroke-width="0.12">CXCL11</text>
<text x="8.30" y="224.00" font-size="12.2" text-anchor="start" fill="#000" font-weight="bold" stroke="#000" stroke-width="0.25">C</text>
<g filter="url(#blur1)">
<rect x="40.10" y="241.60" width="7.83" height="8.80" fill="#d6c9e2"/>
<rect x="46.73" y="241.60" width="7.83" height="8.80" fill="#f4eef2"/>
<rect x="53.36" y="241.60" width="7.83" height="8.80" fill="#8d78bf"/>
<rect x="59.99" y="241.60" width="7.83" height="8.80" fill="#8d78bf"/>
<rect x="66.62" y="241.60" width="7.83" height="8.80" fill="#8d78bf"/>
<rect x="73.25" y="241.60" width="7.83" height="8.80" fill="#b4a2d2"/>
<rect x="79.88" y="241.60" width="7.83" height="8.80" fill="#b4a2d2"/>
<rect x="86.51" y="241.60" width="7.83" height="8.80" fill="#b4a2d2"/>
<rect x="93.14" y="241.60" width="7.83" height="8.80" fill="#d6c9e2"/>
<rect x="99.77" y="241.60" width="7.83" height="8.80" fill="#d6c9e2"/>
<rect x="106.40" y="241.60" width="7.83" height="8.80" fill="#d6c9e2"/>
<rect x="113.03" y="241.60" width="7.83" height="8.80" fill="#f2dcd6"/>
<rect x="119.66" y="241.60" width="7.83" height="8.80" fill="#f4eef2"/>
<rect x="126.29" y="241.60" width="7.83" height="8.80" fill="#d6c9e2"/>
<rect x="132.92" y="241.60" width="7.83" height="8.80" fill="#b4a2d2"/>
<rect x="139.55" y="241.60" width="7.83" height="8.80" fill="#d6c9e2"/>
<rect x="146.18" y="241.60" width="7.83" height="8.80" fill="#f4eef2"/>
<rect x="152.81" y="241.60" width="7.83" height="8.80" fill="#d6c9e2"/>
<rect x="159.44" y="241.60" width="7.83" height="8.80" fill="#352c96"/>
<rect x="166.07" y="241.60" width="7.83" height="8.80" fill="#b4a2d2"/>
<rect x="172.70" y="241.60" width="6.63" height="8.80" fill="#5a4aa8"/>
<rect x="40.10" y="249.20" width="7.83" height="7.60" fill="#8d78bf"/>
<rect x="46.73" y="249.20" width="7.83" height="7.60" fill="#b4a2d2"/>
<rect x="53.36" y="249.20" width="7.83" height="7.60" fill="#d6c9e2"/>
<rect x="59.99" y="249.20" width="7.83" height="7.60" fill="#8d78bf"/>
<rect x="66.62" y="249.20" width="7.83" height="7.60" fill="#d6c9e2"/>
<rect x="73.25" y="249.20" width="7.83" height="7.60" fill="#b4a2d2"/>
<rect x="79.88" y="249.20" width="7.83" height="7.60" fill="#b4a2d2"/>
<rect x="86.51" y="249.20" width="7.83" height="7.60" fill="#b4a2d2"/>
<rect x="93.14" y="249.20" width="7.83" height="7.60" fill="#d6c9e2"/>
<rect x="99.77" y="249.20" width="7.83" height="7.60" fill="#d6c9e2"/>
<rect x="106.40" y="249.20" width="7.83" height="7.60" fill="#f4eef2"/>
<rect x="113.03" y="249.20" width="7.83" height="7.60" fill="#d6c9e2"/>
<rect x="119.66" y="249.20" width="7.83" height="7.60" fill="#d6c9e2"/>
<rect x="126.29" y="249.20" width="7.83" height="7.60" fill="#8d78bf"/>
<rect x="132.92" y="249.20" width="7.83" height="7.60" fill="#8d78bf"/>
<rect x="139.55" y="249.20" width="7.83" height="7.60" fill="#d6c9e2"/>
<rect x="146.18" y="249.20" width="7.83" height="7.60" fill="#b4a2d2"/>
<rect x="152.81" y="249.20" width="7.83" height="7.60" fill="#8d78bf"/>
<rect x="159.44" y="249.20" width="7.83" height="7.60" fill="#8d78bf"/>
<rect x="166.07" y="249.20" width="7.83" height="7.60" fill="#b4a2d2"/>
<rect x="172.70" y="249.20" width="6.63" height="7.60" fill="#f4eef2"/>
<rect x="40.10" y="257.80" width="7.83" height="8.80" fill="#d6c9e2"/>
<rect x="46.73" y="257.80" width="7.83" height="8.80" fill="#d6c9e2"/>
<rect x="53.36" y="257.80" width="7.83" height="8.80" fill="#f4eef2"/>
<rect x="59.99" y="257.80" width="7.83" height="8.80" fill="#d6c9e2"/>
<rect x="66.62" y="257.80" width="7.83" height="8.80" fill="#b4a2d2"/>
<rect x="73.25" y="257.80" width="7.83" height="8.80" fill="#d6c9e2"/>
<rect x="79.88" y="257.80" width="7.83" height="8.80" fill="#b4a2d2"/>
<rect x="86.51" y="257.80" width="7.83" height="8.80" fill="#d6c9e2"/>
<rect x="93.14" y="257.80" width="7.83" height="8.80" fill="#f2dcd6"/>
<rect x="99.77" y="257.80" width="7.83" height="8.80" fill="#b4a2d2"/>
<rect x="106.40" y="257.80" width="7.83" height="8.80" fill="#f4eef2"/>
<rect x="113.03" y="257.80" width="7.83" height="8.80" fill="#f2dcd6"/>
<rect x="119.66" y="257.80" width="7.83" height="8.80" fill="#e8231c"/>
<rect x="126.29" y="257.80" width="7.83" height="8.80" fill="#b4a2d2"/>
<rect x="132.92" y="257.80" width="7.83" height="8.80" fill="#352c96"/>
<rect x="139.55" y="257.80" width="7.83" height="8.80" fill="#5a4aa8"/>
<rect x="146.18" y="257.80" width="7.83" height="8.80" fill="#d6c9e2"/>
<rect x="152.81" y="257.80" width="7.83" height="8.80" fill="#b4a2d2"/>
<rect x="159.44" y="257.80" width="7.83" height="8.80" fill="#b4a2d2"/>
<rect x="166.07" y="257.80" width="7.83" height="8.80" fill="#b4a2d2"/>
<rect x="172.70" y="257.80" width="6.63" height="8.80" fill="#ea5a3e"/>
<rect x="40.10" y="265.40" width="7.83" height="8.80" fill="#d6c9e2"/>
<rect x="46.73" y="265.40" width="7.83" height="8.80" fill="#d6c9e2"/>
<rect x="53.36" y="265.40" width="7.83" height="8.80" fill="#8d78bf"/>
<rect x="59.99" y="265.40" width="7.83" height="8.80" fill="#8d78bf"/>
<rect x="66.62" y="265.40" width="7.83" height="8.80" fill="#8d78bf"/>
<rect x="73.25" y="265.40" width="7.83" height="8.80" fill="#5a4aa8"/>
<rect x="79.88" y="265.40" width="7.83" height="8.80" fill="#e8231c"/>
<rect x="86.51" y="265.40" width="7.83" height="8.80" fill="#d6c9e2"/>
<rect x="93.14" y="265.40" width="7.83" height="8.80" fill="#f4eef2"/>
<rect x="99.77" y="265.40" width="7.83" height="8.80" fill="#efc2b0"/>
<rect x="106.40" y="265.40" width="7.83" height="8.80" fill="#efc2b0"/>
<rect x="113.03" y="265.40" width="7.83" height="8.80" fill="#d6c9e2"/>
<rect x="119.66" y="265.40" width="7.83" height="8.80" fill="#b4a2d2"/>
<rect x="126.29" y="265.40" width="7.83" height="8.80" fill="#b4a2d2"/>
<rect x="132.92" y="265.40" width="7.83" height="8.80" fill="#f4eef2"/>
<rect x="139.55" y="265.40" width="7.83" height="8.80" fill="#f4eef2"/>
<rect x="146.18" y="265.40" width="7.83" height="8.80" fill="#d6c9e2"/>
<rect x="152.81" y="265.40" width="7.83" height="8.80" fill="#f4eef2"/>
<rect x="159.44" y="265.40" width="7.83" height="8.80" fill="#352c96"/>
<rect x="166.07" y="265.40" width="7.83" height="8.80" fill="#352c96"/>
<rect x="172.70" y="265.40" width="6.63" height="8.80" fill="#b4a2d2"/>
<rect x="40.10" y="273.00" width="7.83" height="8.80" fill="#d6c9e2"/>
<rect x="46.73" y="273.00" width="7.83" height="8.80" fill="#f4eef2"/>
<rect x="53.36" y="273.00" width="7.83" height="8.80" fill="#8d78bf"/>
<rect x="59.99" y="273.00" width="7.83" height="8.80" fill="#8d78bf"/>
<rect x="66.62" y="273.00" width="7.83" height="8.80" fill="#b4a2d2"/>
<rect x="73.25" y="273.00" width="7.83" height="8.80" fill="#d6c9e2"/>
<rect x="79.88" y="273.00" width="7.83" height="8.80" fill="#b4a2d2"/>
<rect x="86.51" y="273.00" width="7.83" height="8.80" fill="#d6c9e2"/>
<rect x="93.14" y="273.00" width="7.83" height="8.80" fill="#d6c9e2"/>
<rect x="99.77" y="273.00" width="7.83" height="8.80" fill="#d6c9e2"/>
<rect x="106.40" y="273.00" width="7.83" height="8.80" fill="#d6c9e2"/>
<rect x="113.03" y="273.00" width="7.83" height="8.80" fill="#f4eef2"/>
<rect x="119.66" y="273.00" width="7.83" height="8.80" fill="#f2dcd6"/>
<rect x="126.29" y="273.00" width="7.83" height="8.80" fill="#d6c9e2"/>
<rect x="132.92" y="273.00" width="7.83" height="8.80" fill="#d6c9e2"/>
<rect x="139.55" y="273.00" width="7.83" height="8.80" fill="#b4a2d2"/>
<rect x="146.18" y="273.00" width="7.83" height="8.80" fill="#f4eef2"/>
<rect x="152.81" y="273.00" width="7.83" height="8.80" fill="#f4eef2"/>
<rect x="159.44" y="273.00" width="7.83" height="8.80" fill="#352c96"/>
<rect x="166.07" y="273.00" width="7.83" height="8.80" fill="#d6c9e2"/>
<rect x="172.70" y="273.00" width="6.63" height="8.80" fill="#8d78bf"/>
<rect x="40.10" y="280.60" width="7.83" height="7.60" fill="#ec8a6e"/>
<rect x="46.73" y="280.60" width="7.83" height="7.60" fill="#8d78bf"/>
<rect x="53.36" y="280.60" width="7.83" height="7.60" fill="#d6c9e2"/>
<rect x="59.99" y="280.60" width="7.83" height="7.60" fill="#8d78bf"/>
<rect x="66.62" y="280.60" width="7.83" height="7.60" fill="#d6c9e2"/>
<rect x="73.25" y="280.60" width="7.83" height="7.60" fill="#efc2b0"/>
<rect x="79.88" y="280.60" width="7.83" height="7.60" fill="#352c96"/>
<rect x="86.51" y="280.60" width="7.83" height="7.60" fill="#b4a2d2"/>
<rect x="93.14" y="280.60" width="7.83" height="7.60" fill="#b4a2d2"/>
<rect x="99.77" y="280.60" width="7.83" height="7.60" fill="#f2dcd6"/>
<rect x="106.40" y="280.60" width="7.83" height="7.60" fill="#b4a2d2"/>
<rect x="113.03" y="280.60" width="7.83" height="7.60" fill="#f2dcd6"/>
<rect x="119.66" y="280.60" width="7.83" height="7.60" fill="#d6c9e2"/>
<rect x="126.29" y="280.60" width="7.83" height="7.60" fill="#8d78bf"/>
<rect x="132.92" y="280.60" width="7.83" height="7.60" fill="#f2dcd6"/>
<rect x="139.55" y="280.60" width="7.83" height="7.60" fill="#d6c9e2"/>
<rect x="146.18" y="280.60" width="7.83" height="7.60" fill="#efc2b0"/>
<rect x="152.81" y="280.60" width="7.83" height="7.60" fill="#f4eef2"/>
<rect x="159.44" y="280.60" width="7.83" height="7.60" fill="#8d78bf"/>
<rect x="166.07" y="280.60" width="7.83" height="7.60" fill="#352c96"/>
<rect x="172.70" y="280.60" width="6.63" height="7.60" fill="#352c96"/>
<rect x="40.10" y="289.20" width="7.83" height="8.80" fill="#f4eef2"/>
<rect x="46.73" y="289.20" width="7.83" height="8.80" fill="#f4eef2"/>
<rect x="53.36" y="289.20" width="7.83" height="8.80" fill="#d6c9e2"/>
<rect x="59.99" y="289.20" width="7.83" height="8.80" fill="#b4a2d2"/>
<rect x="66.62" y="289.20" width="7.83" height="8.80" fill="#f2dcd6"/>
<rect x="73.25" y="289.20" width="7.83" height="8.80" fill="#d6c9e2"/>
<rect x="79.88" y="289.20" width="7.83" height="8.80" fill="#d6c9e2"/>
<rect x="86.51" y="289.20" width="7.83" height="8.80" fill="#d6c9e2"/>
<rect x="93.14" y="289.20" width="7.83" height="8.80" fill="#f4eef2"/>
<rect x="99.77" y="289.20" width="7.83" height="8.80" fill="#f4eef2"/>
<rect x="106.40" y="289.20" width="7.83" height="8.80" fill="#d6c9e2"/>
<rect x="113.03" y="289.20" width="7.83" height="8.80" fill="#f2dcd6"/>
<rect x="119.66" y="289.20" width="7.83" height="8.80" fill="#f4eef2"/>
<rect x="126.29" y="289.20" width="7.83" height="8.80" fill="#f4eef2"/>
<rect x="132.92" y="289.20" width="7.83" height="8.80" fill="#f2dcd6"/>
<rect x="139.55" y="289.20" width="7.83" height="8.80" fill="#f2dcd6"/>
<rect x="146.18" y="289.20" width="7.83" height="8.80" fill="#f2dcd6"/>
<rect x="152.81" y="289.20" width="7.83" height="8.80" fill="#f2dcd6"/>
<rect x="159.44" y="289.20" width="7.83" height="8.80" fill="#f4eef2"/>
<rect x="166.07" y="289.20" width="7.83" height="8.80" fill="#b4a2d2"/>
<rect x="172.70" y="289.20" width="6.63" height="8.80" fill="#f4eef2"/>
<rect x="40.10" y="296.80" width="7.83" height="8.80" fill="#d6c9e2"/>
<rect x="46.73" y="296.80" width="7.83" height="8.80" fill="#d6c9e2"/>
<rect x="53.36" y="296.80" width="7.83" height="8.80" fill="#d6c9e2"/>
<rect x="59.99" y="296.80" width="7.83" height="8.80" fill="#b4a2d2"/>
<rect x="66.62" y="296.80" width="7.83" height="8.80" fill="#f2dcd6"/>
<rect x="73.25" y="296.80" width="7.83" height="8.80" fill="#f2dcd6"/>
<rect x="79.88" y="296.80" width="7.83" height="8.80" fill="#b4a2d2"/>
<rect x="86.51" y="296.80" width="7.83" height="8.80" fill="#f4eef2"/>
<rect x="93.14" y="296.80" width="7.83" height="8.80" fill="#d6c9e2"/>
<rect x="99.77" y="296.80" width="7.83" height="8.80" fill="#f4eef2"/>
<rect x="106.40" y="296.80" width="7.83" height="8.80" fill="#b4a2d2"/>
<rect x="113.03" y="296.80" width="7.83" height="8.80" fill="#f2dcd6"/>
<rect x="119.66" y="296.80" width="7.83" height="8.80" fill="#f4eef2"/>
<rect x="126.29" y="296.80" width="7.83" height="8.80" fill="#b4a2d2"/>
<rect x="132.92" y="296.80" width="7.83" height="8.80" fill="#b4a2d2"/>
<rect x="139.55" y="296.80" width="7.83" height="8.80" fill="#f4eef2"/>
<rect x="146.18" y="296.80" width="7.83" height="8.80" fill="#b4a2d2"/>
<rect x="152.81" y="296.80" width="7.83" height="8.80" fill="#b4a2d2"/>
<rect x="159.44" y="296.80" width="7.83" height="8.80" fill="#b4a2d2"/>
<rect x="166.07" y="296.80" width="7.83" height="8.80" fill="#8d78bf"/>
<rect x="172.70" y="296.80" width="6.63" height="8.80" fill="#e8231c"/>
<rect x="40.10" y="304.40" width="7.83" height="8.80" fill="#d6c9e2"/>
<rect x="46.73" y="304.40" width="7.83" height="8.80" fill="#d6c9e2"/>
<rect x="53.36" y="304.40" width="7.83" height="8.80" fill="#b4a2d2"/>
<rect x="59.99" y="304.40" width="7.83" height="8.80" fill="#d6c9e2"/>
<rect x="66.62" y="304.40" width="7.83" height="8.80" fill="#b4a2d2"/>
<rect x="73.25" y="304.40" width="7.83" height="8.80" fill="#d6c9e2"/>
<rect x="79.88" y="304.40" width="7.83" height="8.80" fill="#8d78bf"/>
<rect x="86.51" y="304.40" width="7.83" height="8.80" fill="#8d78bf"/>
<rect x="93.14" y="304.40" width="7.83" height="8.80" fill="#f4eef2"/>
<rect x="99.77" y="304.40" width="7.83" height="8.80" fill="#f4eef2"/>
<rect x="106.40" y="304.40" width="7.83" height="8.80" fill="#f4eef2"/>
<rect x="113.03" y="304.40" width="7.83" height="8.80" fill="#f4eef2"/>
<rect x="119.66" y="304.40" width="7.83" height="8.80" fill="#d6c9e2"/>
<rect x="126.29" y="304.40" width="7.83" height="8.80" fill="#b4a2d2"/>
<rect x="132.92" y="304.40" width="7.83" height="8.80" fill="#b4a2d2"/>
<rect x="139.55" y="304.40" width="7.83" height="8.80" fill="#d6c9e2"/>
<rect x="146.18" y="304.40" width="7.83" height="8.80" fill="#f2dcd6"/>
<rect x="152.81" y="304.40" width="7.83" height="8.80" fill="#d6c9e2"/>
<rect x="159.44" y="304.40" width="7.83" height="8.80" fill="#8d78bf"/>
<rect x="166.07" y="304.40" width="7.83" height="8.80" fill="#352c96"/>
<rect x="172.70" y="304.40" width="6.63" height="8.80" fill="#b4a2d2"/>
<rect x="40.10" y="312.00" width="7.83" height="8.80" fill="#8d78bf"/>
<rect x="46.73" y="312.00" width="7.83" height="8.80" fill="#b4a2d2"/>
<rect x="53.36" y="312.00" width="7.83" height="8.80" fill="#b4a2d2"/>
<rect x="59.99" y="312.00" width="7.83" height="8.80" fill="#8d78bf"/>
<rect x="66.62" y="312.00" width="7.83" height="8.80" fill="#d6c9e2"/>
<rect x="73.25" y="312.00" width="7.83" height="8.80" fill="#d6c9e2"/>
<rect x="79.88" y="312.00" width="7.83" height="8.80" fill="#b4a2d2"/>
<rect x="86.51" y="312.00" width="7.83" height="8.80" fill="#b4a2d2"/>
<rect x="93.14" y="312.00" width="7.83" height="8.80" fill="#f4eef2"/>
<rect x="99.77" y="312.00" width="7.83" height="8.80" fill="#d6c9e2"/>
<rect x="106.40" y="312.00" width="7.83" height="8.80" fill="#f4eef2"/>
<rect x="113.03" y="312.00" width="7.83" height="8.80" fill="#d6c9e2"/>
<rect x="119.66" y="312.00" width="7.83" height="8.80" fill="#d6c9e2"/>
<rect x="126.29" y="312.00" width="7.83" height="8.80" fill="#8d78bf"/>
<rect x="132.92" y="312.00" width="7.83" height="8.80" fill="#b4a2d2"/>
<rect x="139.55" y="312.00" width="7.83" height="8.80" fill="#b4a2d2"/>
<rect x="146.18" y="312.00" width="7.83" height="8.80" fill="#8d78bf"/>
<rect x="152.81" y="312.00" width="7.83" height="8.80" fill="#8d78bf"/>
<rect x="159.44" y="312.00" width="7.83" height="8.80" fill="#5a4aa8"/>
<rect x="166.07" y="312.00" width="7.83" height="8.80" fill="#b4a2d2"/>
<rect x="172.70" y="312.00" width="6.63" height="8.80" fill="#f4eef2"/>
<rect x="40.10" y="319.60" width="7.83" height="7.60" fill="#5a4aa8"/>
<rect x="46.73" y="319.60" width="7.83" height="7.60" fill="#8d78bf"/>
<rect x="53.36" y="319.60" width="7.83" height="7.60" fill="#d6c9e2"/>
<rect x="59.99" y="319.60" width="7.83" height="7.60" fill="#352c96"/>
<rect x="66.62" y="319.60" width="7.83" height="7.60" fill="#d6c9e2"/>
<rect x="73.25" y="319.60" width="7.83" height="7.60" fill="#b4a2d2"/>
<rect x="79.88" y="319.60" width="7.83" height="7.60" fill="#d6c9e2"/>
<rect x="86.51" y="319.60" width="7.83" height="7.60" fill="#d6c9e2"/>
<rect x="93.14" y="319.60" width="7.83" height="7.60" fill="#b4a2d2"/>
<rect x="99.77" y="319.60" width="7.83" height="7.60" fill="#f4eef2"/>
<rect x="106.40" y="319.60" width="7.83" height="7.60" fill="#d6c9e2"/>
<rect x="113.03" y="319.60" width="7.83" height="7.60" fill="#b4a2d2"/>
<rect x="119.66" y="319.60" width="7.83" height="7.60" fill="#d6c9e2"/>
<rect x="126.29" y="319.60" width="7.83" height="7.60" fill="#5a4aa8"/>
<rect x="132.92" y="319.60" width="7.83" height="7.60" fill="#8d78bf"/>
<rect x="139.55" y="319.60" width="7.83" height="7.60" fill="#d6c9e2"/>
<rect x="146.18" y="319.60" width="7.83" height="7.60" fill="#8d78bf"/>
<rect x="152.81" y="319.60" width="7.83" height="7.60" fill="#5a4aa8"/>
<rect x="159.44" y="319.60" width="7.83" height="7.60" fill="#352c96"/>
<rect x="166.07" y="319.60" width="7.83" height="7.60" fill="#5a4aa8"/>
<rect x="172.70" y="319.60" width="6.63" height="7.60" fill="#b4a2d2"/>
</g>
<text x="182.00" y="247.60" font-size="6.2" text-anchor="start" fill="#222" font-weight="normal" >CD4 CXCR3<tspan font-size="5.2" dy="-2.6">+</tspan></text>
<text x="182.00" y="255.20" font-size="6.2" text-anchor="start" fill="#222" font-weight="normal" >CD8 CXCR3<tspan font-size="5.2" dy="-2.6">+</tspan></text>
<text x="182.00" y="263.80" font-size="6.2" text-anchor="start" fill="#222" font-weight="normal" >CD4 EM CXCR3<tspan font-size="5.2" dy="-2.6">+</tspan></text>
<text x="182.00" y="271.40" font-size="6.2" text-anchor="start" fill="#222" font-weight="normal" >CD4 Tscm CXCR3<tspan font-size="5.2" dy="-2.6">+</tspan></text>
<text x="182.00" y="279.00" font-size="6.2" text-anchor="start" fill="#222" font-weight="normal" >CD4 CM CXCR3<tspan font-size="5.2" dy="-2.6">+</tspan></text>
<text x="182.00" y="286.60" font-size="6.2" text-anchor="start" fill="#222" font-weight="normal" >CD4 N CXCR3<tspan font-size="5.2" dy="-2.6">+</tspan></text>
<text x="182.00" y="295.20" font-size="6.2" text-anchor="start" fill="#222" font-weight="normal" >CD8 CM CXCR3<tspan font-size="5.2" dy="-2.6">+</tspan></text>
<text x="182.00" y="302.80" font-size="6.2" text-anchor="start" fill="#222" font-weight="normal" >CD8 N CXCR3<tspan font-size="5.2" dy="-2.6">+</tspan></text>
<text x="182.00" y="310.40" font-size="6.2" text-anchor="start" fill="#222" font-weight="normal" >CD8 Tscm CXCR3<tspan font-size="5.2" dy="-2.6">+</tspan></text>
<text x="182.00" y="318.00" font-size="6.2" text-anchor="start" fill="#222" font-weight="normal" >CD8 EM CXCR3<tspan font-size="5.2" dy="-2.6">+</tspan></text>
<text x="182.00" y="325.60" font-size="6.2" text-anchor="start" fill="#222" font-weight="normal" >CD8 LD CXCR3<tspan font-size="5.2" dy="-2.6">+</tspan></text>
<line x1="33.50" y1="245.40" x2="39.80" y2="245.40" stroke="#555" stroke-width="0.5" />
<line x1="33.50" y1="253.00" x2="39.80" y2="253.00" stroke="#555" stroke-width="0.5" />
<line x1="33.50" y1="245.40" x2="33.50" y2="253.00" stroke="#555" stroke-width="0.5" />
<line x1="35.10" y1="261.60" x2="39.80" y2="261.60" stroke="#555" stroke-width="0.5" />
<line x1="35.10" y1="269.20" x2="39.80" y2="269.20" stroke="#555" stroke-width="0.5" />
<line x1="35.10" y1="261.60" x2="35.10" y2="269.20" stroke="#555" stroke-width="0.5" />
<line x1="30.40" y1="265.40" x2="35.10" y2="265.40" stroke="#555" stroke-width="0.5" />
<line x1="30.40" y1="276.80" x2="39.80" y2="276.80" stroke="#555" stroke-width="0.5" />
<line x1="30.40" y1="265.40" x2="30.40" y2="276.80" stroke="#555" stroke-width="0.5" />
<line x1="25.70" y1="271.10" x2="30.40" y2="271.10" stroke="#555" stroke-width="0.5" />
<line x1="25.70" y1="284.40" x2="39.80" y2="284.40" stroke="#555" stroke-width="0.5" />
<line x1="25.70" y1="271.10" x2="25.70" y2="284.40" stroke="#555" stroke-width="0.5" />
<line x1="36.37" y1="293.00" x2="39.80" y2="293.00" stroke="#555" stroke-width="0.5" />
<line x1="36.37" y1="300.60" x2="39.80" y2="300.60" stroke="#555" stroke-width="0.5" />
<line x1="36.37" y1="293.00" x2="36.37" y2="300.60" stroke="#555" stroke-width="0.5" />
<line x1="36.37" y1="308.20" x2="39.80" y2="308.20" stroke="#555" stroke-width="0.5" />
<line x1="36.37" y1="315.80" x2="39.80" y2="315.80" stroke="#555" stroke-width="0.5" />
<line x1="36.37" y1="308.20" x2="36.37" y2="315.80" stroke="#555" stroke-width="0.5" />
<line x1="32.93" y1="312.00" x2="36.37" y2="312.00" stroke="#555" stroke-width="0.5" />
<line x1="32.93" y1="323.40" x2="39.80" y2="323.40" stroke="#555" stroke-width="0.5" />
<line x1="32.93" y1="312.00" x2="32.93" y2="323.40" stroke="#555" stroke-width="0.5" />
<line x1="29.50" y1="296.80" x2="36.37" y2="296.80" stroke="#555" stroke-width="0.5" />
<line x1="29.50" y1="317.70" x2="32.93" y2="317.70" stroke="#555" stroke-width="0.5" />
<line x1="29.50" y1="296.80" x2="29.50" y2="317.70" stroke="#555" stroke-width="0.5" />
<text x="0" y="0" font-size="8.2" text-anchor="middle" fill="#222" stroke="#222" stroke-width="0.1" transform="translate(21.8 250.1) rotate(-90)">A</text>
<text x="0" y="0" font-size="8.2" text-anchor="middle" fill="#222" stroke="#222" stroke-width="0.1" transform="translate(21.8 274.1) rotate(-90)">B</text>
<text x="0" y="0" font-size="8.2" text-anchor="middle" fill="#222" stroke="#222" stroke-width="0.1" transform="translate(21.8 308.1) rotate(-90)">C</text>
<line x1="43.41" y1="238.40" x2="43.41" y2="241.40" stroke="#4a4a4a" stroke-width="0.6" />
<line x1="50.05" y1="238.40" x2="50.05" y2="241.40" stroke="#4a4a4a" stroke-width="0.6" />
<line x1="43.41" y1="238.40" x2="50.05" y2="238.40" stroke="#4a4a4a" stroke-width="0.6" />
<line x1="56.67" y1="238.40" x2="56.67" y2="241.40" stroke="#4a4a4a" stroke-width="0.6" />
<line x1="63.30" y1="238.40" x2="63.30" y2="241.40" stroke="#4a4a4a" stroke-width="0.6" />
<line x1="56.67" y1="238.40" x2="63.30" y2="238.40" stroke="#4a4a4a" stroke-width="0.6" />
<line x1="46.73" y1="237.00" x2="46.73" y2="238.40" stroke="#4a4a4a" stroke-width="0.6" />
<line x1="59.99" y1="237.00" x2="59.99" y2="238.40" stroke="#4a4a4a" stroke-width="0.6" />
<line x1="46.73" y1="237.00" x2="59.99" y2="237.00" stroke="#4a4a4a" stroke-width="0.6" />
<line x1="69.94" y1="238.40" x2="69.94" y2="241.40" stroke="#4a4a4a" stroke-width="0.6" />
<line x1="76.56" y1="238.40" x2="76.56" y2="241.40" stroke="#4a4a4a" stroke-width="0.6" />
<line x1="69.94" y1="238.40" x2="76.56" y2="238.40" stroke="#4a4a4a" stroke-width="0.6" />
<line x1="53.36" y1="235.80" x2="53.36" y2="237.00" stroke="#4a4a4a" stroke-width="0.6" />
<line x1="73.25" y1="235.80" x2="73.25" y2="238.40" stroke="#4a4a4a" stroke-width="0.6" />
<line x1="53.36" y1="235.80" x2="73.25" y2="235.80" stroke="#4a4a4a" stroke-width="0.6" />
<line x1="83.19" y1="238.40" x2="83.19" y2="241.40" stroke="#4a4a4a" stroke-width="0.6" />
<line x1="89.83" y1="238.40" x2="89.83" y2="241.40" stroke="#4a4a4a" stroke-width="0.6" />
<line x1="83.19" y1="238.40" x2="89.83" y2="238.40" stroke="#4a4a4a" stroke-width="0.6" />
<line x1="96.45" y1="238.40" x2="96.45" y2="241.40" stroke="#4a4a4a" stroke-width="0.6" />
<line x1="103.09" y1="238.40" x2="103.09" y2="241.40" stroke="#4a4a4a" stroke-width="0.6" />
<line x1="96.45" y1="238.40" x2="103.09" y2="238.40" stroke="#4a4a4a" stroke-width="0.6" />
<line x1="109.72" y1="238.40" x2="109.72" y2="241.40" stroke="#4a4a4a" stroke-width="0.6" />
<line x1="116.34" y1="238.40" x2="116.34" y2="241.40" stroke="#4a4a4a" stroke-width="0.6" />
<line x1="109.72" y1="238.40" x2="116.34" y2="238.40" stroke="#4a4a4a" stroke-width="0.6" />
<line x1="99.77" y1="236.50" x2="99.77" y2="238.40" stroke="#4a4a4a" stroke-width="0.6" />
<line x1="113.03" y1="236.50" x2="113.03" y2="238.40" stroke="#4a4a4a" stroke-width="0.6" />
<line x1="99.77" y1="236.50" x2="113.03" y2="236.50" stroke="#4a4a4a" stroke-width="0.6" />
<line x1="63.30" y1="234.40" x2="63.30" y2="235.80" stroke="#4a4a4a" stroke-width="0.6" />
<line x1="86.51" y1="234.40" x2="86.51" y2="238.40" stroke="#4a4a4a" stroke-width="0.6" />
<line x1="106.40" y1="234.40" x2="106.40" y2="236.50" stroke="#4a4a4a" stroke-width="0.6" />
<line x1="63.30" y1="234.40" x2="106.40" y2="234.40" stroke="#4a4a4a" stroke-width="0.6" />
<line x1="84.85" y1="232.10" x2="84.85" y2="234.40" stroke="#4a4a4a" stroke-width="0.6" />
<line x1="122.97" y1="232.10" x2="122.97" y2="241.40" stroke="#4a4a4a" stroke-width="0.6" />
<line x1="84.85" y1="232.10" x2="122.97" y2="232.10" stroke="#4a4a4a" stroke-width="0.6" />
<line x1="129.60" y1="236.10" x2="129.60" y2="241.40" stroke="#4a4a4a" stroke-width="0.6" />
<line x1="136.24" y1="236.10" x2="136.24" y2="241.40" stroke="#4a4a4a" stroke-width="0.6" />
<line x1="129.60" y1="236.10" x2="136.24" y2="236.10" stroke="#4a4a4a" stroke-width="0.6" />
<line x1="132.92" y1="233.50" x2="132.92" y2="236.10" stroke="#4a4a4a" stroke-width="0.6" />
<line x1="142.87" y1="233.50" x2="142.87" y2="241.40" stroke="#4a4a4a" stroke-width="0.6" />
<line x1="132.92" y1="233.50" x2="142.87" y2="233.50" stroke="#4a4a4a" stroke-width="0.6" />
<line x1="103.91" y1="231.30" x2="103.91" y2="232.10" stroke="#4a4a4a" stroke-width="0.6" />
<line x1="137.89" y1="231.30" x2="137.89" y2="233.50" stroke="#4a4a4a" stroke-width="0.6" />
<line x1="103.91" y1="231.30" x2="137.89" y2="231.30" stroke="#4a4a4a" stroke-width="0.6" />
<line x1="149.50" y1="234.30" x2="149.50" y2="241.40" stroke="#4a4a4a" stroke-width="0.6" />
<line x1="156.12" y1="234.30" x2="156.12" y2="241.40" stroke="#4a4a4a" stroke-width="0.6" />
<line x1="149.50" y1="234.30" x2="156.12" y2="234.30" stroke="#4a4a4a" stroke-width="0.6" />
<line x1="162.75" y1="233.70" x2="162.75" y2="241.40" stroke="#4a4a4a" stroke-width="0.6" />
<line x1="169.38" y1="233.70" x2="169.38" y2="241.40" stroke="#4a4a4a" stroke-width="0.6" />
<line x1="162.75" y1="233.70" x2="169.38" y2="233.70" stroke="#4a4a4a" stroke-width="0.6" />
<line x1="152.81" y1="232.00" x2="152.81" y2="234.30" stroke="#4a4a4a" stroke-width="0.6" />
<line x1="166.07" y1="232.00" x2="166.07" y2="233.70" stroke="#4a4a4a" stroke-width="0.6" />
<line x1="152.81" y1="232.00" x2="166.07" y2="232.00" stroke="#4a4a4a" stroke-width="0.6" />
<line x1="120.90" y1="229.30" x2="120.90" y2="231.30" stroke="#4a4a4a" stroke-width="0.6" />
<line x1="159.44" y1="229.30" x2="159.44" y2="232.00" stroke="#4a4a4a" stroke-width="0.6" />
<line x1="120.90" y1="229.30" x2="159.44" y2="229.30" stroke="#4a4a4a" stroke-width="0.6" />
<line x1="140.17" y1="226.00" x2="140.17" y2="229.30" stroke="#4a4a4a" stroke-width="0.6" />
<line x1="176.01" y1="226.00" x2="176.01" y2="241.40" stroke="#4a4a4a" stroke-width="0.6" />
<line x1="140.17" y1="226.00" x2="176.01" y2="226.00" stroke="#4a4a4a" stroke-width="0.6" />
<rect x="242.0" y="231.3" width="7.1" height="35.3" fill="url(#gC)"/>
<text x="240.60" y="228.00" font-size="5.0" text-anchor="start" fill="#222" font-weight="normal" >Log<tspan font-size="3.2" dy="1.2">2</tspan><tspan dy="-1.2"> FC</tspan></text>
<text x="251.30" y="234.70" font-size="5.6" text-anchor="start" fill="#222" font-weight="normal" >40</text>
<text x="251.30" y="243.20" font-size="5.6" text-anchor="start" fill="#222" font-weight="normal" >20</text>
<text x="251.30" y="251.00" font-size="5.6" text-anchor="start" fill="#222" font-weight="normal" >0</text>
<text x="250.60" y="259.00" font-size="5.6" text-anchor="start" fill="#222" font-weight="normal" >&#8722;20</text>
<text x="250.60" y="267.20" font-size="5.6" text-anchor="start" fill="#222" font-weight="normal" >&#8722;40</text>
<text x="288.90" y="224.00" font-size="12.2" text-anchor="start" fill="#000" font-weight="bold" stroke="#000" stroke-width="0.25">D</text>
<line x1="339.50" y1="221.80" x2="339.50" y2="327.50" stroke="#2a2a2a" stroke-width="1.0" />
<line x1="339.00" y1="327.00" x2="448.50" y2="327.00" stroke="#2a2a2a" stroke-width="1.0" />
<line x1="337.60" y1="225.00" x2="339.50" y2="225.00" stroke="#333" stroke-width="0.8" />
<text x="335.90" y="227.20" font-size="6.1" text-anchor="end" fill="#222" font-weight="normal" stroke="#222" stroke-width="0.1">1</text>
<line x1="337.60" y1="237.34" x2="339.50" y2="237.34" stroke="#333" stroke-width="0.8" />
<text x="335.90" y="239.54" font-size="6.1" text-anchor="end" fill="#222" font-weight="normal" stroke="#222" stroke-width="0.1">0.95</text>
<line x1="337.60" y1="249.69" x2="339.50" y2="249.69" stroke="#333" stroke-width="0.8" />
<text x="335.90" y="251.89" font-size="6.1" text-anchor="end" fill="#222" font-weight="normal" stroke="#222" stroke-width="0.1">0.9</text>
<line x1="337.60" y1="262.04" x2="339.50" y2="262.04" stroke="#333" stroke-width="0.8" />
<text x="335.90" y="264.24" font-size="6.1" text-anchor="end" fill="#222" font-weight="normal" stroke="#222" stroke-width="0.1">0.85</text>
<line x1="337.60" y1="274.38" x2="339.50" y2="274.38" stroke="#333" stroke-width="0.8" />
<text x="335.90" y="276.58" font-size="6.1" text-anchor="end" fill="#222" font-weight="normal" stroke="#222" stroke-width="0.1">0.8</text>
<line x1="337.60" y1="286.73" x2="339.50" y2="286.73" stroke="#333" stroke-width="0.8" />
<text x="335.90" y="288.93" font-size="6.1" text-anchor="end" fill="#222" font-weight="normal" stroke="#222" stroke-width="0.1">0.75</text>
<line x1="337.60" y1="299.07" x2="339.50" y2="299.07" stroke="#333" stroke-width="0.8" />
<text x="335.90" y="301.27" font-size="6.1" text-anchor="end" fill="#222" font-weight="normal" stroke="#222" stroke-width="0.1">0.7</text>
<line x1="337.60" y1="311.41" x2="339.50" y2="311.41" stroke="#333" stroke-width="0.8" />
<text x="335.90" y="313.61" font-size="6.1" text-anchor="end" fill="#222" font-weight="normal" stroke="#222" stroke-width="0.1">0.65</text>
<line x1="337.60" y1="323.76" x2="339.50" y2="323.76" stroke="#333" stroke-width="0.8" />
<text x="335.90" y="325.96" font-size="6.1" text-anchor="end" fill="#222" font-weight="normal" stroke="#222" stroke-width="0.1">0.6</text>
<line x1="348.75" y1="327.00" x2="348.75" y2="328.80" stroke="#333" stroke-width="0.8" />
<text x="348.75" y="335.40" font-size="6.1" text-anchor="middle" fill="#222" font-weight="normal" stroke="#222" stroke-width="0.1">4</text>
<line x1="358.15" y1="327.00" x2="358.15" y2="328.80" stroke="#333" stroke-width="0.8" />
<text x="358.15" y="335.40" font-size="6.1" text-anchor="middle" fill="#222" font-weight="normal" stroke="#222" stroke-width="0.1">6</text>
<line x1="370.00" y1="327.00" x2="370.00" y2="328.80" stroke="#333" stroke-width="0.8" />
<text x="370.00" y="335.40" font-size="6.1" text-anchor="middle" fill="#222" font-weight="normal" stroke="#222" stroke-width="0.1">10</text>
<line x1="386.07" y1="327.00" x2="386.07" y2="328.80" stroke="#333" stroke-width="0.8" />
<text x="386.07" y="335.40" font-size="6.1" text-anchor="middle" fill="#222" font-weight="normal" stroke="#222" stroke-width="0.1">20</text>
<line x1="402.15" y1="327.00" x2="402.15" y2="328.80" stroke="#333" stroke-width="0.8" />
<text x="402.15" y="335.40" font-size="6.1" text-anchor="middle" fill="#222" font-weight="normal" stroke="#222" stroke-width="0.1">40</text>
<line x1="411.55" y1="327.00" x2="411.55" y2="328.80" stroke="#333" stroke-width="0.8" />
<text x="411.55" y="335.40" font-size="6.1" text-anchor="middle" fill="#222" font-weight="normal" stroke="#222" stroke-width="0.1">60</text>
<line x1="423.40" y1="327.00" x2="423.40" y2="328.80" stroke="#333" stroke-width="0.8" />
<text x="423.40" y="335.40" font-size="6.1" text-anchor="middle" fill="#222" font-weight="normal" stroke="#222" stroke-width="0.1">100</text>
<line x1="439.47" y1="327.00" x2="439.47" y2="328.80" stroke="#333" stroke-width="0.8" />
<text x="439.47" y="335.40" font-size="6.1" text-anchor="middle" fill="#222" font-weight="normal" stroke="#222" stroke-width="0.1">200</text>
<text x="394.80" y="344.40" font-size="6.4" text-anchor="middle" fill="#222" font-weight="normal" >Serum CXCL10</text>
<text x="395.60" y="350.90" font-size="6.4" text-anchor="middle" fill="#222" font-weight="normal" >(24 h post 1st dose fold change)</text>
<text x="0" y="0" font-size="6.4" text-anchor="middle" fill="#222" transform="translate(310.0 271.0) rotate(-90)">CXCR3<tspan font-size="5.0" dy="-2.5">+</tspan><tspan dy="2.5"> CD8</tspan><tspan font-size="5.0" dy="-2.5">+</tspan><tspan dy="2.3"> % population</tspan></text>
<text x="0" y="0" font-size="6.4" text-anchor="middle" fill="#222" transform="translate(317.1 271.0) rotate(-90)">(24 h post 1st dose fold change)</text>
<circle cx="351" cy="226" r="1.9" fill="#1c1c6e"/>
<circle cx="344.5" cy="236.25" r="1.9" fill="#1c1c6e"/>
<circle cx="373.25" cy="238.25" r="1.9" fill="#1c1c6e"/>
<circle cx="386.75" cy="239" r="1.9" fill="#1c1c6e"/>
<circle cx="373.25" cy="247.5" r="1.9" fill="#1c1c6e"/>
<circle cx="397.25" cy="248.25" r="1.9" fill="#1c1c6e"/>
<circle cx="411.5" cy="249.25" r="1.9" fill="#1c1c6e"/>
<circle cx="399.5" cy="257.25" r="1.9" fill="#1c1c6e"/>
<circle cx="417.75" cy="261.5" r="1.9" fill="#1c1c6e"/>
<circle cx="440.25" cy="265" r="1.9" fill="#1c1c6e"/>
<circle cx="385.5" cy="269.5" r="1.9" fill="#1c1c6e"/>
<circle cx="407" cy="270.5" r="1.9" fill="#1c1c6e"/>
<circle cx="400.75" cy="272.75" r="1.9" fill="#1c1c6e"/>
<circle cx="410" cy="287.5" r="1.9" fill="#1c1c6e"/>
<circle cx="419.25" cy="293" r="1.9" fill="#1c1c6e"/>
<circle cx="431.25" cy="298.25" r="1.9" fill="#1c1c6e"/>
<circle cx="436.25" cy="298.5" r="1.9" fill="#1c1c6e"/>
<circle cx="398.5" cy="308.25" r="1.9" fill="#1c1c6e"/>
<circle cx="403.25" cy="306.75" r="1.9" fill="#1c1c6e"/>
<circle cx="406" cy="315" r="1.9" fill="#1c1c6e"/>
<circle cx="444.75" cy="321.25" r="1.9" fill="#1c1c6e"/>
</svg></body></html>
